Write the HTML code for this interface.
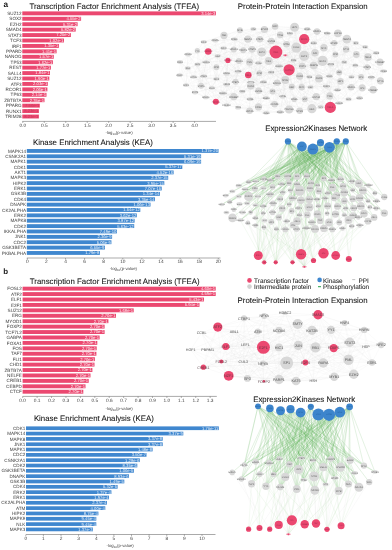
<!DOCTYPE html>
<html><head><meta charset="utf-8"><style>
html,body{margin:0;padding:0;background:#fff;}
svg{display:block;font-family:"Liberation Sans",sans-serif;will-change:transform;text-rendering:geometricPrecision;}
</style></head><body>
<svg width="392" height="550" viewBox="0 0 392 550">
<path d="M286.6 44.3L252.1 49.4M235.5 81.8L250.1 99.2M317.0 31.6L337.9 33.4M217.7 55.8L258.5 63.0M317.0 31.6L304.2 55.8M187.8 68.2L205.7 97.4M223.6 48.2L217.7 55.8M233.8 96.7L242.4 91.6M317.0 31.6L313.7 65.5M215.1 40.5L215.9 101.8M233.8 96.7L238.1 107.7M291.8 86.8L320.6 106.9M271.3 72.4L289.1 109.4M206.2 62.2L216.4 67.3M249.6 62.2L216.4 67.3M371.3 77.5L348.6 99.2M335.4 54.5L351.2 87.2M293.6 60.5L299.7 76.2M242.4 91.6L258.5 90.8M238.9 60.9L277.1 82.7M330.3 107.4L339.2 103.1M351.2 87.2L339.2 103.1M289.1 69.8L376.3 52.8M216.4 78.8L211.8 87.8M346.8 39.2L285.3 80.1M216.4 67.3L226.6 73.7M344.3 62.2L329.8 95.9M180.0 62.0L186.0 85.1M383.8 71.1L362.2 87.8M224.0 35.4L197.5 64.5M299.7 76.2L291.8 86.8M195.0 92.6L201.1 85.7M316.2 96.7L311.9 108.7M224.0 35.4L216.4 78.8M280.2 34.9L286.6 44.3M258.5 63.0L311.9 108.7M268.7 60.9L285.3 80.1M319.0 78.5L339.2 103.1M302.2 66.0L313.7 65.5M282.7 96.7L274.6 104.3M275.9 52.0L211.8 87.8M329.5 76.2L294.2 99.6M362.2 87.8L339.2 103.1M329.5 76.2L340.5 81.4M282.7 96.7L299.7 110.7M235.5 81.8L242.4 91.6M346.1 49.4L326.4 86.5M278.9 66.0L289.1 69.8M361.0 77.0L351.2 87.2M286.6 44.3L296.3 47.6M317.0 31.6L334.1 43.0M294.6 27.2L259.8 39.2M285.3 55.3L258.5 90.8M233.8 96.7L215.9 101.8M278.9 66.0L304.2 55.8M291.8 86.8L301.7 87.2M294.2 99.6L301.7 87.2M278.9 66.0L313.7 65.5M356.3 54.5L344.3 62.2M233.8 96.7L249.6 110.7M293.6 60.5L346.8 39.2M371.3 77.5L362.2 87.8M344.3 62.2L339.2 72.4M249.6 62.2L259.3 73.2M322.6 60.9L299.7 76.2M351.2 87.2L359.6 98.0M242.4 91.6L250.1 99.2M226.6 84.7L258.5 90.8M227.9 60.4L250.8 85.7M234.3 39.2L261.8 52.0M226.6 84.7L258.5 106.9M294.6 27.2L304.8 99.2M234.3 39.2L268.7 60.9M226.6 73.7L242.4 91.6M224.0 35.4L227.9 60.4M299.7 76.2L309.3 76.8M272.5 91.6L266.2 112.8M248.3 75.0L235.5 81.8M296.3 47.6L278.9 66.0M239.9 30.3L234.3 39.2M319.0 78.5L326.4 86.5M261.8 52.0L275.9 52.0M239.9 30.3L233.8 49.4M275.9 52.0L351.5 76.8M239.9 30.3L238.9 60.9M285.3 80.1L272.5 91.6M282.7 96.7L280.2 112.0M271.3 41.0L313.7 43.0M266.2 112.8L280.2 112.0M304.2 55.8L313.7 65.5M266.2 98.0L274.6 104.3M285.3 80.1L274.6 104.3M362.2 87.8L359.6 98.0M329.5 76.2L337.4 89.8M275.9 52.0L249.6 110.7M361.0 77.0L340.5 81.4M285.3 80.1L299.7 110.7M317.0 31.6L327.2 33.4M208.2 51.5L195.0 92.6M291.8 86.8L282.7 96.7M294.2 99.6L289.1 109.4M291.8 86.8L289.1 109.4M233.8 96.7L226.6 105.1M293.6 60.5L263.6 81.8M249.6 62.2L268.7 60.9M186.0 85.1L222.8 93.4M285.3 80.1L311.9 108.7M322.6 60.9L330.8 64.7M334.1 43.0L376.3 52.8M206.2 62.2L203.7 76.2M275.1 26.5L278.9 66.0M351.2 87.2L373.1 89.8M346.8 39.2L339.2 72.4M294.6 27.2L258.5 106.9M216.4 78.8L201.1 85.7M355.8 43.0L346.1 49.4M258.5 63.0L250.8 85.7M224.0 35.4L261.8 52.0M307.3 29.0L313.7 43.0M180.0 62.0L193.5 76.8M258.5 106.9L249.6 110.7M226.6 73.7L215.9 101.8M227.9 60.4L266.2 98.0M239.9 30.3L264.4 29.5M197.5 64.5L216.4 67.3M316.2 96.7L299.7 110.7M275.9 52.0L299.7 76.2M285.3 55.3L271.3 72.4M313.7 43.0L311.9 108.7M280.2 34.9L275.9 52.0M239.9 30.3L275.9 52.0M285.3 55.3L317.0 31.6M263.6 81.8L242.4 91.6M266.2 98.0L280.2 112.0M285.3 80.1L280.2 112.0M248.3 75.0L320.6 106.9M179.5 75.2L186.0 85.1M259.3 73.2L250.1 99.2M208.2 51.5L188.0 54.5M285.3 55.3L309.3 76.8M330.8 64.7L319.0 78.5M317.0 31.6L313.7 43.0M238.9 60.9L238.1 71.6M208.2 51.5L238.1 71.6M337.4 89.8L329.8 95.9M275.1 26.5L286.6 44.3M293.6 60.5L289.1 69.8M346.8 39.2L355.8 43.0M252.1 49.4L261.8 52.0M271.3 72.4L266.2 98.0M346.8 39.2L368.0 57.1M293.6 60.5L304.2 55.8M271.3 72.4L280.2 112.0M249.6 62.2L248.3 75.0M206.2 62.2L248.3 75.0M299.7 110.7L320.6 106.9M249.6 110.7L266.2 112.8M227.9 60.4L302.2 66.0M383.8 71.1L380.4 80.8M351.2 87.2L348.6 99.2M309.3 76.8L301.7 87.2M227.9 60.4L226.6 84.7M307.3 29.0L317.0 31.6M224.0 35.4L208.2 51.5M211.8 87.8L215.9 101.8M294.6 27.2L330.3 107.4M289.1 69.8L339.2 103.1M224.0 35.4L217.7 55.8M277.1 82.7L242.4 91.6M211.8 87.8L249.6 110.7M275.9 52.0L346.8 39.2M258.5 63.0L266.2 98.0M197.5 64.5L179.5 75.2M275.9 52.0L315.0 52.8M319.0 78.5L310.4 87.2M238.1 71.6L259.3 73.2M187.8 68.2L216.4 67.3M319.0 78.5L348.6 99.2M361.0 77.0L371.3 77.5M275.9 52.0L277.1 82.7M348.6 99.2L339.2 103.1M266.2 98.0L258.5 106.9M188.0 54.5L211.8 87.8M365.2 46.8L322.6 60.9M238.9 60.9L249.6 62.2M264.4 29.5L227.9 60.4M293.6 60.5L296.3 47.6M259.3 73.2L238.1 107.7M271.3 72.4L302.2 66.0M208.2 51.5L186.0 85.1M371.3 77.5L380.4 80.8M301.7 87.2L316.2 96.7M337.4 89.8L351.2 87.2M261.8 52.0L316.2 96.7M264.4 29.5L307.3 29.0M337.4 89.8L311.9 108.7M351.5 76.8L359.6 98.0M249.6 62.2L258.5 63.0M186.0 85.1L205.7 97.4M203.7 76.2L205.7 97.4M334.1 43.0L355.8 43.0M322.6 60.9L313.7 65.5M322.6 60.9L329.5 76.2M346.8 39.2L329.5 76.2M351.2 87.2L362.2 87.8M351.2 87.2L320.6 106.9M224.0 35.4L239.9 30.3M234.3 39.2L197.3 50.7M294.6 27.2L310.4 87.2M368.0 57.1L351.2 87.2M224.0 35.4L259.8 39.2M268.7 60.9L289.1 69.8M309.3 76.8L351.2 87.2M211.8 87.8L233.8 96.7M233.8 49.4L226.6 84.7M307.3 29.0L304.2 39.2M277.1 82.7L285.3 80.1M211.8 87.8L226.6 105.1M289.1 69.8L326.4 86.5M272.5 91.6L301.7 87.2M216.4 67.3L222.8 93.4M277.1 82.7L249.6 110.7M239.9 30.3L253.4 29.0M197.5 64.5L206.2 62.2M187.8 68.2L179.5 75.2M197.5 64.5L203.7 76.2M197.3 50.7L197.5 64.5M376.3 52.8L339.2 72.4M340.5 81.4L326.4 86.5M329.5 76.2L291.8 86.8M285.3 80.1L291.8 86.8M304.8 99.2L330.3 107.4M271.3 41.0L307.3 29.0M348.6 99.2L359.6 98.0M264.4 29.5L261.8 52.0M179.5 75.2L193.5 76.8M193.5 76.8L211.8 87.8M365.2 46.8L380.0 62.2M337.9 33.4L322.6 60.9M335.4 54.5L322.6 60.9M301.7 87.2L337.4 89.8M238.9 60.9L226.6 73.7M275.1 26.5L280.2 34.9M293.6 60.5L278.9 66.0M271.3 72.4L291.8 86.8M275.1 26.5L275.9 52.0M346.8 39.2L334.1 43.0M203.7 76.2L226.6 84.7M351.5 76.8L330.3 107.4M346.8 39.2L356.3 54.5M226.6 73.7L263.6 81.8M217.7 55.8L233.8 96.7M252.1 49.4L258.5 63.0M258.5 90.8L272.5 91.6M346.8 39.2L367.3 67.3M258.5 90.8L274.6 104.3M289.9 33.6L322.6 60.9M234.3 39.2L247.8 39.2M227.9 60.4L211.8 87.8M268.7 60.9L250.8 82.6M272.5 91.6L282.7 96.7M258.5 63.0L291.8 86.8M307.3 29.0L323.9 47.7M289.1 69.8L330.3 107.4M272.5 91.6L289.1 109.4M250.8 82.6L250.8 85.7M271.3 41.0L261.8 52.0M313.7 65.5L285.3 80.1M197.5 64.5L187.8 68.2M275.9 52.0L337.9 33.4M271.3 41.0L268.7 60.9M285.3 55.3L268.7 60.9M238.1 71.6L248.3 75.0M197.3 50.7L227.9 60.4M346.1 49.4L315.0 52.8M187.8 68.2L206.2 62.2M376.3 52.8L383.8 71.1M346.1 49.4L330.8 64.7M250.1 99.2L266.2 112.8M304.8 99.2L348.6 99.2M187.8 68.2L203.7 76.2M340.5 81.4L373.1 89.8M259.3 73.2L299.7 76.2M264.4 29.5L289.9 33.6M263.6 81.8L277.1 82.7M348.6 99.2L330.3 107.4M340.5 81.4L330.3 107.4M188.0 54.5L201.1 85.7M302.2 66.0L329.8 95.9M365.2 46.8L335.4 54.5M293.6 60.5L286.6 44.3M337.9 33.4L346.1 49.4M365.2 46.8L344.3 62.2M293.6 60.5L285.3 55.3M330.8 64.7L344.3 62.2M238.1 107.7L274.6 104.3M208.2 51.5L193.5 76.8M301.7 87.2L304.8 99.2M271.3 72.4L309.3 76.8M351.5 76.8L310.4 87.2M227.9 60.4L216.4 67.3M355.3 65.5L373.1 89.8M367.3 67.3L371.3 77.5M380.4 80.8L373.1 89.8M346.8 39.2L365.2 46.8M258.5 63.0L271.3 72.4M201.1 85.7L205.7 97.4M222.8 93.4L258.5 106.9M258.5 90.8L266.2 98.0M247.8 39.2L235.5 81.8M309.3 76.8L272.5 91.6M243.2 50.2L249.6 62.2M289.1 69.8L242.4 91.6M259.8 39.2L296.3 47.6M289.1 69.8L310.4 87.2M243.2 50.2L278.9 66.0M268.7 60.9L278.9 66.0M313.7 43.0L319.0 78.5M275.9 52.0L238.1 71.6M368.0 57.1L337.4 89.8M319.0 78.5L339.2 72.4M211.8 87.8L222.8 93.4M252.1 49.4L258.5 90.8M304.2 55.8L339.2 72.4M277.1 82.7L282.7 96.7M248.3 75.0L250.8 85.7M250.1 99.2L238.1 107.7M248.3 75.0L272.5 91.6M253.4 29.0L304.2 55.8M346.1 49.4L383.8 71.1M285.3 55.3L248.3 75.0M248.3 75.0L274.6 104.3M197.3 50.7L206.2 62.2M226.6 105.1L266.2 112.8M304.8 99.2L320.6 106.9M340.5 81.4L348.6 99.2M261.8 52.0L302.2 66.0M197.3 50.7L203.7 76.2M264.4 29.5L259.8 39.2M327.2 33.4L339.2 72.4M261.8 52.0L226.6 84.7M302.2 66.0L311.9 108.7M296.3 47.6L316.2 96.7M193.5 76.8L201.1 85.7M286.6 44.3L263.6 81.8M365.2 46.8L376.3 52.8M205.7 97.4L215.9 101.8M261.8 52.0L258.5 90.8M193.5 76.8L233.8 96.7M301.7 87.2L326.4 86.5M337.9 33.4L344.3 62.2M335.4 54.5L344.3 62.2M238.1 107.7L280.2 112.0M351.5 76.8L362.2 87.8M275.1 26.5L271.3 41.0M233.8 49.4L197.5 64.5M337.4 89.8L304.8 99.2M278.9 66.0L289.1 109.4M233.8 49.4L216.4 67.3M226.6 73.7L238.1 71.6M368.0 57.1L367.3 67.3M304.2 39.2L266.2 112.8M356.3 54.5L373.1 89.8M226.6 73.7L250.8 82.6M258.5 63.0L216.4 78.8M304.2 39.2L330.3 107.4M289.9 33.6L304.2 39.2M289.1 69.8L285.3 80.1M258.5 90.8L258.5 106.9M233.8 49.4L304.2 39.2M278.9 66.0L311.9 108.7M259.8 39.2L249.6 62.2M289.1 69.8L249.6 110.7M211.8 87.8L250.8 85.7M313.7 65.5L330.8 64.7M275.9 52.0L278.9 66.0M215.1 40.5L234.3 39.2M280.2 112.0L311.9 108.7M271.3 41.0L252.1 49.4M197.3 50.7L208.2 51.5M259.3 73.2L263.6 81.8M271.3 41.0L258.5 63.0M250.8 82.6L258.5 90.8M376.3 52.8L367.3 67.3M250.8 85.7L272.5 91.6M250.8 82.6L258.5 106.9M250.1 99.2L249.6 110.7M197.3 50.7L187.8 68.2M302.2 66.0L294.2 99.6M226.6 105.1L238.1 107.7M339.2 72.4L340.5 81.4M264.4 29.5L294.6 27.2M340.5 81.4L320.6 106.9M280.2 34.9L302.2 66.0M293.6 60.5L280.2 34.9M203.7 76.2L216.4 78.8M337.9 33.4L323.9 47.7M355.3 65.5L351.5 76.8M205.7 97.4L233.8 96.7M315.0 52.8L285.3 80.1M311.9 108.7L339.2 103.1M337.9 33.4L376.3 52.8M335.4 54.5L376.3 52.8M205.7 97.4L226.6 105.1M238.1 107.7L258.5 106.9M264.4 29.5L296.3 47.6M233.8 49.4L227.9 60.4M227.9 60.4L206.2 62.2M278.9 66.0L294.2 99.6M380.4 80.8L362.2 87.8M216.4 78.8L235.5 81.8M367.3 67.3L361.0 77.0M208.2 51.5L282.7 96.7M258.5 63.0L259.3 73.2M289.1 69.8L299.7 76.2M309.3 76.8L319.0 78.5M304.2 39.2L310.4 87.2M304.2 39.2L348.6 99.2M289.9 33.6L307.3 29.0M258.5 90.8L250.1 99.2M203.7 41.8L216.4 78.8M293.6 60.5L301.7 87.2M243.2 50.2L238.9 60.9M253.4 29.0L247.8 39.2M346.8 39.2L320.6 106.9M275.9 52.0L285.3 55.3M259.8 39.2L285.3 55.3M289.1 69.8L301.7 87.2M319.0 78.5L329.5 76.2M320.6 106.9L339.2 103.1M289.1 109.4L299.7 110.7M250.8 82.6L291.8 86.8M285.3 55.3L296.3 47.6M248.3 75.0L226.6 84.7M327.2 33.4L337.9 33.4M346.1 49.4L356.3 54.5M296.3 47.6L222.8 93.4M327.2 33.4L304.2 55.8M259.3 73.2L304.2 55.8M346.1 49.4L367.3 67.3M340.5 81.4L301.7 87.2M327.2 33.4L313.7 65.5M296.3 47.6L266.2 98.0M280.2 34.9L322.6 60.9M339.2 72.4L337.4 89.8M264.4 29.5L247.8 39.2M217.7 55.8L238.1 71.6M302.2 66.0L299.7 110.7M337.9 33.4L346.8 39.2M315.0 52.8L299.7 76.2M329.8 95.9L311.9 108.7M289.9 33.6L261.8 52.0M203.7 41.8L223.6 48.2M223.6 48.2L304.2 55.8M258.5 63.0L268.7 60.9M289.1 69.8L315.0 52.8M227.9 60.4L248.3 75.0M247.8 39.2L227.9 60.4M278.9 66.0L274.6 104.3M233.8 49.4L206.2 62.2M368.0 57.1L355.3 65.5M201.1 85.7L211.8 87.8M203.7 41.8L179.5 75.2M274.6 104.3L266.2 112.8M293.6 60.5L282.7 96.7M233.8 49.4L203.7 76.2M368.0 57.1L361.0 77.0M289.1 69.8L277.1 82.7M253.4 29.0L275.1 26.5M206.2 62.2L201.1 85.7M322.6 60.9L329.8 95.9M289.1 109.4L280.2 112.0M289.1 109.4L304.8 99.2M252.1 49.4L215.9 101.8M299.7 76.2L310.4 87.2M280.2 112.0L299.7 110.7M215.1 40.5L223.6 48.2M193.5 76.8L195.0 92.6M380.0 62.2L373.1 89.8M259.3 73.2L250.8 82.6M339.2 72.4L371.3 77.5M346.1 49.4L365.2 46.8M250.8 85.7L258.5 90.8M327.2 33.4L334.1 43.0M280.2 34.9L317.0 31.6M235.5 81.8L215.9 101.8M286.6 44.3L249.6 62.2M217.7 55.8L249.6 62.2M264.4 29.5L275.1 26.5M294.6 27.2L296.3 47.6M315.0 52.8L330.8 64.7M223.6 48.2L188.0 54.5M356.3 54.5L376.3 52.8M186.0 85.1L203.7 76.2M355.3 65.5L339.2 72.4M205.7 97.4L222.8 93.4M310.4 87.2L351.2 87.2M311.9 108.7L330.3 107.4M294.2 99.6L311.9 108.7M310.4 87.2L311.9 108.7M223.6 48.2L250.8 82.6M233.8 49.4L217.7 55.8M238.9 60.9L250.8 85.7M208.2 51.5L250.8 85.7M278.9 66.0L266.2 98.0M368.0 57.1L380.0 62.2M242.4 91.6L238.1 107.7M323.9 47.7L322.6 60.9M258.5 63.0L248.3 75.0M326.4 86.5L320.6 106.9M203.7 41.8L206.2 62.2M322.6 60.9L351.2 87.2M216.4 67.3L216.4 78.8M313.7 43.0L323.9 47.7M253.4 29.0L234.3 39.2M299.7 76.2L285.3 80.1M253.4 29.0L233.8 49.4M215.9 101.8L266.2 98.0M296.3 47.6L313.7 43.0M188.0 54.5L186.0 85.1M296.3 47.6L322.6 60.9M362.2 87.8L373.1 89.8M302.2 66.0L319.0 78.5M261.8 52.0L259.3 73.2M239.9 30.3L216.4 67.3M304.2 55.8L367.3 67.3M261.8 52.0L307.3 29.0M250.8 85.7L250.1 99.2M235.5 81.8L233.8 96.7M261.8 52.0L323.9 47.7M268.7 60.9L311.9 108.7M239.9 30.3L304.2 39.2M286.6 44.3L285.3 55.3M280.2 34.9L304.2 39.2M223.6 48.2L243.2 50.2M291.8 86.8L294.2 99.6M223.6 48.2L249.6 62.2M304.2 39.2L315.0 52.8M355.3 65.5L383.8 71.1M356.3 54.5L330.8 64.7M217.7 55.8L235.5 81.8M355.3 65.5L380.4 80.8M294.2 99.6L316.2 96.7M310.4 87.2L316.2 96.7M289.9 33.6L252.1 49.4M233.8 49.4L252.1 49.4M289.1 69.8L337.9 33.4M203.7 41.8L208.2 51.5M208.2 51.5L205.7 97.4M203.7 41.8L217.7 55.8M226.6 84.7L242.4 91.6M242.4 91.6L249.6 110.7M289.1 69.8L313.7 65.5M326.4 86.5L329.8 95.9M226.6 84.7L238.1 107.7M346.8 39.2L340.5 81.4M253.4 29.0L264.4 29.5M313.7 43.0L315.0 52.8M248.3 75.0L216.4 78.8M234.3 39.2L289.1 69.8M296.3 47.6L271.3 72.4M248.3 75.0L304.2 39.2M215.9 101.8L258.5 106.9M248.3 75.0L335.4 54.5M261.8 52.0L268.7 60.9M299.7 76.2L301.7 87.2M239.9 30.3L227.9 60.4M362.2 87.8L348.6 99.2M193.5 76.8L186.0 85.1M304.2 55.8L302.2 66.0M250.8 85.7L242.4 91.6M329.5 76.2L326.4 86.5M275.9 52.0L289.1 109.4M266.2 112.8L330.3 107.4M197.5 64.5L201.1 85.7M329.5 76.2L359.6 98.0M275.9 52.0L351.2 87.2M294.6 27.2L286.6 44.3M291.8 86.8L272.5 91.6M259.8 39.2L311.9 108.7M361.0 77.0L339.2 103.1M304.2 39.2L355.8 43.0M238.1 71.6L226.6 105.1M315.0 52.8L313.7 65.5M187.8 68.2L215.9 101.8M356.3 54.5L368.0 57.1M278.9 66.0L322.6 60.9M329.8 95.9L339.2 103.1M356.3 54.5L383.8 71.1M294.6 27.2L226.6 73.7M294.2 99.6L299.7 110.7M310.4 87.2L299.7 110.7M203.7 41.8L239.9 30.3M311.9 108.7L320.6 106.9M247.8 39.2L259.8 39.2M330.8 64.7L330.3 107.4M252.1 49.4L248.3 75.0M238.9 60.9L226.6 84.7M247.8 39.2L252.1 49.4M242.4 91.6L226.6 105.1M208.2 51.5L258.5 90.8M323.9 47.7L335.4 54.5M226.6 84.7L215.9 101.8M216.4 78.8L222.8 93.4M180.0 62.0L179.5 75.2M355.8 43.0L376.3 52.8M216.4 67.3L203.7 76.2M299.7 76.2L339.2 72.4M334.1 43.0L340.5 81.4M234.3 39.2L238.1 71.6M248.3 75.0L259.3 73.2M299.7 76.2L282.7 96.7M195.0 92.6L205.7 97.4M296.3 47.6L304.2 39.2M280.2 34.9L261.8 52.0M239.9 30.3L261.8 52.0M268.7 60.9L250.8 85.7M304.2 55.8L322.6 60.9M302.2 66.0L309.3 76.8M266.2 98.0L266.2 112.8M261.8 52.0L263.6 81.8M235.5 81.8L222.8 93.4M285.3 55.3L299.7 76.2M304.2 55.8L291.8 86.8M286.6 44.3L275.9 52.0M317.0 31.6L304.2 39.2M361.0 77.0L359.6 98.0M223.6 48.2L233.8 49.4M294.6 27.2L233.8 49.4M217.7 55.8L197.5 64.5M291.8 86.8L266.2 98.0M285.3 55.3L201.1 85.7M304.2 39.2L304.2 55.8M233.8 96.7L272.5 91.6M317.0 31.6L344.3 62.2M291.8 86.8L280.2 112.0M294.2 99.6L280.2 112.0M304.2 39.2L313.7 65.5M293.6 60.5L327.2 33.4M294.2 99.6L304.8 99.2M310.4 87.2L304.8 99.2M197.3 50.7L215.9 101.8M371.3 77.5L337.4 89.8M249.6 62.2L238.1 71.6M293.6 60.5L302.2 66.0M299.7 110.7L311.9 108.7M203.7 41.8L197.3 50.7M249.6 62.2L250.8 82.6M293.6 60.5L319.0 78.5M383.8 71.1L371.3 77.5M322.6 60.9L371.3 77.5M226.6 84.7L233.8 96.7M271.3 72.4L330.3 107.4M274.6 104.3L289.1 109.4M234.3 39.2L243.2 50.2M226.6 84.7L226.6 105.1M216.4 67.3L248.3 75.0M355.8 43.0L330.8 64.7M248.3 75.0L203.7 76.2M296.3 47.6L259.3 73.2M195.0 92.6L226.6 84.7M316.2 96.7L330.3 107.4M272.5 91.6L311.9 108.7M296.3 47.6L307.3 29.0M239.9 30.3L208.2 51.5M261.8 52.0L258.5 63.0M285.3 80.1L242.4 91.6M282.7 96.7L249.6 110.7M313.7 65.5L320.6 106.9M285.3 55.3L346.8 39.2M339.2 72.4L351.5 76.8M179.5 75.2L216.4 67.3M361.0 77.0L373.1 89.8M294.6 27.2L280.2 34.9M179.5 75.2L216.4 78.8M317.0 31.6L323.9 47.7M285.3 55.3L277.1 82.7M294.6 27.2L275.9 52.0M278.9 66.0L304.2 39.2M361.0 77.0L330.3 107.4M197.3 50.7L201.1 85.7M359.6 98.0L339.2 103.1M233.8 96.7L266.2 98.0M346.1 49.4L311.9 108.7M291.8 86.8L326.4 86.5M310.4 87.2L326.4 86.5M344.3 62.2L355.3 65.5M203.7 41.8L224.0 35.4M365.2 46.8L362.2 87.8M271.3 72.4L310.4 87.2M322.6 60.9L319.0 78.5M275.1 26.5L307.3 29.0M252.1 49.4L250.8 82.6M294.6 27.2L301.7 87.2M286.6 44.3L311.9 108.7M216.4 78.8L205.7 97.4M294.6 27.2L329.8 95.9M233.8 49.4L211.8 87.8M226.6 73.7L250.8 85.7M258.5 106.9L274.6 104.3M180.0 62.0L187.8 68.2M355.8 43.0L368.0 57.1M258.5 63.0L242.4 91.6M272.5 91.6L294.2 99.6M380.0 62.2L383.8 71.1M355.8 43.0L383.8 71.1M258.5 106.9L299.7 110.7M268.7 60.9L302.2 66.0M307.3 29.0L330.8 64.7M380.0 62.2L380.4 80.8M235.5 81.8L250.8 82.6M319.0 78.5L289.1 109.4M277.1 82.7L289.1 109.4M239.9 30.3L259.8 39.2M316.2 96.7L348.6 99.2M271.3 41.0L263.6 81.8M239.9 30.3L258.5 63.0M266.2 98.0L249.6 110.7M248.3 75.0L299.7 110.7M263.6 81.8L294.2 99.6M208.2 51.5L197.5 64.5M285.3 80.1L320.6 106.9M208.2 51.5L216.4 67.3M193.5 76.8L226.6 105.1M317.0 31.6L315.0 52.8M208.2 51.5L216.4 78.8M291.8 86.8L250.1 99.2M264.4 29.5L289.1 69.8M271.3 72.4L285.3 80.1M337.4 89.8L339.2 103.1M275.1 26.5L261.8 52.0M203.7 76.2L211.8 87.8M238.9 60.9L304.2 39.2M344.3 62.2L309.3 76.8M252.1 49.4L249.6 62.2M334.1 43.0L365.2 46.8M322.6 60.9L355.3 65.5M346.8 39.2L355.3 65.5M322.6 60.9L361.0 77.0M252.1 49.4L278.9 66.0M322.6 60.9L291.8 86.8M294.6 27.2L289.1 109.4M216.4 78.8L226.6 84.7M234.3 39.2L233.8 49.4M234.3 39.2L238.9 60.9M355.8 43.0L304.2 55.8M296.3 47.6L217.7 55.8M227.9 60.4L226.6 105.1M272.5 91.6L274.6 104.3M197.5 64.5L188.0 54.5M224.0 35.4L226.6 73.7M195.0 92.6L211.8 87.8M316.2 96.7L320.6 106.9M187.8 68.2L195.0 92.6M238.1 71.6L250.8 82.6M376.3 52.8L371.3 77.5M285.3 55.3L289.1 69.8M282.7 96.7L289.1 109.4M263.6 81.8L250.8 85.7M285.3 55.3L337.9 33.4M208.2 51.5L223.6 48.2M285.3 55.3L304.2 55.8M263.6 81.8L272.5 91.6M259.3 73.2L222.8 93.4M346.1 49.4L337.4 89.8M330.8 64.7L339.2 72.4M365.2 46.8L339.2 72.4M361.0 77.0L362.2 87.8M271.3 72.4L299.7 76.2M275.1 26.5L289.9 33.6M359.6 98.0L330.3 107.4M275.1 26.5L208.2 51.5M233.8 96.7L250.1 99.2M346.8 39.2L346.1 49.4M293.6 60.5L304.2 39.2M252.1 49.4L285.3 55.3M222.8 93.4L238.1 107.7M344.3 62.2L351.5 76.8M334.1 43.0L322.6 60.9M322.6 60.9L309.3 76.8M294.6 27.2L294.2 99.6M367.3 67.3L373.1 89.8M334.1 43.0L361.0 77.0M309.3 76.8L326.4 86.5M224.0 35.4L234.3 39.2M268.7 60.9L271.3 72.4M211.8 87.8L205.7 97.4M226.6 73.7L226.6 84.7M224.0 35.4L233.8 49.4M355.8 43.0L356.3 54.5M272.5 91.6L266.2 98.0M277.1 82.7L272.5 91.6M307.3 29.0L304.2 55.8M271.3 41.0L296.3 47.6M307.3 29.0L313.7 65.5M272.5 91.6L304.8 99.2M247.8 39.2L215.9 101.8M239.9 30.3L247.8 39.2M329.5 76.2L339.2 72.4M250.8 82.6L266.2 112.8M313.7 65.5L340.5 81.4M319.0 78.5L299.7 110.7M304.8 99.2L311.9 108.7M285.3 55.3L238.1 71.6M282.7 96.7L294.2 99.6M340.5 81.4L329.8 95.9M275.9 52.0L361.0 77.0M285.3 80.1L282.7 96.7M250.8 82.6L330.3 107.4M266.2 98.0L289.1 109.4M259.3 73.2L250.8 85.7M264.4 29.5L243.2 50.2M263.6 81.8L266.2 98.0M365.2 46.8L368.0 57.1M261.8 52.0L242.4 91.6M259.3 73.2L272.5 91.6M301.7 87.2L310.4 87.2M208.2 51.5L206.2 62.2M238.9 60.9L206.2 62.2M335.4 54.5L330.8 64.7M337.9 33.4L330.8 64.7M335.4 54.5L339.2 72.4M275.1 26.5L259.8 39.2M351.5 76.8L351.2 87.2M271.3 72.4L277.1 82.7M337.4 89.8L330.3 107.4M293.6 60.5L307.3 29.0M186.0 85.1L201.1 85.7M203.7 76.2L201.1 85.7M346.8 39.2L335.4 54.5M226.6 73.7L235.5 81.8M222.8 93.4L215.9 101.8M252.1 49.4L238.9 60.9M334.1 43.0L346.1 49.4M322.6 60.9L344.3 62.2M201.1 85.7L238.1 107.7M383.8 71.1L351.5 76.8M234.3 39.2L223.6 48.2M211.8 87.8L226.6 84.7M227.9 60.4L222.8 93.4M355.8 43.0L365.2 46.8M275.9 52.0L271.3 72.4M258.5 63.0L277.1 82.7M258.5 106.9L266.2 112.8M275.9 52.0L317.0 31.6M258.5 63.0L282.7 96.7M197.5 64.5L180.0 62.0M216.4 67.3L242.4 91.6M215.1 40.5L227.9 60.4M285.3 55.3L249.6 62.2M271.3 41.0L249.6 62.2M250.8 82.6L242.4 91.6M277.1 82.7L280.2 112.0M187.8 68.2L186.0 85.1M285.3 80.1L330.3 107.4M238.1 71.6L235.5 81.8M197.3 50.7L188.0 54.5M275.9 52.0L309.3 76.8M285.3 55.3L278.9 66.0M313.7 65.5L337.4 89.8M340.5 81.4L351.2 87.2M304.8 99.2L316.2 96.7M248.3 75.0L250.1 99.2M250.1 99.2L311.9 108.7M271.3 72.4L263.6 81.8M263.6 81.8L258.5 90.8M296.3 47.6L326.4 86.5M261.8 52.0L285.3 80.1M208.2 51.5L217.7 55.8M337.9 33.4L355.8 43.0M179.5 75.2L195.0 92.6M335.4 54.5L368.0 57.1M330.8 64.7L329.5 76.2M238.9 60.9L248.3 75.0M275.1 26.5L294.6 27.2M351.5 76.8L340.5 81.4M351.5 76.8L316.2 96.7M337.4 89.8L348.6 99.2M222.8 93.4L233.8 96.7M275.1 26.5L296.3 47.6M346.8 39.2L323.9 47.7M252.1 49.4L275.9 52.0M346.8 39.2L376.3 52.8M222.8 93.4L226.6 105.1M278.9 66.0L304.8 99.2M334.1 43.0L335.4 54.5M201.1 85.7L215.9 101.8M227.9 60.4L304.2 55.8M243.2 50.2L227.9 60.4M249.6 110.7L280.2 112.0M195.0 92.6L206.2 62.2M289.1 69.8L294.2 99.6M195.0 92.6L203.7 76.2M309.3 76.8L310.4 87.2M268.7 60.9L259.3 73.2M289.1 69.8L340.5 81.4M320.6 106.9L330.3 107.4M224.0 35.4L223.6 48.2M307.3 29.0L327.2 33.4M211.8 87.8L250.1 99.2M373.1 89.8L359.6 98.0M271.3 41.0L286.6 44.3M249.6 62.2L311.9 108.7M277.1 82.7L258.5 106.9M197.5 64.5L193.5 76.8M376.3 52.8L380.0 62.2M180.0 62.0L211.8 87.8M238.1 71.6L271.3 72.4M250.8 82.6L249.6 110.7M346.1 49.4L355.3 65.5M203.7 41.8L227.9 60.4M304.8 99.2L299.7 110.7M361.0 77.0L380.4 80.8M340.5 81.4L316.2 96.7M339.2 72.4L326.4 86.5M271.3 72.4L289.1 69.8M365.2 46.8L356.3 54.5M304.2 55.8L304.8 99.2M271.3 72.4L304.2 55.8M337.9 33.4L304.2 55.8M365.2 46.8L367.3 67.3M330.8 64.7L367.3 67.3M304.2 55.8L339.2 103.1M335.4 54.5L313.7 65.5M238.1 107.7L249.6 110.7M286.6 44.3L322.6 60.9M335.4 54.5L329.5 76.2M275.1 26.5L247.8 39.2M351.5 76.8L337.4 89.8M380.4 80.8L340.5 81.4M227.9 60.4L238.1 71.6M337.4 89.8L362.2 87.8M275.1 26.5L243.2 50.2M294.6 27.2L302.2 66.0M315.0 52.8L316.2 96.7M226.6 73.7L216.4 78.8M286.6 44.3L291.8 86.8M334.1 43.0L323.9 47.7M201.1 85.7L233.8 96.7M223.6 48.2L226.6 84.7M289.1 69.8L250.8 85.7M309.3 76.8L285.3 80.1M289.9 33.6L289.1 69.8M289.9 33.6L304.2 55.8M249.6 62.2L222.8 93.4M224.0 35.4L253.4 29.0M253.4 29.0L275.9 52.0M368.0 57.1L362.2 87.8M323.9 47.7L310.4 87.2M259.8 39.2L259.3 73.2M313.7 65.5L319.0 78.5M319.0 78.5L291.8 86.8M277.1 82.7L291.8 86.8M215.1 40.5L208.2 51.5M277.1 82.7L250.1 99.2M215.1 40.5L217.7 55.8M296.3 47.6L309.3 76.8M376.3 52.8L344.3 62.2M327.2 33.4L313.7 43.0M197.3 50.7L285.3 55.3M187.8 68.2L193.5 76.8M346.1 49.4L380.0 62.2M197.3 50.7L180.0 62.0M261.8 52.0L315.0 52.8M340.5 81.4L337.4 89.8M248.3 75.0L249.6 110.7M197.3 50.7L226.6 73.7M327.2 33.4L355.3 65.5M186.0 85.1L195.0 92.6M264.4 29.5L280.2 34.9M271.3 72.4L250.8 82.6M351.5 76.8L371.3 77.5M293.6 60.5L259.8 39.2M337.9 33.4L334.1 43.0M286.6 44.3L317.0 31.6M337.9 33.4L356.3 54.5M285.3 55.3L362.2 87.8M294.6 27.2L313.7 43.0M289.9 33.6L296.3 47.6M238.1 71.6L226.6 84.7M294.6 27.2L322.6 60.9M368.0 57.1L376.3 52.8M326.4 86.5L351.2 87.2M217.7 55.8L211.8 87.8M326.4 86.5L311.9 108.7M258.5 63.0L250.8 82.6M258.5 90.8L282.7 96.7M323.9 47.7L351.5 76.8M259.8 39.2L271.3 41.0M259.8 39.2L261.8 52.0M253.4 29.0L223.6 48.2M275.9 52.0L268.7 60.9M289.1 69.8L280.2 112.0M268.7 60.9L248.3 75.0M253.4 29.0L227.9 60.4M215.1 40.5L259.8 39.2M271.3 41.0L280.2 34.9M259.3 73.2L271.3 72.4M313.7 65.5L291.8 86.8M215.1 40.5L252.1 49.4M271.3 41.0L275.9 52.0M299.7 76.2L311.9 108.7M346.1 49.4L335.4 54.5M193.5 76.8L235.5 81.8M250.1 99.2L266.2 98.0M248.3 75.0L233.8 96.7M346.1 49.4L344.3 62.2M250.1 99.2L280.2 112.0M248.3 75.0L226.6 105.1M346.1 49.4L351.5 76.8M264.4 29.5L293.6 60.5M271.3 72.4L278.9 66.0M304.2 55.8L266.2 112.8M217.7 55.8L216.4 67.3M355.3 65.5L367.3 67.3M264.4 29.5L223.6 48.2M339.2 72.4L348.6 99.2M217.7 55.8L216.4 78.8M285.3 55.3L329.8 95.9M294.6 27.2L317.0 31.6M233.8 49.4L243.2 50.2M278.9 66.0L242.4 91.6M227.9 60.4L226.6 73.7M367.3 67.3L383.8 71.1M247.8 39.2L296.3 47.6M289.1 69.8L302.2 66.0M304.2 39.2L274.6 104.3M367.3 67.3L380.4 80.8M203.7 41.8L188.0 54.5M356.3 54.5L337.4 89.8M226.6 73.7L203.7 76.2M326.4 86.5L316.2 96.7M274.6 104.3L311.9 108.7M243.2 50.2L252.1 49.4M250.8 82.6L263.6 81.8M309.3 76.8L282.7 96.7M313.7 43.0L304.2 55.8M253.4 29.0L271.3 41.0M206.2 62.2L205.7 97.4M252.1 49.4L250.8 85.7M275.9 52.0L248.3 75.0M313.7 65.5L309.3 76.8M215.1 40.5L197.3 50.7M261.8 52.0L289.1 69.8M250.8 85.7L233.8 96.7M327.2 33.4L304.2 39.2M250.1 99.2L258.5 106.9M250.8 85.7L226.6 105.1M327.2 33.4L335.4 54.5M217.7 55.8L227.9 60.4M275.9 52.0L299.7 110.7M315.0 52.8L302.2 66.0M261.8 52.0L329.5 76.2M264.4 29.5L271.3 41.0M285.3 55.3L282.7 96.7M223.6 48.2L197.5 64.5M351.5 76.8L361.0 77.0M339.2 72.4L320.6 106.9M304.2 55.8L310.4 87.2M356.3 54.5L367.3 67.3M329.8 95.9L330.3 107.4M285.3 55.3L351.2 87.2M356.3 54.5L371.3 77.5M289.9 33.6L286.6 44.3M227.9 60.4L238.9 60.9M294.6 27.2L304.2 39.2M278.9 66.0L285.3 80.1M227.9 60.4L193.5 76.8M247.8 39.2L243.2 50.2M208.2 51.5L211.8 87.8M289.1 69.8L322.6 60.9M278.9 66.0L215.9 101.8M326.4 86.5L337.4 89.8M247.8 39.2L249.6 62.2M323.9 47.7L315.0 52.8M368.0 57.1L383.8 71.1M233.8 49.4L235.5 81.8M258.5 63.0L235.5 81.8M368.0 57.1L380.4 80.8M274.6 104.3L316.2 96.7M344.3 62.2L373.1 89.8M289.1 69.8L291.8 86.8M313.7 43.0L334.1 43.0M206.2 62.2L226.6 84.7M259.8 39.2L252.1 49.4M346.8 39.2L359.6 98.0M249.6 62.2L258.5 90.8M289.1 109.4L301.7 87.2M215.1 40.5L224.0 35.4M188.0 54.5L179.5 75.2M302.2 66.0L299.7 76.2M296.3 47.6L330.8 64.7M250.8 85.7L277.1 82.7M261.8 52.0L250.8 82.6M193.5 76.8L216.4 78.8M304.2 55.8L351.5 76.8M327.2 33.4L323.9 47.7M239.9 30.3L304.2 55.8M315.0 52.8L322.6 60.9M223.6 48.2L227.9 60.4M217.7 55.8L206.2 62.2M186.0 85.1L226.6 73.7M294.2 99.6L266.2 112.8M329.8 95.9L348.6 99.2M304.2 39.2L302.2 66.0M355.3 65.5L361.0 77.0M205.7 97.4L242.4 91.6M223.6 48.2L259.3 73.2M356.3 54.5L319.0 78.5M294.6 27.2L307.3 29.0M247.8 39.2L286.6 44.3M329.5 76.2L330.3 107.4M233.8 49.4L238.9 60.9M208.2 51.5L285.3 80.1M226.6 84.7L222.8 93.4M249.6 62.2L322.6 60.9M344.3 62.2L310.4 87.2M326.4 86.5L339.2 103.1M180.0 62.0L195.0 92.6M383.8 71.1L373.1 89.8M334.1 43.0L326.4 86.5M253.4 29.0L259.8 39.2M248.3 75.0L289.1 69.8M253.4 29.0L252.1 49.4M215.9 101.8L226.6 105.1M261.8 52.0L249.6 62.2M188.0 54.5L206.2 62.2M188.0 54.5L203.7 76.2M302.2 66.0L339.2 72.4M235.5 81.8L226.6 84.7M327.2 33.4L346.8 39.2M302.2 66.0L277.1 82.7M329.5 76.2L329.8 95.9M275.9 52.0L258.5 106.9M294.6 27.2L271.3 41.0M238.1 71.6L205.7 97.4M285.3 55.3L250.8 85.7M223.6 48.2L261.8 52.0M304.2 39.2L313.7 43.0M217.7 55.8L187.8 68.2M294.6 27.2L261.8 52.0M329.8 95.9L320.6 106.9M356.3 54.5L355.3 65.5M310.4 87.2L348.6 99.2M203.7 41.8L215.1 40.5M223.6 48.2L203.7 76.2M289.9 33.6L280.2 34.9M371.3 77.5L373.1 89.8M203.7 41.8L234.3 39.2M278.9 66.0L277.1 82.7M208.2 51.5L201.1 85.7M247.8 39.2L233.8 49.4M335.4 54.5L329.8 95.9M238.9 60.9L233.8 96.7M274.6 104.3L280.2 112.0M289.1 69.8L344.3 62.2M293.6 60.5L215.9 101.8M216.4 78.8L250.1 99.2M180.0 62.0L188.0 54.5M346.8 39.2L310.4 87.2M380.0 62.2L367.3 67.3M248.3 75.0L250.8 82.6M380.0 62.2L371.3 77.5M299.7 76.2L258.5 90.8M316.2 96.7L329.8 95.9M334.1 43.0L330.3 107.4M239.9 30.3L243.2 50.2M195.0 92.6L215.9 101.8M188.0 54.5L187.8 68.2M299.7 76.2L326.4 86.5M296.3 47.6L304.2 55.8M239.9 30.3L249.6 62.2M304.2 55.8L315.0 52.8M261.8 52.0L226.6 73.7M235.5 81.8L322.6 60.9M193.5 76.8L206.2 62.2M261.8 52.0L235.5 81.8M193.5 76.8L203.7 76.2M294.6 27.2L289.9 33.6M304.2 55.8L277.1 82.7" stroke="#cccccc" stroke-width="0.16" fill="none" opacity="0.5"/>
<ellipse cx="203.7" cy="41.8" rx="3.04" ry="1.89" fill="#dcdcdc"/>
<text x="203.7" y="42.58" font-size="2.16" text-anchor="middle" fill="#606060">EZH2</text>
<ellipse cx="215.1" cy="40.5" rx="3.04" ry="1.89" fill="#dcdcdc"/>
<text x="215.1" y="41.28" font-size="2.16" text-anchor="middle" fill="#606060">CEBPB</text>
<circle cx="224.0" cy="35.4" r="3.60" fill="#d8d8d8"/>
<text x="224.0" y="36.26" font-size="2.40" text-anchor="middle" fill="#606060">RB1</text>
<circle cx="239.9" cy="30.3" r="3.00" fill="#d8d8d8"/>
<text x="239.9" y="31.16" font-size="2.40" text-anchor="middle" fill="#606060">MYB</text>
<ellipse cx="253.4" cy="29.0" rx="3.04" ry="1.89" fill="#dcdcdc"/>
<text x="253.4" y="29.78" font-size="2.16" text-anchor="middle" fill="#606060">ATM</text>
<circle cx="264.4" cy="29.5" r="3.60" fill="#d8d8d8"/>
<text x="264.4" y="30.36" font-size="2.40" text-anchor="middle" fill="#606060">EP300</text>
<circle cx="275.1" cy="26.5" r="3.30" fill="#d8d8d8"/>
<text x="275.1" y="27.36" font-size="2.40" text-anchor="middle" fill="#606060">MAX</text>
<circle cx="294.6" cy="27.2" r="4.50" fill="#d8d8d8"/>
<text x="294.6" y="28.06" font-size="2.40" text-anchor="middle" fill="#606060">LEF1</text>
<ellipse cx="289.9" cy="33.6" rx="3.04" ry="1.89" fill="#dcdcdc"/>
<text x="289.9" y="34.38" font-size="2.16" text-anchor="middle" fill="#606060">RELA</text>
<ellipse cx="293.6" cy="60.5" rx="3.04" ry="1.89" fill="#dcdcdc"/>
<text x="293.6" y="61.28" font-size="2.16" text-anchor="middle" fill="#606060">E2F4</text>
<ellipse cx="234.3" cy="39.2" rx="3.04" ry="1.89" fill="#dcdcdc"/>
<text x="234.3" y="39.98" font-size="2.16" text-anchor="middle" fill="#606060">EP300</text>
<circle cx="247.8" cy="39.2" r="3.60" fill="#d8d8d8"/>
<text x="247.8" y="40.06" font-size="2.40" text-anchor="middle" fill="#606060">RBBP4</text>
<circle cx="259.8" cy="39.2" r="3.30" fill="#d8d8d8"/>
<text x="259.8" y="40.06" font-size="2.40" text-anchor="middle" fill="#606060">CTBP1</text>
<circle cx="271.3" cy="41.0" r="3.30" fill="#d8d8d8"/>
<text x="271.3" y="41.86" font-size="2.40" text-anchor="middle" fill="#606060">HSPA8</text>
<circle cx="280.2" cy="34.9" r="3.30" fill="#d8d8d8"/>
<text x="280.2" y="35.76" font-size="2.40" text-anchor="middle" fill="#606060">TP53</text>
<circle cx="286.6" cy="44.3" r="3.30" fill="#d8d8d8"/>
<text x="286.6" y="45.16" font-size="2.40" text-anchor="middle" fill="#606060">MTA2</text>
<circle cx="197.3" cy="50.7" r="2.60" fill="#d8d8d8"/>
<text x="197.3" y="51.56" font-size="2.40" text-anchor="middle" fill="#606060">YY1</text>
<circle cx="208.2" cy="51.5" r="3.30" fill="#eb4870"/>
<text x="208.2" y="52.36" font-size="2.40" text-anchor="middle" fill="#8a2040" opacity="0.75">SMAD3</text>
<ellipse cx="223.6" cy="48.2" rx="3.04" ry="1.89" fill="#dcdcdc"/>
<text x="223.6" y="48.98" font-size="2.16" text-anchor="middle" fill="#606060">EZH2</text>
<circle cx="233.8" cy="49.4" r="3.00" fill="#d8d8d8"/>
<text x="233.8" y="50.26" font-size="2.40" text-anchor="middle" fill="#606060">HDAC1</text>
<circle cx="243.2" cy="50.2" r="3.00" fill="#d8d8d8"/>
<text x="243.2" y="51.06" font-size="2.40" text-anchor="middle" fill="#606060">PARP1</text>
<circle cx="252.1" cy="49.4" r="3.30" fill="#d8d8d8"/>
<text x="252.1" y="50.26" font-size="2.40" text-anchor="middle" fill="#606060">CTBP1</text>
<circle cx="261.8" cy="52.0" r="4.60" fill="#d8d8d8"/>
<text x="261.8" y="52.86" font-size="2.40" text-anchor="middle" fill="#606060">E2F4</text>
<circle cx="275.9" cy="52.0" r="6.40" fill="#eb4870"/>
<text x="275.9" y="52.86" font-size="2.40" text-anchor="middle" fill="#8a2040" opacity="0.75">RB1</text>
<ellipse cx="285.3" cy="55.3" rx="2.4" ry="1.0" fill="#f0a0b4"/><circle cx="285.3" cy="55.3" r="0.9" fill="#eb4870"/>
<circle cx="296.3" cy="47.6" r="5.00" fill="#d8d8d8"/>
<text x="296.3" y="48.46" font-size="2.40" text-anchor="middle" fill="#606060">CUL3</text>
<ellipse cx="217.7" cy="55.8" rx="3.04" ry="1.89" fill="#dcdcdc"/>
<text x="217.7" y="56.58" font-size="2.16" text-anchor="middle" fill="#606060">UBC</text>
<circle cx="227.9" cy="60.4" r="2.60" fill="#eb4870"/>
<text x="227.9" y="61.26" font-size="2.40" text-anchor="middle" fill="#8a2040" opacity="0.75">EP300</text>
<circle cx="238.9" cy="60.9" r="3.00" fill="#d8d8d8"/>
<text x="238.9" y="61.76" font-size="2.40" text-anchor="middle" fill="#606060">HDAC1</text>
<circle cx="249.6" cy="62.2" r="3.60" fill="#d8d8d8"/>
<text x="249.6" y="63.06" font-size="2.40" text-anchor="middle" fill="#606060">PML</text>
<ellipse cx="258.5" cy="63.0" rx="3.04" ry="1.89" fill="#dcdcdc"/>
<text x="258.5" y="63.78" font-size="2.16" text-anchor="middle" fill="#606060">CHD4</text>
<circle cx="268.7" cy="60.9" r="4.00" fill="#d8d8d8"/>
<text x="268.7" y="61.76" font-size="2.40" text-anchor="middle" fill="#606060">RB1</text>
<ellipse cx="197.5" cy="64.5" rx="3.04" ry="1.89" fill="#dcdcdc"/>
<text x="197.5" y="65.28" font-size="2.16" text-anchor="middle" fill="#606060">MYB</text>
<ellipse cx="180.0" cy="62.0" rx="3.04" ry="1.89" fill="#dcdcdc"/>
<text x="180.0" y="62.78" font-size="2.16" text-anchor="middle" fill="#606060">ESR1</text>
<ellipse cx="188.0" cy="54.5" rx="3.04" ry="1.89" fill="#dcdcdc"/>
<text x="188.0" y="55.28" font-size="2.16" text-anchor="middle" fill="#606060">CCND1</text>
<ellipse cx="187.8" cy="68.2" rx="3.04" ry="1.89" fill="#dcdcdc"/>
<text x="187.8" y="68.98" font-size="2.16" text-anchor="middle" fill="#606060">RB1</text>
<ellipse cx="179.5" cy="75.2" rx="3.04" ry="1.89" fill="#dcdcdc"/>
<text x="179.5" y="75.98" font-size="2.16" text-anchor="middle" fill="#606060">CDK2</text>
<ellipse cx="193.5" cy="76.8" rx="3.04" ry="1.89" fill="#dcdcdc"/>
<text x="193.5" y="77.58" font-size="2.16" text-anchor="middle" fill="#606060">KAT2B</text>
<ellipse cx="186.0" cy="85.1" rx="3.04" ry="1.89" fill="#dcdcdc"/>
<text x="186.0" y="85.88" font-size="2.16" text-anchor="middle" fill="#606060">LEF1</text>
<ellipse cx="195.0" cy="92.6" rx="3.04" ry="1.89" fill="#dcdcdc"/>
<text x="195.0" y="93.38" font-size="2.16" text-anchor="middle" fill="#606060">STAT3</text>
<ellipse cx="206.2" cy="62.2" rx="3.04" ry="1.89" fill="#dcdcdc"/>
<text x="206.2" y="62.98" font-size="2.16" text-anchor="middle" fill="#606060">NCOA6</text>
<circle cx="216.4" cy="67.3" r="3.00" fill="#d8d8d8"/>
<text x="216.4" y="68.16" font-size="2.40" text-anchor="middle" fill="#606060">ATM</text>
<ellipse cx="226.6" cy="73.7" rx="3.04" ry="1.89" fill="#dcdcdc"/>
<text x="226.6" y="74.48" font-size="2.16" text-anchor="middle" fill="#606060">NFKB1</text>
<ellipse cx="238.1" cy="71.6" rx="3.04" ry="1.89" fill="#dcdcdc"/>
<text x="238.1" y="72.38" font-size="2.16" text-anchor="middle" fill="#606060">KAT2B</text>
<circle cx="248.3" cy="75.0" r="3.30" fill="#eb4870"/>
<text x="248.3" y="75.86" font-size="2.40" text-anchor="middle" fill="#8a2040" opacity="0.75">RELA</text>
<circle cx="259.3" cy="73.2" r="3.00" fill="#d8d8d8"/>
<text x="259.3" y="74.06" font-size="2.40" text-anchor="middle" fill="#606060">ATM</text>
<ellipse cx="271.3" cy="72.4" rx="3.04" ry="1.89" fill="#dcdcdc"/>
<text x="271.3" y="73.18" font-size="2.16" text-anchor="middle" fill="#606060">EZH2</text>
<ellipse cx="278.9" cy="66.0" rx="3.04" ry="1.89" fill="#dcdcdc"/>
<text x="278.9" y="66.78" font-size="2.16" text-anchor="middle" fill="#606060">SUMO1</text>
<circle cx="289.1" cy="69.8" r="5.60" fill="#eb4870"/>
<text x="289.1" y="70.66" font-size="2.40" text-anchor="middle" fill="#8a2040" opacity="0.75">GATA1</text>
<ellipse cx="203.7" cy="76.2" rx="3.04" ry="1.89" fill="#dcdcdc"/>
<text x="203.7" y="76.98" font-size="2.16" text-anchor="middle" fill="#606060">CTBP1</text>
<ellipse cx="216.4" cy="78.8" rx="3.04" ry="1.89" fill="#dcdcdc"/>
<text x="216.4" y="79.58" font-size="2.16" text-anchor="middle" fill="#606060">EZH2</text>
<circle cx="235.5" cy="81.8" r="3.00" fill="#d8d8d8"/>
<text x="235.5" y="82.66" font-size="2.40" text-anchor="middle" fill="#606060">CTBP1</text>
<ellipse cx="250.8" cy="82.6" rx="3.04" ry="1.89" fill="#dcdcdc"/>
<text x="250.8" y="83.38" font-size="2.16" text-anchor="middle" fill="#606060">CEBPB</text>
<ellipse cx="263.6" cy="81.8" rx="3.04" ry="1.89" fill="#dcdcdc"/>
<text x="263.6" y="82.58" font-size="2.16" text-anchor="middle" fill="#606060">EP300</text>
<ellipse cx="307.3" cy="29.0" rx="3.04" ry="1.89" fill="#dcdcdc"/>
<text x="307.3" y="29.78" font-size="2.16" text-anchor="middle" fill="#606060">SIN3A</text>
<circle cx="317.0" cy="31.6" r="3.30" fill="#d8d8d8"/>
<text x="317.0" y="32.46" font-size="2.40" text-anchor="middle" fill="#606060">HDAC1</text>
<ellipse cx="327.2" cy="33.4" rx="3.04" ry="1.89" fill="#dcdcdc"/>
<text x="327.2" y="34.18" font-size="2.16" text-anchor="middle" fill="#606060">EP300</text>
<circle cx="337.9" cy="33.4" r="3.80" fill="#d8d8d8"/>
<text x="337.9" y="34.26" font-size="2.40" text-anchor="middle" fill="#606060">HNF4A</text>
<circle cx="346.8" cy="39.2" r="4.40" fill="#d8d8d8"/>
<text x="346.8" y="40.06" font-size="2.40" text-anchor="middle" fill="#606060">RBBP4</text>
<circle cx="304.2" cy="39.2" r="5.10" fill="#eb4870"/>
<text x="304.2" y="40.06" font-size="2.40" text-anchor="middle" fill="#8a2040" opacity="0.75">EGR1</text>
<ellipse cx="313.7" cy="43.0" rx="3.04" ry="1.89" fill="#dcdcdc"/>
<text x="313.7" y="43.78" font-size="2.16" text-anchor="middle" fill="#606060">RARA</text>
<circle cx="334.1" cy="43.0" r="3.00" fill="#d8d8d8"/>
<text x="334.1" y="43.86" font-size="2.40" text-anchor="middle" fill="#606060">EP300</text>
<ellipse cx="355.8" cy="43.0" rx="3.04" ry="1.89" fill="#dcdcdc"/>
<text x="355.8" y="43.78" font-size="2.16" text-anchor="middle" fill="#606060">SP1</text>
<circle cx="323.9" cy="47.7" r="3.80" fill="#d8d8d8"/>
<text x="323.9" y="48.56" font-size="2.40" text-anchor="middle" fill="#606060">MYC</text>
<circle cx="346.1" cy="49.4" r="3.30" fill="#d8d8d8"/>
<text x="346.1" y="50.26" font-size="2.40" text-anchor="middle" fill="#606060">NFYA</text>
<ellipse cx="365.2" cy="46.8" rx="3.04" ry="1.89" fill="#dcdcdc"/>
<text x="365.2" y="47.58" font-size="2.16" text-anchor="middle" fill="#606060">RB1</text>
<circle cx="304.2" cy="55.8" r="5.10" fill="#d8d8d8"/>
<text x="304.2" y="56.66" font-size="2.40" text-anchor="middle" fill="#606060">E2F4</text>
<circle cx="315.0" cy="52.8" r="3.80" fill="#d8d8d8"/>
<text x="315.0" y="53.66" font-size="2.40" text-anchor="middle" fill="#606060">JUN</text>
<circle cx="335.4" cy="54.5" r="3.00" fill="#d8d8d8"/>
<text x="335.4" y="55.36" font-size="2.40" text-anchor="middle" fill="#606060">ATM</text>
<circle cx="322.6" cy="60.9" r="5.10" fill="#d8d8d8"/>
<text x="322.6" y="61.76" font-size="2.40" text-anchor="middle" fill="#606060">ESR1</text>
<circle cx="356.3" cy="54.5" r="3.40" fill="#d8d8d8"/>
<text x="356.3" y="55.36" font-size="2.40" text-anchor="middle" fill="#606060">SP1</text>
<circle cx="368.0" cy="57.1" r="3.90" fill="#d8d8d8"/>
<text x="368.0" y="57.96" font-size="2.40" text-anchor="middle" fill="#606060">RELA</text>
<ellipse cx="376.3" cy="52.8" rx="3.04" ry="1.89" fill="#dcdcdc"/>
<text x="376.3" y="53.58" font-size="2.16" text-anchor="middle" fill="#606060">CDK2</text>
<circle cx="380.0" cy="62.2" r="3.60" fill="#d8d8d8"/>
<text x="380.0" y="63.06" font-size="2.40" text-anchor="middle" fill="#606060">CREBBP</text>
<circle cx="302.2" cy="66.0" r="3.30" fill="#d8d8d8"/>
<text x="302.2" y="66.86" font-size="2.40" text-anchor="middle" fill="#606060">STAT3</text>
<circle cx="313.7" cy="65.5" r="3.80" fill="#d8d8d8"/>
<text x="313.7" y="66.36" font-size="2.40" text-anchor="middle" fill="#606060">CEBPB</text>
<ellipse cx="330.8" cy="64.7" rx="3.04" ry="1.89" fill="#dcdcdc"/>
<text x="330.8" y="65.48" font-size="2.16" text-anchor="middle" fill="#606060">STAT3</text>
<ellipse cx="344.3" cy="62.2" rx="3.04" ry="1.89" fill="#dcdcdc"/>
<text x="344.3" y="62.98" font-size="2.16" text-anchor="middle" fill="#606060">TBP</text>
<ellipse cx="355.3" cy="65.5" rx="3.04" ry="1.89" fill="#dcdcdc"/>
<text x="355.3" y="66.28" font-size="2.16" text-anchor="middle" fill="#606060">MYB</text>
<circle cx="367.3" cy="67.3" r="3.00" fill="#d8d8d8"/>
<text x="367.3" y="68.16" font-size="2.40" text-anchor="middle" fill="#606060">CTBP1</text>
<ellipse cx="383.8" cy="71.1" rx="3.04" ry="1.89" fill="#dcdcdc"/>
<text x="383.8" y="71.88" font-size="2.16" text-anchor="middle" fill="#606060">EP300</text>
<circle cx="299.7" cy="76.2" r="3.60" fill="#d8d8d8"/>
<text x="299.7" y="77.06" font-size="2.40" text-anchor="middle" fill="#606060">CHD4</text>
<ellipse cx="309.3" cy="76.8" rx="3.04" ry="1.89" fill="#dcdcdc"/>
<text x="309.3" y="77.58" font-size="2.16" text-anchor="middle" fill="#606060">TP53</text>
<circle cx="319.0" cy="78.5" r="4.00" fill="#d8d8d8"/>
<text x="319.0" y="79.36" font-size="2.40" text-anchor="middle" fill="#606060">CHD4</text>
<ellipse cx="329.5" cy="76.2" rx="3.04" ry="1.89" fill="#dcdcdc"/>
<text x="329.5" y="76.98" font-size="2.16" text-anchor="middle" fill="#606060">RARA</text>
<circle cx="339.2" cy="72.4" r="3.00" fill="#d8d8d8"/>
<text x="339.2" y="73.26" font-size="2.40" text-anchor="middle" fill="#606060">UBC</text>
<ellipse cx="351.5" cy="76.8" rx="3.04" ry="1.89" fill="#dcdcdc"/>
<text x="351.5" y="77.58" font-size="2.16" text-anchor="middle" fill="#606060">RB1</text>
<circle cx="361.0" cy="77.0" r="3.00" fill="#d8d8d8"/>
<text x="361.0" y="77.86" font-size="2.40" text-anchor="middle" fill="#606060">SP3</text>
<ellipse cx="371.3" cy="77.5" rx="3.04" ry="1.89" fill="#dcdcdc"/>
<text x="371.3" y="78.28" font-size="2.16" text-anchor="middle" fill="#606060">STAT3</text>
<circle cx="380.4" cy="80.8" r="3.60" fill="#d8d8d8"/>
<text x="380.4" y="81.66" font-size="2.40" text-anchor="middle" fill="#606060">NFYA</text>
<circle cx="201.1" cy="85.7" r="3.00" fill="#d8d8d8"/>
<text x="201.1" y="86.56" font-size="2.40" text-anchor="middle" fill="#606060">STAT3</text>
<ellipse cx="211.8" cy="87.8" rx="3.04" ry="1.89" fill="#dcdcdc"/>
<text x="211.8" y="88.58" font-size="2.16" text-anchor="middle" fill="#606060">CUL3</text>
<ellipse cx="226.6" cy="84.7" rx="3.04" ry="1.89" fill="#dcdcdc"/>
<text x="226.6" y="85.48" font-size="2.16" text-anchor="middle" fill="#606060">HSPA8</text>
<circle cx="250.8" cy="85.7" r="3.80" fill="#d8d8d8"/>
<text x="250.8" y="86.56" font-size="2.40" text-anchor="middle" fill="#606060">RARA</text>
<circle cx="277.1" cy="82.7" r="3.30" fill="#d8d8d8"/>
<text x="277.1" y="83.56" font-size="2.40" text-anchor="middle" fill="#606060">BRCA1</text>
<circle cx="285.3" cy="80.1" r="4.00" fill="#d8d8d8"/>
<text x="285.3" y="80.96" font-size="2.40" text-anchor="middle" fill="#606060">MTA2</text>
<circle cx="291.8" cy="86.8" r="3.00" fill="#d8d8d8"/>
<text x="291.8" y="87.66" font-size="2.40" text-anchor="middle" fill="#606060">UBC</text>
<ellipse cx="205.7" cy="97.4" rx="3.04" ry="1.89" fill="#dcdcdc"/>
<text x="205.7" y="98.18" font-size="2.16" text-anchor="middle" fill="#606060">NCOA6</text>
<ellipse cx="222.8" cy="93.4" rx="3.04" ry="1.89" fill="#dcdcdc"/>
<text x="222.8" y="94.18" font-size="2.16" text-anchor="middle" fill="#606060">SUMO1</text>
<circle cx="233.8" cy="96.7" r="3.60" fill="#d8d8d8"/>
<text x="233.8" y="97.56" font-size="2.40" text-anchor="middle" fill="#606060">CREBBP</text>
<ellipse cx="242.4" cy="91.6" rx="3.04" ry="1.89" fill="#dcdcdc"/>
<text x="242.4" y="92.38" font-size="2.16" text-anchor="middle" fill="#606060">ESR1</text>
<circle cx="258.5" cy="90.8" r="3.30" fill="#d8d8d8"/>
<text x="258.5" y="91.66" font-size="2.40" text-anchor="middle" fill="#606060">HSPA8</text>
<circle cx="272.5" cy="91.6" r="3.00" fill="#d8d8d8"/>
<text x="272.5" y="92.46" font-size="2.40" text-anchor="middle" fill="#606060">SP3</text>
<ellipse cx="282.7" cy="96.7" rx="3.04" ry="1.89" fill="#dcdcdc"/>
<text x="282.7" y="97.48" font-size="2.16" text-anchor="middle" fill="#606060">KAT2B</text>
<circle cx="215.9" cy="101.8" r="3.00" fill="#eb4870"/>
<text x="215.9" y="102.66" font-size="2.40" text-anchor="middle" fill="#8a2040" opacity="0.75">FOXO1</text>
<ellipse cx="250.1" cy="99.2" rx="3.04" ry="1.89" fill="#dcdcdc"/>
<text x="250.1" y="99.98" font-size="2.16" text-anchor="middle" fill="#606060">KAT2B</text>
<ellipse cx="266.2" cy="98.0" rx="3.04" ry="1.89" fill="#dcdcdc"/>
<text x="266.2" y="98.78" font-size="2.16" text-anchor="middle" fill="#606060">RBBP4</text>
<circle cx="294.2" cy="99.6" r="2.60" fill="#d8d8d8"/>
<text x="294.2" y="100.46" font-size="2.40" text-anchor="middle" fill="#606060">SIN3A</text>
<ellipse cx="226.6" cy="105.1" rx="3.04" ry="1.89" fill="#dcdcdc"/>
<text x="226.6" y="105.88" font-size="2.16" text-anchor="middle" fill="#606060">POLR2A</text>
<ellipse cx="238.1" cy="107.7" rx="3.04" ry="1.89" fill="#dcdcdc"/>
<text x="238.1" y="108.48" font-size="2.16" text-anchor="middle" fill="#606060">TP53</text>
<circle cx="258.5" cy="106.9" r="3.60" fill="#d8d8d8"/>
<text x="258.5" y="107.76" font-size="2.40" text-anchor="middle" fill="#606060">CDK2</text>
<circle cx="274.6" cy="104.3" r="3.30" fill="#d8d8d8"/>
<text x="274.6" y="105.16" font-size="2.40" text-anchor="middle" fill="#606060">CCND1</text>
<circle cx="289.1" cy="109.4" r="4.00" fill="#d8d8d8"/>
<text x="289.1" y="110.26" font-size="2.40" text-anchor="middle" fill="#606060">POLR2A</text>
<circle cx="249.6" cy="110.7" r="3.30" fill="#d8d8d8"/>
<text x="249.6" y="111.56" font-size="2.40" text-anchor="middle" fill="#606060">HNF4A</text>
<ellipse cx="266.2" cy="112.8" rx="3.04" ry="1.89" fill="#dcdcdc"/>
<text x="266.2" y="113.58" font-size="2.16" text-anchor="middle" fill="#606060">HNF4A</text>
<ellipse cx="280.2" cy="112.0" rx="3.04" ry="1.89" fill="#dcdcdc"/>
<text x="280.2" y="112.78" font-size="2.16" text-anchor="middle" fill="#606060">PARP1</text>
<circle cx="340.5" cy="81.4" r="3.30" fill="#d8d8d8"/>
<text x="340.5" y="82.26" font-size="2.40" text-anchor="middle" fill="#606060">LEF1</text>
<circle cx="301.7" cy="87.2" r="3.30" fill="#d8d8d8"/>
<text x="301.7" y="88.06" font-size="2.40" text-anchor="middle" fill="#606060">MYC</text>
<ellipse cx="310.4" cy="87.2" rx="3.04" ry="1.89" fill="#dcdcdc"/>
<text x="310.4" y="87.98" font-size="2.16" text-anchor="middle" fill="#606060">UBC</text>
<ellipse cx="326.4" cy="86.5" rx="3.04" ry="1.89" fill="#dcdcdc"/>
<text x="326.4" y="87.28" font-size="2.16" text-anchor="middle" fill="#606060">PARP1</text>
<ellipse cx="337.4" cy="89.8" rx="3.04" ry="1.89" fill="#dcdcdc"/>
<text x="337.4" y="90.58" font-size="2.16" text-anchor="middle" fill="#606060">HNF4A</text>
<circle cx="351.2" cy="87.2" r="3.30" fill="#d8d8d8"/>
<text x="351.2" y="88.06" font-size="2.40" text-anchor="middle" fill="#606060">HDAC1</text>
<circle cx="362.2" cy="87.8" r="3.60" fill="#d8d8d8"/>
<text x="362.2" y="88.66" font-size="2.40" text-anchor="middle" fill="#606060">SP3</text>
<circle cx="373.1" cy="89.8" r="3.80" fill="#d8d8d8"/>
<text x="373.1" y="90.66" font-size="2.40" text-anchor="middle" fill="#606060">CREBBP</text>
<circle cx="304.8" cy="99.2" r="3.00" fill="#d8d8d8"/>
<text x="304.8" y="100.06" font-size="2.40" text-anchor="middle" fill="#606060">SRF</text>
<circle cx="316.2" cy="96.7" r="3.60" fill="#d8d8d8"/>
<text x="316.2" y="97.56" font-size="2.40" text-anchor="middle" fill="#606060">HNF4A</text>
<circle cx="329.8" cy="95.9" r="3.60" fill="#d8d8d8"/>
<text x="329.8" y="96.76" font-size="2.40" text-anchor="middle" fill="#606060">PML</text>
<ellipse cx="348.6" cy="99.2" rx="3.04" ry="1.89" fill="#dcdcdc"/>
<text x="348.6" y="99.98" font-size="2.16" text-anchor="middle" fill="#606060">MYB</text>
<ellipse cx="359.6" cy="98.0" rx="3.04" ry="1.89" fill="#dcdcdc"/>
<text x="359.6" y="98.78" font-size="2.16" text-anchor="middle" fill="#606060">NPM1</text>
<circle cx="299.7" cy="110.7" r="3.30" fill="#d8d8d8"/>
<text x="299.7" y="111.56" font-size="2.40" text-anchor="middle" fill="#606060">NPM1</text>
<circle cx="311.9" cy="108.7" r="4.60" fill="#d8d8d8"/>
<text x="311.9" y="109.56" font-size="2.40" text-anchor="middle" fill="#606060">UBC</text>
<ellipse cx="320.6" cy="106.9" rx="3.04" ry="1.89" fill="#dcdcdc"/>
<text x="320.6" y="107.68" font-size="2.16" text-anchor="middle" fill="#606060">YY1</text>
<circle cx="330.3" cy="107.4" r="5.60" fill="#eb4870"/>
<text x="330.3" y="108.26" font-size="2.40" text-anchor="middle" fill="#8a2040" opacity="0.75">RELA</text>
<ellipse cx="339.2" cy="103.1" rx="3.04" ry="1.89" fill="#dcdcdc"/>
<text x="339.2" y="103.88" font-size="2.16" text-anchor="middle" fill="#606060">SUMO1</text>
<path d="M287.9 141.4L248.6 181.8M287.9 141.4L264.0 178.8M287.9 141.4L263.2 188.0M287.9 141.4L255.5 205.1M287.9 141.4L263.2 213.2M287.9 141.4L255.5 217.8M287.9 141.4L270.5 180.4M287.9 141.4L287.8 176.6M287.9 141.4L291.7 198.3M287.9 141.4L297.1 176.6M287.9 141.4L323.9 178.4M287.9 141.4L331.5 179.9M287.9 141.4L340.5 179.1M287.9 141.4L368.5 185.5M287.9 141.4L311.1 183.0M287.9 141.4L317.5 185.5M287.9 141.4L299.7 190.6M287.9 141.4L309.9 188.6M287.9 141.4L318.8 191.1M287.9 141.4L309.3 199.5M287.9 141.4L317.0 199.5M287.9 141.4L334.1 197.8M287.9 141.4L352.7 198.8M287.9 141.4L368.0 200.8M287.9 141.4L318.3 205.9M287.9 141.4L327.7 205.9M287.9 141.4L360.9 205.9M287.9 141.4L384.3 213.1M287.9 141.4L374.1 217.4M287.9 141.4L297.1 221.2M287.9 141.4L368.0 221.2M287.9 141.4L359.7 225.5M301.9 146.5L238.7 185.7M301.9 146.5L248.6 181.8M301.9 146.5L255.5 181.1M301.9 146.5L264.0 178.8M301.9 146.5L263.2 188.0M301.9 146.5L238.7 196.4M301.9 146.5L257.8 196.4M301.9 146.5L229.8 201.8M301.9 146.5L247.1 203.3M301.9 146.5L270.5 180.4M301.9 146.5L277.6 176.6M301.9 146.5L287.8 176.6M301.9 146.5L272.5 186.8M301.9 146.5L281.5 184.2M301.9 146.5L289.1 183.0M301.9 146.5L280.2 198.8M301.9 146.5L289.1 204.6M301.9 146.5L272.5 212.3M301.9 146.5L306.8 175.8M301.9 146.5L323.9 178.4M301.9 146.5L340.5 179.1M301.9 146.5L352.0 181.7M301.9 146.5L297.1 184.2M301.9 146.5L311.1 183.0M301.9 146.5L317.5 185.5M301.9 146.5L332.3 187.6M301.9 146.5L299.7 190.6M301.9 146.5L309.9 188.6M301.9 146.5L294.0 198.3M301.9 146.5L325.2 198.3M301.9 146.5L334.1 197.8M301.9 146.5L359.6 197.8M301.9 146.5L376.7 200.8M301.9 146.5L309.3 207.2M301.9 146.5L345.6 208.5M301.9 146.5L344.3 214.8M301.9 146.5L353.2 215.6M301.9 146.5L306.4 227.8M301.9 146.5L323.9 228.4M312.9 149.1L248.6 181.8M312.9 149.1L264.0 178.8M312.9 149.1L245.1 189.2M312.9 149.1L238.7 196.4M312.9 149.1L229.8 201.8M312.9 149.1L247.1 203.3M312.9 149.1L250.6 212.5M312.9 149.1L232.5 217.8M312.9 149.1L240.5 220.1M312.9 149.1L255.5 217.8M312.9 149.1L289.1 183.0M312.9 149.1L273.0 203.4M312.9 149.1L282.2 208.5M312.9 149.1L289.1 204.6M312.9 149.1L278.9 217.4M312.9 149.1L306.8 175.8M312.9 149.1L323.9 178.4M312.9 149.1L358.8 183.5M312.9 149.1L311.1 183.0M312.9 149.1L317.5 185.5M312.9 149.1L332.3 187.6M312.9 149.1L352.7 190.1M312.9 149.1L384.3 197.0M312.9 149.1L298.4 208.0M312.9 149.1L327.7 205.9M312.9 149.1L337.4 206.4M312.9 149.1L376.2 208.5M312.9 149.1L353.2 215.6M312.9 149.1L358.3 217.4M312.9 149.1L296.6 228.9M312.9 149.1L315.0 228.9M320.5 142.7L255.5 181.1M320.5 142.7L245.1 189.2M320.5 142.7L225.7 195.6M320.5 142.7L248.6 196.4M320.5 142.7L229.8 201.8M320.5 142.7L221.8 204.5M320.5 142.7L255.5 205.1M320.5 142.7L242.5 212.5M320.5 142.7L255.5 225.5M320.5 142.7L270.5 180.4M320.5 142.7L277.6 176.6M320.5 142.7L272.5 186.8M320.5 142.7L281.5 184.2M320.5 142.7L282.7 192.7M320.5 142.7L290.4 190.6M320.5 142.7L297.1 176.6M320.5 142.7L306.8 175.8M320.5 142.7L323.9 178.4M320.5 142.7L352.0 181.7M320.5 142.7L368.5 185.5M320.5 142.7L311.1 183.0M320.5 142.7L317.5 185.5M320.5 142.7L309.9 188.6M320.5 142.7L318.8 191.1M320.5 142.7L336.6 195.7M320.5 142.7L294.0 198.3M320.5 142.7L309.3 199.5M320.5 142.7L352.7 198.8M320.5 142.7L376.2 208.5M320.5 142.7L384.3 213.1M320.5 142.7L344.3 214.8M320.5 142.7L323.9 228.4M329.4 147.3L264.0 178.8M329.4 147.3L254.8 188.7M329.4 147.3L263.2 188.0M329.4 147.3L248.6 196.4M329.4 147.3L257.8 196.4M329.4 147.3L229.8 201.8M329.4 147.3L263.2 206.3M329.4 147.3L240.5 220.1M329.4 147.3L270.5 180.4M329.4 147.3L277.6 176.6M329.4 147.3L287.8 176.6M329.4 147.3L289.1 183.0M329.4 147.3L270.0 194.4M329.4 147.3L280.2 198.8M329.4 147.3L291.7 198.3M329.4 147.3L278.9 217.4M329.4 147.3L297.1 176.6M329.4 147.3L306.8 175.8M329.4 147.3L331.5 179.9M329.4 147.3L352.0 181.7M329.4 147.3L317.5 185.5M329.4 147.3L332.3 187.6M329.4 147.3L309.9 188.6M329.4 147.3L344.3 192.7M329.4 147.3L352.7 190.1M329.4 147.3L374.9 193.2M329.4 147.3L309.3 199.5M329.4 147.3L344.3 200.8M329.4 147.3L376.7 200.8M329.4 147.3L318.3 205.9M329.4 147.3L353.7 208.0M329.4 147.3L307.3 214.8M329.4 147.3L317.5 214.1M329.4 147.3L374.1 217.4M329.4 147.3L320.1 220.7M329.4 147.3L332.3 229.4M336.8 141.4L248.6 181.8M336.8 141.4L255.5 181.1M336.8 141.4L232.3 191.3M336.8 141.4L248.6 196.4M336.8 141.4L221.8 204.5M336.8 141.4L233.8 209.7M336.8 141.4L250.6 212.5M336.8 141.4L270.5 180.4M336.8 141.4L281.5 184.2M336.8 141.4L289.1 183.0M336.8 141.4L273.0 203.4M336.8 141.4L291.7 211.0M336.8 141.4L271.3 221.8M336.8 141.4L292.9 225.0M336.8 141.4L297.1 176.6M336.8 141.4L306.8 175.8M336.8 141.4L323.9 178.4M336.8 141.4L331.5 179.9M336.8 141.4L352.0 181.7M336.8 141.4L311.1 183.0M336.8 141.4L317.5 185.5M336.8 141.4L332.3 187.6M336.8 141.4L299.7 190.6M336.8 141.4L336.6 195.7M336.8 141.4L334.1 197.8M336.8 141.4L368.0 200.8M336.8 141.4L337.4 206.4M336.8 141.4L353.7 208.0M336.8 141.4L327.2 213.6M336.8 141.4L297.1 221.2M336.8 141.4L339.2 222.5M336.8 141.4L348.6 220.0M345.8 141.4L238.7 185.7M345.8 141.4L248.6 181.8M345.8 141.4L264.0 178.8M345.8 141.4L238.7 196.4M345.8 141.4L247.1 203.3M345.8 141.4L255.5 205.1M345.8 141.4L240.5 220.1M345.8 141.4L270.5 180.4M345.8 141.4L287.8 176.6M345.8 141.4L270.0 194.4M345.8 141.4L290.4 190.6M345.8 141.4L291.7 198.3M345.8 141.4L289.1 204.6M345.8 141.4L272.5 212.3M345.8 141.4L278.9 217.4M345.8 141.4L297.1 176.6M345.8 141.4L306.8 175.8M345.8 141.4L323.9 178.4M345.8 141.4L331.5 179.9M345.8 141.4L358.8 183.5M345.8 141.4L297.1 184.2M345.8 141.4L332.3 187.6M345.8 141.4L309.9 188.6M345.8 141.4L352.7 190.1M345.8 141.4L362.9 190.6M345.8 141.4L309.3 199.5M345.8 141.4L325.2 198.3M345.8 141.4L368.0 200.8M345.8 141.4L384.3 197.0M345.8 141.4L298.4 208.0M345.8 141.4L317.5 214.1M345.8 141.4L320.1 220.7" stroke="#52ad4c" stroke-width="0.24" fill="none" opacity="0.6"/>
<path d="M255.5 181.1L258.3 255.5M255.5 181.1L304.4 266.8M264.0 178.8L264.2 262.4M264.0 178.8L275.7 262.3M254.8 188.7L301.1 254.2M238.7 196.4L264.2 262.4M247.1 203.3L304.4 266.8M263.2 213.2L258.3 255.5M247.9 222.9L275.7 262.3M264.0 227.5L301.1 254.2M270.5 180.4L304.4 266.8M287.8 176.6L264.2 262.4M270.0 194.4L264.2 262.4M270.0 194.4L304.4 266.8M291.7 211.0L301.1 254.2M286.6 221.2L258.3 255.5M297.1 176.6L275.7 262.3M306.8 175.8L301.1 254.2M297.1 184.2L292.5 262.3M297.1 184.2L304.4 266.8M311.1 183.0L292.5 262.3M317.5 185.5L275.7 262.3M299.7 190.6L264.2 262.4M294.0 198.3L335.7 255.5M300.9 200.3L304.4 266.8M352.7 198.8L301.1 254.2M352.7 198.8L335.7 255.5M298.4 208.0L292.5 262.3M327.7 205.9L304.4 266.8M337.4 206.4L304.4 266.8M353.7 208.0L304.4 266.8M307.3 214.8L301.1 254.2M327.2 213.6L275.7 262.3M335.4 214.1L301.1 254.2M335.4 214.1L313.5 260.5M344.3 214.8L292.5 262.3M344.3 214.8L348.8 259.0M374.1 217.4L323.5 253.2M348.6 220.0L323.5 253.2M348.6 220.0L335.7 255.5M296.6 228.9L313.5 260.5M296.6 228.9L335.7 255.5M296.6 228.9L304.4 266.8M306.4 227.8L275.7 262.3M306.4 227.8L301.1 254.2" stroke="#c9c9c9" stroke-width="0.2" fill="none" opacity="0.5"/>
<path d="M248.6 181.8L275.7 262.3M255.5 181.1L264.2 262.4M264.0 178.8L258.3 255.5M245.1 189.2L304.4 266.8M254.8 188.7L258.3 255.5M263.2 188.0L258.3 255.5M263.2 188.0L275.7 262.3M257.8 196.4L258.3 255.5M229.8 201.8L264.2 262.4M247.1 203.3L292.5 262.3M255.5 205.1L264.2 262.4M263.2 206.3L304.4 266.8M263.2 213.2L264.2 262.4M247.9 222.9L264.2 262.4M247.9 222.9L313.5 260.5M255.5 217.8L304.4 266.8M264.0 227.5L275.7 262.3M264.5 220.5L292.5 262.3M264.5 220.5L304.4 266.8M272.5 186.8L335.7 255.5M281.5 184.2L258.3 255.5M289.1 183.0L323.5 253.2M282.7 192.7L275.7 262.3M282.7 192.7L301.1 254.2M280.2 198.8L264.2 262.4M280.2 198.8L275.7 262.3M282.2 208.5L292.5 262.3M289.1 204.6L264.2 262.4M289.1 204.6L313.5 260.5M271.3 221.8L258.3 255.5M278.9 217.4L275.7 262.3M278.9 217.4L292.5 262.3M278.9 217.4L304.4 266.8M286.6 221.2L301.1 254.2M276.4 228.9L264.2 262.4M306.8 175.8L304.4 266.8M331.5 179.9L301.1 254.2M331.5 179.9L304.4 266.8M358.8 183.5L348.8 259.0M297.1 184.2L275.7 262.3M317.5 185.5L301.1 254.2M317.5 185.5L313.5 260.5M299.7 190.6L275.7 262.3M299.7 190.6L304.4 266.8M309.9 188.6L301.1 254.2M327.7 193.2L335.7 255.5M300.9 200.3L313.5 260.5M317.0 199.5L335.7 255.5M325.2 198.3L292.5 262.3M325.2 198.3L301.1 254.2M325.2 198.3L335.7 255.5M344.3 200.8L348.8 259.0M298.4 208.0L258.3 255.5M298.4 208.0L275.7 262.3M298.4 208.0L313.5 260.5M309.3 207.2L292.5 262.3M318.3 205.9L304.4 266.8M360.9 205.9L335.7 255.5M299.7 214.8L313.5 260.5M307.3 214.8L258.3 255.5M307.3 214.8L323.5 253.2M317.5 214.1L275.7 262.3M344.3 214.8L301.1 254.2M353.2 215.6L301.1 254.2M353.2 215.6L323.5 253.2M374.1 217.4L335.7 255.5M311.9 222.5L264.2 262.4M296.6 228.9L292.5 262.3M315.0 228.9L323.5 253.2M342.5 228.5L304.4 266.8M351.7 226.2L335.7 255.5M359.7 225.5L323.5 253.2M359.7 225.5L335.7 255.5" stroke="#8fcf88" stroke-width="0.2" fill="none" opacity="0.5"/>
<ellipse cx="238.7" cy="185.7" rx="3.04" ry="1.89" fill="#dcdcdc"/>
<text x="238.7" y="186.41" font-size="1.98" text-anchor="middle" fill="#686868">CHD4</text>
<circle cx="248.6" cy="181.8" r="2.30" fill="#d8d8d8"/>
<text x="248.6" y="182.59" font-size="2.20" text-anchor="middle" fill="#686868">CDK2</text>
<ellipse cx="255.5" cy="181.1" rx="2.90" ry="1.80" fill="#dcdcdc"/>
<text x="255.5" y="181.81" font-size="1.98" text-anchor="middle" fill="#686868">BRCA1</text>
<circle cx="264.0" cy="178.8" r="2.60" fill="#d8d8d8"/>
<text x="264.0" y="179.59" font-size="2.20" text-anchor="middle" fill="#686868">KAT2B</text>
<ellipse cx="232.3" cy="191.3" rx="3.04" ry="1.89" fill="#dcdcdc"/>
<text x="232.3" y="192.01" font-size="1.98" text-anchor="middle" fill="#686868">MYC</text>
<ellipse cx="245.1" cy="189.2" rx="3.04" ry="1.89" fill="#dcdcdc"/>
<text x="245.1" y="189.91" font-size="1.98" text-anchor="middle" fill="#686868">CEBPB</text>
<circle cx="254.8" cy="188.7" r="3.00" fill="#d8d8d8"/>
<text x="254.8" y="189.49" font-size="2.20" text-anchor="middle" fill="#686868">E2F4</text>
<ellipse cx="263.2" cy="188.0" rx="3.04" ry="1.89" fill="#dcdcdc"/>
<text x="263.2" y="188.71" font-size="1.98" text-anchor="middle" fill="#686868">TP53</text>
<ellipse cx="225.7" cy="195.6" rx="2.90" ry="1.80" fill="#dcdcdc"/>
<text x="225.7" y="196.31" font-size="1.98" text-anchor="middle" fill="#686868">EP300</text>
<ellipse cx="238.7" cy="196.4" rx="3.04" ry="1.89" fill="#dcdcdc"/>
<text x="238.7" y="197.11" font-size="1.98" text-anchor="middle" fill="#686868">SP3</text>
<circle cx="248.6" cy="196.4" r="4.60" fill="#d8d8d8"/>
<text x="248.6" y="197.19" font-size="2.20" text-anchor="middle" fill="#686868">PARP1</text>
<ellipse cx="257.8" cy="196.4" rx="3.04" ry="1.89" fill="#dcdcdc"/>
<text x="257.8" y="197.11" font-size="1.98" text-anchor="middle" fill="#686868">STAT3</text>
<circle cx="229.8" cy="201.8" r="2.40" fill="#d8d8d8"/>
<text x="229.8" y="202.59" font-size="2.20" text-anchor="middle" fill="#686868">LEF1</text>
<ellipse cx="221.8" cy="204.5" rx="2.75" ry="1.71" fill="#dcdcdc"/>
<text x="221.8" y="205.21" font-size="1.98" text-anchor="middle" fill="#686868">BRCA1</text>
<ellipse cx="239.5" cy="204.0" rx="3.04" ry="1.89" fill="#dcdcdc"/>
<text x="239.5" y="204.71" font-size="1.98" text-anchor="middle" fill="#686868">ESR1</text>
<ellipse cx="247.1" cy="203.3" rx="3.04" ry="1.89" fill="#dcdcdc"/>
<text x="247.1" y="204.01" font-size="1.98" text-anchor="middle" fill="#686868">PML</text>
<ellipse cx="255.5" cy="205.1" rx="3.04" ry="1.89" fill="#dcdcdc"/>
<text x="255.5" y="205.81" font-size="1.98" text-anchor="middle" fill="#686868">SRF</text>
<circle cx="263.2" cy="206.3" r="2.30" fill="#d8d8d8"/>
<text x="263.2" y="207.09" font-size="2.20" text-anchor="middle" fill="#686868">KAT2B</text>
<circle cx="233.8" cy="209.7" r="2.20" fill="#d8d8d8"/>
<text x="233.8" y="210.49" font-size="2.20" text-anchor="middle" fill="#686868">EGR1</text>
<ellipse cx="226.4" cy="212.5" rx="2.90" ry="1.80" fill="#dcdcdc"/>
<text x="226.4" y="213.21" font-size="1.98" text-anchor="middle" fill="#686868">SRF</text>
<ellipse cx="242.5" cy="212.5" rx="3.04" ry="1.89" fill="#dcdcdc"/>
<text x="242.5" y="213.21" font-size="1.98" text-anchor="middle" fill="#686868">CCND1</text>
<circle cx="250.6" cy="212.5" r="2.20" fill="#d8d8d8"/>
<text x="250.6" y="213.29" font-size="2.20" text-anchor="middle" fill="#686868">TBP</text>
<circle cx="263.2" cy="213.2" r="2.30" fill="#d8d8d8"/>
<text x="263.2" y="213.99" font-size="2.20" text-anchor="middle" fill="#686868">ATM</text>
<circle cx="232.5" cy="217.8" r="4.40" fill="#d8d8d8"/>
<text x="232.5" y="218.59" font-size="2.20" text-anchor="middle" fill="#686868">RBBP4</text>
<ellipse cx="240.5" cy="220.1" rx="3.04" ry="1.89" fill="#dcdcdc"/>
<text x="240.5" y="220.81" font-size="1.98" text-anchor="middle" fill="#686868">CREBBP</text>
<circle cx="247.9" cy="222.9" r="2.40" fill="#d8d8d8"/>
<text x="247.9" y="223.69" font-size="2.20" text-anchor="middle" fill="#686868">ABL1</text>
<circle cx="255.5" cy="217.8" r="2.40" fill="#d8d8d8"/>
<text x="255.5" y="218.59" font-size="2.20" text-anchor="middle" fill="#686868">NPM1</text>
<circle cx="255.5" cy="225.5" r="2.30" fill="#d8d8d8"/>
<text x="255.5" y="226.29" font-size="2.20" text-anchor="middle" fill="#686868">EGR1</text>
<circle cx="264.0" cy="227.5" r="2.40" fill="#d8d8d8"/>
<text x="264.0" y="228.29" font-size="2.20" text-anchor="middle" fill="#686868">RB1</text>
<ellipse cx="264.5" cy="220.5" rx="3.04" ry="1.89" fill="#dcdcdc"/>
<text x="264.5" y="221.21" font-size="1.98" text-anchor="middle" fill="#686868">JUN</text>
<circle cx="270.5" cy="180.4" r="2.35" fill="#d8d8d8"/>
<text x="270.5" y="181.19" font-size="2.20" text-anchor="middle" fill="#686868">GATA1</text>
<circle cx="277.6" cy="176.6" r="2.91" fill="#d8d8d8"/>
<text x="277.6" y="177.39" font-size="2.20" text-anchor="middle" fill="#686868">RB1</text>
<circle cx="287.8" cy="176.6" r="3.36" fill="#d8d8d8"/>
<text x="287.8" y="177.39" font-size="2.20" text-anchor="middle" fill="#686868">KAT2B</text>
<circle cx="272.5" cy="186.8" r="2.91" fill="#d8d8d8"/>
<text x="272.5" y="187.59" font-size="2.20" text-anchor="middle" fill="#686868">MAX</text>
<circle cx="281.5" cy="184.2" r="2.35" fill="#d8d8d8"/>
<text x="281.5" y="184.99" font-size="2.20" text-anchor="middle" fill="#686868">KAT2B</text>
<circle cx="289.1" cy="183.0" r="2.91" fill="#d8d8d8"/>
<text x="289.1" y="183.79" font-size="2.20" text-anchor="middle" fill="#686868">RB1</text>
<circle cx="270.0" cy="194.4" r="2.91" fill="#d8d8d8"/>
<text x="270.0" y="195.19" font-size="2.20" text-anchor="middle" fill="#686868">SMAD3</text>
<circle cx="282.7" cy="192.7" r="2.35" fill="#d8d8d8"/>
<text x="282.7" y="193.49" font-size="2.20" text-anchor="middle" fill="#686868">MTA2</text>
<circle cx="290.4" cy="190.6" r="2.35" fill="#d8d8d8"/>
<text x="290.4" y="191.39" font-size="2.20" text-anchor="middle" fill="#686868">MYC</text>
<circle cx="280.2" cy="198.8" r="2.91" fill="#d8d8d8"/>
<text x="280.2" y="199.59" font-size="2.20" text-anchor="middle" fill="#686868">EZH2</text>
<circle cx="291.7" cy="198.3" r="2.91" fill="#d8d8d8"/>
<text x="291.7" y="199.09" font-size="2.20" text-anchor="middle" fill="#686868">ABL1</text>
<circle cx="273.0" cy="203.4" r="2.91" fill="#d8d8d8"/>
<text x="273.0" y="204.19" font-size="2.20" text-anchor="middle" fill="#686868">CEBPB</text>
<circle cx="282.2" cy="208.5" r="3.36" fill="#d8d8d8"/>
<text x="282.2" y="209.29" font-size="2.20" text-anchor="middle" fill="#686868">EZH2</text>
<circle cx="289.1" cy="204.6" r="2.35" fill="#d8d8d8"/>
<text x="289.1" y="205.39" font-size="2.20" text-anchor="middle" fill="#686868">JUN</text>
<circle cx="272.5" cy="212.3" r="2.91" fill="#d8d8d8"/>
<text x="272.5" y="213.09" font-size="2.20" text-anchor="middle" fill="#686868">KAT2B</text>
<circle cx="291.7" cy="211.0" r="2.91" fill="#d8d8d8"/>
<text x="291.7" y="211.79" font-size="2.20" text-anchor="middle" fill="#686868">SP1</text>
<circle cx="271.3" cy="221.8" r="2.91" fill="#d8d8d8"/>
<text x="271.3" y="222.59" font-size="2.20" text-anchor="middle" fill="#686868">LEF1</text>
<circle cx="278.9" cy="217.4" r="3.14" fill="#d8d8d8"/>
<text x="278.9" y="218.19" font-size="2.20" text-anchor="middle" fill="#686868">UBC</text>
<circle cx="286.6" cy="221.2" r="2.35" fill="#d8d8d8"/>
<text x="286.6" y="221.99" font-size="2.20" text-anchor="middle" fill="#686868">HSPA8</text>
<circle cx="276.4" cy="228.9" r="2.35" fill="#d8d8d8"/>
<text x="276.4" y="229.69" font-size="2.20" text-anchor="middle" fill="#686868">MYB</text>
<circle cx="285.3" cy="229.4" r="2.91" fill="#d8d8d8"/>
<text x="285.3" y="230.19" font-size="2.20" text-anchor="middle" fill="#686868">FOXO1</text>
<circle cx="292.9" cy="225.0" r="3.36" fill="#d8d8d8"/>
<text x="292.9" y="225.79" font-size="2.20" text-anchor="middle" fill="#686868">ATM</text>
<circle cx="297.1" cy="176.6" r="3.36" fill="#d8d8d8"/>
<text x="297.1" y="177.39" font-size="2.20" text-anchor="middle" fill="#686868">SP1</text>
<circle cx="306.8" cy="175.8" r="2.91" fill="#d8d8d8"/>
<text x="306.8" y="176.59" font-size="2.20" text-anchor="middle" fill="#686868">CUL3</text>
<circle cx="323.9" cy="178.4" r="2.91" fill="#d8d8d8"/>
<text x="323.9" y="179.19" font-size="2.20" text-anchor="middle" fill="#686868">SP1</text>
<circle cx="331.5" cy="179.9" r="2.35" fill="#d8d8d8"/>
<text x="331.5" y="180.69" font-size="2.20" text-anchor="middle" fill="#686868">RBBP4</text>
<circle cx="340.5" cy="179.1" r="2.91" fill="#d8d8d8"/>
<text x="340.5" y="179.89" font-size="2.20" text-anchor="middle" fill="#686868">HDAC1</text>
<circle cx="352.0" cy="181.7" r="2.35" fill="#d8d8d8"/>
<text x="352.0" y="182.49" font-size="2.20" text-anchor="middle" fill="#686868">NFKB1</text>
<circle cx="358.8" cy="183.5" r="3.92" fill="#d8d8d8"/>
<text x="358.8" y="184.29" font-size="2.20" text-anchor="middle" fill="#686868">UBC</text>
<circle cx="368.5" cy="185.5" r="2.35" fill="#d8d8d8"/>
<text x="368.5" y="186.29" font-size="2.20" text-anchor="middle" fill="#686868">CREBBP</text>
<circle cx="297.1" cy="184.2" r="2.91" fill="#d8d8d8"/>
<text x="297.1" y="184.99" font-size="2.20" text-anchor="middle" fill="#686868">NPM1</text>
<circle cx="311.1" cy="183.0" r="2.91" fill="#d8d8d8"/>
<text x="311.1" y="183.79" font-size="2.20" text-anchor="middle" fill="#686868">GATA1</text>
<circle cx="317.5" cy="185.5" r="2.35" fill="#d8d8d8"/>
<text x="317.5" y="186.29" font-size="2.20" text-anchor="middle" fill="#686868">HIC1</text>
<circle cx="332.3" cy="187.6" r="3.92" fill="#d8d8d8"/>
<text x="332.3" y="188.39" font-size="2.20" text-anchor="middle" fill="#686868">PML</text>
<circle cx="343.0" cy="186.0" r="3.36" fill="#d8d8d8"/>
<text x="343.0" y="186.79" font-size="2.20" text-anchor="middle" fill="#686868">MTA2</text>
<circle cx="299.7" cy="190.6" r="5.15" fill="#d8d8d8"/>
<text x="299.7" y="191.39" font-size="2.20" text-anchor="middle" fill="#686868">FOXO1</text>
<circle cx="309.9" cy="188.6" r="3.36" fill="#d8d8d8"/>
<text x="309.9" y="189.39" font-size="2.20" text-anchor="middle" fill="#686868">ESR1</text>
<circle cx="318.8" cy="191.1" r="3.36" fill="#d8d8d8"/>
<text x="318.8" y="191.89" font-size="2.20" text-anchor="middle" fill="#686868">RB1</text>
<circle cx="327.7" cy="193.2" r="2.35" fill="#d8d8d8"/>
<text x="327.7" y="193.99" font-size="2.20" text-anchor="middle" fill="#686868">MTA2</text>
<circle cx="336.6" cy="195.7" r="3.70" fill="#d8d8d8"/>
<text x="336.6" y="196.49" font-size="2.20" text-anchor="middle" fill="#686868">HSPA8</text>
<circle cx="344.3" cy="192.7" r="3.70" fill="#d8d8d8"/>
<text x="344.3" y="193.49" font-size="2.20" text-anchor="middle" fill="#686868">CCND1</text>
<circle cx="352.7" cy="190.1" r="2.35" fill="#d8d8d8"/>
<text x="352.7" y="190.89" font-size="2.20" text-anchor="middle" fill="#686868">UBC</text>
<circle cx="362.9" cy="190.6" r="3.92" fill="#d8d8d8"/>
<text x="362.9" y="191.39" font-size="2.20" text-anchor="middle" fill="#686868">BRCA1</text>
<circle cx="374.9" cy="193.2" r="2.35" fill="#d8d8d8"/>
<text x="374.9" y="193.99" font-size="2.20" text-anchor="middle" fill="#686868">RB1</text>
<circle cx="294.0" cy="198.3" r="2.35" fill="#d8d8d8"/>
<text x="294.0" y="199.09" font-size="2.20" text-anchor="middle" fill="#686868">RELA</text>
<circle cx="300.9" cy="200.3" r="3.70" fill="#d8d8d8"/>
<text x="300.9" y="201.09" font-size="2.20" text-anchor="middle" fill="#686868">HSPA8</text>
<circle cx="309.3" cy="199.5" r="3.70" fill="#d8d8d8"/>
<text x="309.3" y="200.29" font-size="2.20" text-anchor="middle" fill="#686868">HNF4A</text>
<circle cx="317.0" cy="199.5" r="2.35" fill="#d8d8d8"/>
<text x="317.0" y="200.29" font-size="2.20" text-anchor="middle" fill="#686868">NFKB1</text>
<circle cx="325.2" cy="198.3" r="2.35" fill="#d8d8d8"/>
<text x="325.2" y="199.09" font-size="2.20" text-anchor="middle" fill="#686868">HNF4A</text>
<circle cx="334.1" cy="197.8" r="3.36" fill="#d8d8d8"/>
<text x="334.1" y="198.59" font-size="2.20" text-anchor="middle" fill="#686868">RB1</text>
<circle cx="344.3" cy="200.8" r="3.36" fill="#d8d8d8"/>
<text x="344.3" y="201.59" font-size="2.20" text-anchor="middle" fill="#686868">JUN</text>
<circle cx="352.7" cy="198.8" r="3.36" fill="#d8d8d8"/>
<text x="352.7" y="199.59" font-size="2.20" text-anchor="middle" fill="#686868">LEF1</text>
<circle cx="359.6" cy="197.8" r="3.92" fill="#d8d8d8"/>
<text x="359.6" y="198.59" font-size="2.20" text-anchor="middle" fill="#686868">NFKB1</text>
<circle cx="368.0" cy="200.8" r="2.35" fill="#d8d8d8"/>
<text x="368.0" y="201.59" font-size="2.20" text-anchor="middle" fill="#686868">UBC</text>
<circle cx="376.7" cy="200.8" r="2.35" fill="#d8d8d8"/>
<text x="376.7" y="201.59" font-size="2.20" text-anchor="middle" fill="#686868">RBBP4</text>
<circle cx="384.3" cy="197.0" r="3.14" fill="#d8d8d8"/>
<text x="384.3" y="197.79" font-size="2.20" text-anchor="middle" fill="#686868">CHD4</text>
<circle cx="298.4" cy="208.0" r="2.35" fill="#d8d8d8"/>
<text x="298.4" y="208.79" font-size="2.20" text-anchor="middle" fill="#686868">STAT3</text>
<circle cx="309.3" cy="207.2" r="4.26" fill="#d8d8d8"/>
<text x="309.3" y="207.99" font-size="2.20" text-anchor="middle" fill="#686868">MYC</text>
<circle cx="318.3" cy="205.9" r="2.35" fill="#d8d8d8"/>
<text x="318.3" y="206.69" font-size="2.20" text-anchor="middle" fill="#686868">MYC</text>
<circle cx="327.7" cy="205.9" r="3.36" fill="#d8d8d8"/>
<text x="327.7" y="206.69" font-size="2.20" text-anchor="middle" fill="#686868">SIN3A</text>
<circle cx="337.4" cy="206.4" r="3.36" fill="#d8d8d8"/>
<text x="337.4" y="207.19" font-size="2.20" text-anchor="middle" fill="#686868">HSPA8</text>
<circle cx="345.6" cy="208.5" r="2.35" fill="#d8d8d8"/>
<text x="345.6" y="209.29" font-size="2.20" text-anchor="middle" fill="#686868">LEF1</text>
<circle cx="353.7" cy="208.0" r="3.36" fill="#d8d8d8"/>
<text x="353.7" y="208.79" font-size="2.20" text-anchor="middle" fill="#686868">HSPA8</text>
<circle cx="360.9" cy="205.9" r="3.92" fill="#d8d8d8"/>
<text x="360.9" y="206.69" font-size="2.20" text-anchor="middle" fill="#686868">BRCA1</text>
<circle cx="369.8" cy="207.2" r="2.35" fill="#d8d8d8"/>
<text x="369.8" y="207.99" font-size="2.20" text-anchor="middle" fill="#686868">SP1</text>
<circle cx="376.2" cy="208.5" r="2.35" fill="#d8d8d8"/>
<text x="376.2" y="209.29" font-size="2.20" text-anchor="middle" fill="#686868">NFKB1</text>
<circle cx="384.3" cy="213.1" r="3.70" fill="#d8d8d8"/>
<text x="384.3" y="213.89" font-size="2.20" text-anchor="middle" fill="#686868">PML</text>
<circle cx="299.7" cy="214.8" r="2.35" fill="#d8d8d8"/>
<text x="299.7" y="215.59" font-size="2.20" text-anchor="middle" fill="#686868">RELA</text>
<circle cx="307.3" cy="214.8" r="3.36" fill="#d8d8d8"/>
<text x="307.3" y="215.59" font-size="2.20" text-anchor="middle" fill="#686868">PML</text>
<circle cx="317.5" cy="214.1" r="3.92" fill="#d8d8d8"/>
<text x="317.5" y="214.89" font-size="2.20" text-anchor="middle" fill="#686868">RARA</text>
<circle cx="327.2" cy="213.6" r="2.35" fill="#d8d8d8"/>
<text x="327.2" y="214.39" font-size="2.20" text-anchor="middle" fill="#686868">SP1</text>
<circle cx="335.4" cy="214.1" r="3.70" fill="#d8d8d8"/>
<text x="335.4" y="214.89" font-size="2.20" text-anchor="middle" fill="#686868">KAT2B</text>
<circle cx="344.3" cy="214.8" r="2.35" fill="#d8d8d8"/>
<text x="344.3" y="215.59" font-size="2.20" text-anchor="middle" fill="#686868">HIC1</text>
<circle cx="353.2" cy="215.6" r="3.36" fill="#d8d8d8"/>
<text x="353.2" y="216.39" font-size="2.20" text-anchor="middle" fill="#686868">SUMO1</text>
<circle cx="363.9" cy="213.6" r="3.92" fill="#d8d8d8"/>
<text x="363.9" y="214.39" font-size="2.20" text-anchor="middle" fill="#686868">NFYA</text>
<circle cx="374.1" cy="217.4" r="3.36" fill="#d8d8d8"/>
<text x="374.1" y="218.19" font-size="2.20" text-anchor="middle" fill="#686868">ABL1</text>
<circle cx="297.1" cy="221.2" r="3.92" fill="#d8d8d8"/>
<text x="297.1" y="221.99" font-size="2.20" text-anchor="middle" fill="#686868">ABL1</text>
<circle cx="311.9" cy="222.5" r="2.91" fill="#d8d8d8"/>
<text x="311.9" y="223.29" font-size="2.20" text-anchor="middle" fill="#686868">SUMO1</text>
<circle cx="320.1" cy="220.7" r="3.36" fill="#d8d8d8"/>
<text x="320.1" y="221.49" font-size="2.20" text-anchor="middle" fill="#686868">TBP</text>
<circle cx="329.0" cy="222.5" r="3.92" fill="#d8d8d8"/>
<text x="329.0" y="223.29" font-size="2.20" text-anchor="middle" fill="#686868">MYB</text>
<circle cx="339.2" cy="222.5" r="2.91" fill="#d8d8d8"/>
<text x="339.2" y="223.29" font-size="2.20" text-anchor="middle" fill="#686868">UBC</text>
<circle cx="348.6" cy="220.0" r="3.92" fill="#d8d8d8"/>
<text x="348.6" y="220.79" font-size="2.20" text-anchor="middle" fill="#686868">RB1</text>
<circle cx="358.3" cy="217.4" r="2.35" fill="#d8d8d8"/>
<text x="358.3" y="218.19" font-size="2.20" text-anchor="middle" fill="#686868">BRCA1</text>
<circle cx="368.0" cy="221.2" r="3.36" fill="#d8d8d8"/>
<text x="368.0" y="221.99" font-size="2.20" text-anchor="middle" fill="#686868">KAT2B</text>
<circle cx="296.6" cy="228.9" r="2.91" fill="#d8d8d8"/>
<text x="296.6" y="229.69" font-size="2.20" text-anchor="middle" fill="#686868">STAT3</text>
<circle cx="306.4" cy="227.8" r="2.35" fill="#d8d8d8"/>
<text x="306.4" y="228.59" font-size="2.20" text-anchor="middle" fill="#686868">CREBBP</text>
<circle cx="315.0" cy="228.9" r="3.92" fill="#d8d8d8"/>
<text x="315.0" y="229.69" font-size="2.20" text-anchor="middle" fill="#686868">FOXO1</text>
<circle cx="323.9" cy="228.4" r="3.70" fill="#d8d8d8"/>
<text x="323.9" y="229.19" font-size="2.20" text-anchor="middle" fill="#686868">RBBP4</text>
<circle cx="332.3" cy="229.4" r="2.91" fill="#d8d8d8"/>
<text x="332.3" y="230.19" font-size="2.20" text-anchor="middle" fill="#686868">RBBP4</text>
<circle cx="342.5" cy="228.5" r="2.35" fill="#d8d8d8"/>
<text x="342.5" y="229.29" font-size="2.20" text-anchor="middle" fill="#686868">SIN3A</text>
<circle cx="351.7" cy="226.2" r="2.35" fill="#d8d8d8"/>
<text x="351.7" y="226.99" font-size="2.20" text-anchor="middle" fill="#686868">EZH2</text>
<circle cx="359.7" cy="225.5" r="2.35" fill="#d8d8d8"/>
<text x="359.7" y="226.29" font-size="2.20" text-anchor="middle" fill="#686868">CEBPB</text>
<circle cx="287.9" cy="141.4" r="3.10" fill="#3d85cc"/>
<text x="287.9" y="142.05" font-size="1.80" text-anchor="middle" fill="#1f5a96" opacity="0.8">GATA1</text>
<circle cx="301.9" cy="146.5" r="4.90" fill="#3d85cc"/>
<text x="301.9" y="147.15" font-size="1.80" text-anchor="middle" fill="#1f5a96" opacity="0.8">MYC</text>
<circle cx="312.9" cy="149.1" r="5.50" fill="#3d85cc"/>
<text x="312.9" y="149.75" font-size="1.80" text-anchor="middle" fill="#1f5a96" opacity="0.8">RBBP4</text>
<circle cx="320.5" cy="142.7" r="3.60" fill="#3d85cc"/>
<text x="320.5" y="143.35" font-size="1.80" text-anchor="middle" fill="#1f5a96" opacity="0.8">GATA1</text>
<circle cx="329.4" cy="147.3" r="5.40" fill="#3d85cc"/>
<text x="329.4" y="147.95" font-size="1.80" text-anchor="middle" fill="#1f5a96" opacity="0.8">CHD4</text>
<circle cx="336.8" cy="141.4" r="3.10" fill="#3d85cc"/>
<text x="336.8" y="142.05" font-size="1.80" text-anchor="middle" fill="#1f5a96" opacity="0.8">POLR2A</text>
<circle cx="345.8" cy="141.4" r="3.10" fill="#3d85cc"/>
<text x="345.8" y="142.05" font-size="1.80" text-anchor="middle" fill="#1f5a96" opacity="0.8">EZH2</text>
<circle cx="258.3" cy="255.5" r="4.50" fill="#eb4870"/>
<text x="258.3" y="256.15" font-size="1.80" text-anchor="middle" fill="#8a2040" opacity="0.75">ESR1</text>
<circle cx="264.2" cy="262.4" r="2.10" fill="#eb4870"/>
<text x="264.2" y="263.05" font-size="1.80" text-anchor="middle" fill="#8a2040" opacity="0.75">CTBP1</text>
<circle cx="275.7" cy="262.3" r="2.10" fill="#eb4870"/>
<text x="275.7" y="262.95" font-size="1.80" text-anchor="middle" fill="#8a2040" opacity="0.75">JUN</text>
<circle cx="292.5" cy="262.3" r="2.10" fill="#eb4870"/>
<text x="292.5" y="262.95" font-size="1.80" text-anchor="middle" fill="#8a2040" opacity="0.75">CHD4</text>
<circle cx="301.1" cy="254.2" r="5.20" fill="#eb4870"/>
<text x="301.1" y="254.85" font-size="1.80" text-anchor="middle" fill="#8a2040" opacity="0.75">RBBP4</text>
<circle cx="313.5" cy="260.5" r="2.60" fill="#eb4870"/>
<text x="313.5" y="261.15" font-size="1.80" text-anchor="middle" fill="#8a2040" opacity="0.75">CUL3</text>
<circle cx="323.5" cy="253.2" r="5.20" fill="#eb4870"/>
<text x="323.5" y="253.85" font-size="1.80" text-anchor="middle" fill="#8a2040" opacity="0.75">ATM</text>
<circle cx="335.7" cy="255.5" r="4.40" fill="#eb4870"/>
<text x="335.7" y="256.15" font-size="1.80" text-anchor="middle" fill="#8a2040" opacity="0.75">NCOA6</text>
<circle cx="348.8" cy="259.0" r="3.00" fill="#eb4870"/>
<text x="348.8" y="259.65" font-size="1.80" text-anchor="middle" fill="#8a2040" opacity="0.75">HSPA8</text>
<ellipse cx="304.4" cy="266.8" rx="2.4" ry="1.0" fill="#f0a0b4"/><circle cx="304.4" cy="266.8" r="0.9" fill="#eb4870"/>
<path d="M234.3 331.2L190.7 349.8M221.3 361.4L305.4 362.5M234.3 331.2L221.3 361.4M234.3 331.2L228.7 375.8M286.7 362.9L348.5 359.8M257.8 331.5L279.0 330.2M244.0 318.2L217.8 327.1M313.4 380.7L334.2 376.8M257.8 331.5L263.4 347.3M315.5 347.4L263.9 381.2M286.7 362.9L334.2 376.8M331.1 329.9L349.8 342.2M312.0 330.3L243.3 361.4M334.2 376.8L353.8 374.2M225.8 346.4L245.3 344.4M333.7 348.1L263.9 381.2M318.0 314.8L372.0 362.5M318.0 314.8L353.8 374.2M245.3 344.4L207.6 349.5M263.4 347.3L305.4 362.5M315.5 347.4L348.5 359.8M244.0 318.2L279.0 330.2M312.0 330.3L323.3 363.0M372.0 362.5L353.8 374.2M312.0 330.3L313.4 380.7M318.0 314.8L312.0 330.3M333.7 348.1L349.8 342.2M318.0 314.8L279.0 347.4M225.8 346.4L279.0 347.4M333.7 348.1L348.5 359.8M225.8 346.4L263.9 381.2M318.0 314.8L263.9 381.2M315.5 347.4L243.3 361.4M286.7 362.9L313.4 380.7M381.1 344.8L372.0 362.5M285.0 313.0L323.3 363.0M348.5 359.8L334.2 376.8M318.0 314.8L349.8 342.2M190.7 349.8L203.4 367.2M263.0 363.6L203.4 367.2M279.0 330.2L305.4 362.5M315.5 347.4L333.7 348.1M286.7 362.9L228.7 375.8M315.5 347.4L323.3 363.0M315.5 347.4L313.4 380.7M312.0 330.3L344.6 322.9M285.0 313.0L257.8 331.5M312.0 330.3L315.5 347.4M312.0 330.3L296.0 381.0M285.0 313.0L228.7 375.8M364.2 329.9L348.5 359.8M366.0 346.8L348.5 359.8M364.2 329.9L334.2 376.8M366.0 346.8L334.2 376.8M225.8 346.4L263.4 347.3M318.0 314.8L263.4 347.3M217.8 327.1L243.3 361.4M263.0 363.6L286.7 362.9M263.0 363.6L279.0 379.5M217.8 327.1L247.4 378.4M286.7 362.9L305.4 362.5M201.6 332.8L263.9 381.2M285.0 313.0L318.0 314.8M298.3 345.5L296.0 381.0M285.0 313.0L305.4 362.5M318.0 314.8L297.7 324.0M348.5 359.8L313.4 380.7M228.7 375.8L247.4 378.4M247.4 378.4L263.9 381.2M279.0 330.2L279.0 379.5M201.6 332.8L225.8 346.4M315.5 347.4L305.4 362.5M312.0 330.3L331.1 329.9M364.2 329.9L333.7 348.1M207.6 349.5L263.4 347.3M364.2 329.9L323.3 363.0M366.0 346.8L323.3 363.0M228.7 375.8L313.4 380.7M264.2 316.0L279.0 379.5M207.6 349.5L247.4 378.4M279.0 330.2L245.3 344.4M217.8 327.1L221.3 361.4M263.0 363.6L263.9 381.2M298.3 345.5L286.7 362.9M296.0 381.0L353.8 374.2M349.8 342.2L381.1 344.8M323.3 363.0L279.0 379.5M298.3 345.5L279.0 379.5M297.7 324.0L305.4 362.5M348.5 359.8L296.0 381.0M279.0 330.2L279.0 347.4M279.0 330.2L263.0 363.6M243.3 361.4L247.4 378.4M305.4 362.5L334.2 376.8M244.0 318.2L263.9 381.2M344.6 322.9L298.3 345.5M298.3 345.5L353.8 374.2M323.3 363.0L353.8 374.2M349.8 342.2L279.0 379.5M207.6 349.5L190.7 349.8M264.2 316.0L263.0 363.6M364.2 329.9L305.4 362.5M366.0 346.8L305.4 362.5M207.6 349.5L221.3 361.4M207.6 349.5L228.7 375.8M217.8 327.1L234.3 331.2M279.0 379.5L334.2 376.8M217.8 327.1L207.6 349.5M279.0 330.2L225.8 346.4M243.3 361.4L323.3 363.0M257.8 331.5L243.3 361.4M257.8 331.5L247.4 378.4M279.0 347.4L247.4 378.4M305.4 362.5L247.4 378.4M331.1 329.9L348.5 359.8M349.8 342.2L366.0 346.8M298.3 345.5L263.9 381.2M297.7 324.0L298.3 345.5M344.6 322.9L372.0 362.5M349.8 342.2L372.0 362.5M297.7 324.0L286.7 362.9M349.8 342.2L353.8 374.2M264.2 316.0L217.8 327.1M344.6 322.9L353.8 374.2M297.7 324.0L279.0 379.5M264.2 316.0L225.8 346.4M366.0 346.8L381.1 344.8M245.3 344.4L203.4 367.2M221.3 361.4L203.4 367.2M263.4 347.3L296.0 381.0M243.3 361.4L228.7 375.8M331.1 329.9L263.4 347.3M305.4 362.5L323.3 363.0M244.0 318.2L243.3 361.4M305.4 362.5L313.4 380.7M298.3 345.5L349.8 342.2M297.7 324.0L366.0 346.8M264.2 316.0L279.0 330.2M333.7 348.1L334.2 376.8M264.2 316.0L263.4 347.3M263.9 381.2L296.0 381.0M245.3 344.4L286.7 362.9M217.8 327.1L201.6 332.8M279.0 379.5L313.4 380.7M245.3 344.4L279.0 379.5M234.3 331.2L203.4 367.2M263.4 347.3L203.4 367.2M243.3 361.4L305.4 362.5M331.1 329.9L364.2 329.9M279.0 347.4L221.3 361.4M243.3 361.4L296.0 381.0M331.1 329.9L333.7 348.1M279.0 347.4L228.7 375.8M257.8 331.5L228.7 375.8M305.4 362.5L228.7 375.8M331.1 329.9L323.3 363.0M297.7 324.0L312.0 330.3M344.6 322.9L349.8 342.2M297.7 324.0L263.0 363.6M264.2 316.0L297.7 324.0M318.0 314.8L334.2 376.8M263.4 347.3L298.3 345.5M234.3 331.2L286.7 362.9M234.3 331.2L279.0 379.5M244.0 318.2L257.8 331.5M279.0 347.4L315.5 347.4M279.0 347.4L305.4 362.5M257.8 331.5L305.4 362.5M244.0 318.2L228.7 375.8M372.0 362.5L334.2 376.8M297.7 324.0L217.8 327.1M297.7 324.0L225.8 346.4M333.7 348.1L323.3 363.0M263.9 381.2L279.0 379.5M234.3 331.2L245.3 344.4M245.3 344.4L263.9 381.2M221.3 361.4L263.9 381.2M286.7 362.9L296.0 381.0M244.0 318.2L318.0 314.8M257.8 331.5L207.6 349.5M331.1 329.9L344.6 322.9M244.0 318.2L315.5 347.4M331.1 329.9L315.5 347.4M331.1 329.9L305.4 362.5M381.1 344.8L348.5 359.8M297.7 324.0L279.0 330.2M318.0 314.8L364.2 329.9M318.0 314.8L333.7 348.1M318.0 314.8L323.3 363.0M263.4 347.3L279.0 347.4M234.3 331.2L263.0 363.6M263.4 347.3L263.0 363.6M234.3 331.2L263.9 381.2M263.4 347.3L263.9 381.2M286.7 362.9L203.4 367.2M244.0 318.2L234.3 331.2M315.5 347.4L296.0 381.0M312.0 330.3L298.3 345.5M312.0 330.3L286.7 362.9M312.0 330.3L279.0 379.5M225.8 346.4L190.7 349.8M333.7 348.1L305.4 362.5M225.8 346.4L221.3 361.4M225.8 346.4L228.7 375.8M245.3 344.4L263.4 347.3M234.3 331.2L225.8 346.4M263.4 347.3L349.8 342.2M201.6 332.8L243.3 361.4M315.5 347.4L381.1 344.8M286.7 362.9L279.0 379.5M285.0 313.0L298.3 345.5M318.0 314.8L344.6 322.9M333.7 348.1L381.1 344.8M318.0 314.8L315.5 347.4M318.0 314.8L305.4 362.5M279.0 330.2L263.9 381.2M315.5 347.4L286.7 362.9M313.4 380.7L353.8 374.2M286.7 362.9L353.8 374.2M315.5 347.4L279.0 379.5M312.0 330.3L263.0 363.6M312.0 330.3L263.9 381.2M228.7 375.8L296.0 381.0M225.8 346.4L207.6 349.5M190.7 349.8L263.4 347.3M263.0 363.6L247.4 378.4M217.8 327.1L203.4 367.2M201.6 332.8L190.7 349.8M201.6 332.8L221.3 361.4M315.5 347.4L366.0 346.8M201.6 332.8L228.7 375.8M286.7 362.9L263.9 381.2M315.5 347.4L372.0 362.5M315.5 347.4L353.8 374.2M312.0 330.3L225.8 346.4M285.0 313.0L312.0 330.3M312.0 330.3L349.8 342.2M312.0 330.3L348.5 359.8M364.2 329.9L381.1 344.8M348.5 359.8L279.0 379.5M318.0 314.8L331.1 329.9M217.8 327.1L298.3 345.5M279.0 330.2L263.4 347.3M263.0 363.6L323.3 363.0M263.0 363.6L313.4 380.7M279.0 330.2L247.4 378.4M315.5 347.4L263.0 363.6M323.3 363.0L334.2 376.8M298.3 345.5L334.2 376.8M312.0 330.3L263.4 347.3M348.5 359.8L372.0 362.5M264.2 316.0L243.3 361.4M348.5 359.8L353.8 374.2M228.7 375.8L279.0 379.5M207.6 349.5L203.4 367.2M217.8 327.1L245.3 344.4M190.7 349.8L221.3 361.4M279.0 330.2L333.7 348.1M190.7 349.8L228.7 375.8M263.0 363.6L228.7 375.8M279.0 330.2L323.3 363.0M201.6 332.8L234.3 331.2M201.6 332.8L207.6 349.5M315.5 347.4L349.8 342.2M296.0 381.0L313.4 380.7M298.3 345.5L247.4 378.4M312.0 330.3L364.2 329.9M349.8 342.2L348.5 359.8M285.0 313.0L279.0 330.2M349.8 342.2L334.2 376.8M285.0 313.0L263.4 347.3M364.2 329.9L366.0 346.8M264.2 316.0L333.7 348.1M366.0 346.8L372.0 362.5M364.2 329.9L372.0 362.5M264.2 316.0L323.3 363.0M207.6 349.5L286.7 362.9M366.0 346.8L353.8 374.2M217.8 327.1L279.0 347.4M217.8 327.1L263.0 363.6M279.0 330.2L221.3 361.4M243.3 361.4L203.4 367.2M305.4 362.5L296.0 381.0M298.3 345.5L333.7 348.1M298.3 345.5L323.3 363.0M285.0 313.0L297.7 324.0M323.3 363.0L313.4 380.7M298.3 345.5L313.4 380.7M297.7 324.0L348.5 359.8M264.2 316.0L257.8 331.5M264.2 316.0L221.3 361.4M228.7 375.8L263.9 381.2M279.0 379.5L296.0 381.0M217.8 327.1L225.8 346.4M243.3 361.4L279.0 379.5M279.0 347.4L203.4 367.2M344.6 322.9L364.2 329.9M298.3 345.5L221.3 361.4M344.6 322.9L333.7 348.1M298.3 345.5L228.7 375.8M297.7 324.0L263.4 347.3M349.8 342.2L323.3 363.0M297.7 324.0L243.3 361.4M364.2 329.9L349.8 342.2M264.2 316.0L315.5 347.4M207.6 349.5L263.0 363.6M217.8 327.1L263.4 347.3M279.0 347.4L298.3 345.5M279.0 347.4L286.7 362.9M257.8 331.5L286.7 362.9M331.1 329.9L381.1 344.8M305.4 362.5L279.0 379.5M279.0 347.4L279.0 379.5M298.3 345.5L315.5 347.4M298.3 345.5L305.4 362.5M297.7 324.0L364.2 329.9M297.7 324.0L333.7 348.1M297.7 324.0L323.3 363.0M245.3 344.4L243.3 361.4M221.3 361.4L243.3 361.4M221.3 361.4L247.4 378.4M263.4 347.3L348.5 359.8M257.8 331.5L245.3 344.4M243.3 361.4L263.0 363.6M243.3 361.4L263.9 381.2M331.1 329.9L298.3 345.5M305.4 362.5L372.0 362.5M331.1 329.9L286.7 362.9M305.4 362.5L353.8 374.2M331.1 329.9L279.0 379.5M297.7 324.0L257.8 331.5M344.6 322.9L315.5 347.4M344.6 322.9L305.4 362.5M297.7 324.0L221.3 361.4M264.2 316.0L285.0 313.0M297.7 324.0L228.7 375.8M264.2 316.0L298.3 345.5M225.8 346.4L296.0 381.0M234.3 331.2L263.4 347.3M263.4 347.3L243.3 361.4M234.3 331.2L247.4 378.4M263.4 347.3L247.4 378.4M257.8 331.5L312.0 330.3M244.0 318.2L245.3 344.4M279.0 347.4L263.0 363.6M257.8 331.5L263.9 381.2M305.4 362.5L263.9 381.2M331.1 329.9L372.0 362.5M331.1 329.9L353.8 374.2M297.7 324.0L315.5 347.4M333.7 348.1L279.0 379.5M225.8 346.4L203.4 367.2M221.3 361.4L228.7 375.8M245.3 344.4L228.7 375.8M263.4 347.3L323.3 363.0M244.0 318.2L264.2 316.0M257.8 331.5L225.8 346.4M244.0 318.2L312.0 330.3M381.1 344.8L305.4 362.5M333.7 348.1L366.0 346.8M225.8 346.4L298.3 345.5M203.4 367.2L228.7 375.8M333.7 348.1L372.0 362.5M318.0 314.8L286.7 362.9M225.8 346.4L286.7 362.9M333.7 348.1L353.8 374.2M318.0 314.8L279.0 379.5M225.8 346.4L279.0 379.5M234.3 331.2L257.8 331.5" stroke="#cfcfcf" stroke-width="0.18" fill="none" opacity="0.5"/>
<circle cx="244.0" cy="318.2" r="3.00" fill="#d8d8d8"/>
<text x="244.0" y="319.53" font-size="3.70" text-anchor="middle" fill="#505050">CTBP1</text>
<circle cx="264.2" cy="316.0" r="3.00" fill="#d8d8d8"/>
<text x="264.2" y="317.33" font-size="3.70" text-anchor="middle" fill="#505050">NFYA</text>
<ellipse cx="285.0" cy="313.0" rx="2.90" ry="1.80" fill="#dcdcdc"/>
<text x="285.0" y="314.33" font-size="3.70" text-anchor="middle" fill="#505050">HDAC2</text>
<circle cx="318.0" cy="314.8" r="4.70" fill="#eb4870"/>
<text x="318.0" y="316.13" font-size="3.70" text-anchor="middle" fill="#4a3038" opacity="0.85">SMAD3</text>
<circle cx="297.7" cy="324.0" r="4.90" fill="#d8d8d8"/>
<text x="297.7" y="325.33" font-size="3.70" text-anchor="middle" fill="#505050">SMTY</text>
<circle cx="217.8" cy="327.1" r="4.60" fill="#eb4870"/>
<text x="217.8" y="328.43" font-size="3.70" text-anchor="middle" fill="#4a3038" opacity="0.85">ATF2</text>
<text x="201.6" y="334.13" font-size="3.70" text-anchor="middle" fill="#505050">CCBL</text>
<text x="234.3" y="332.53" font-size="3.70" text-anchor="middle" fill="#505050">ABL1</text>
<circle cx="257.8" cy="331.5" r="3.00" fill="#d8d8d8"/>
<text x="257.8" y="332.83" font-size="3.70" text-anchor="middle" fill="#505050">ATM</text>
<circle cx="279.0" cy="330.2" r="3.40" fill="#d8d8d8"/>
<text x="279.0" y="331.53" font-size="3.70" text-anchor="middle" fill="#505050">NCOA6</text>
<circle cx="312.0" cy="330.3" r="4.60" fill="#d8d8d8"/>
<text x="312.0" y="331.63" font-size="3.70" text-anchor="middle" fill="#505050">KAT2B</text>
<circle cx="331.1" cy="329.9" r="4.20" fill="#d8d8d8"/>
<text x="331.1" y="331.23" font-size="3.70" text-anchor="middle" fill="#505050">YY1</text>
<circle cx="344.6" cy="322.9" r="3.00" fill="#d8d8d8"/>
<text x="344.6" y="324.23" font-size="3.70" text-anchor="middle" fill="#505050">HNF4</text>
<circle cx="364.2" cy="329.9" r="3.20" fill="#d8d8d8"/>
<text x="364.2" y="331.23" font-size="3.70" text-anchor="middle" fill="#505050">HNRN</text>
<circle cx="225.8" cy="346.4" r="3.50" fill="#eb4870"/>
<text x="225.8" y="347.73" font-size="3.70" text-anchor="middle" fill="#4a3038" opacity="0.85">ELF1</text>
<text x="245.3" y="345.73" font-size="3.70" text-anchor="middle" fill="#505050">LEF1</text>
<text x="207.6" y="350.83" font-size="3.70" text-anchor="middle" fill="#505050">PBRM1</text>
<text x="190.7" y="351.13" font-size="3.70" text-anchor="middle" fill="#505050">HGF1</text>
<circle cx="263.4" cy="347.3" r="6.50" fill="#eb4870"/>
<text x="263.4" y="348.63" font-size="3.70" text-anchor="middle" fill="#4a3038" opacity="0.85">E2F1</text>
<circle cx="279.0" cy="347.4" r="3.90" fill="#d8d8d8"/>
<text x="279.0" y="348.73" font-size="3.70" text-anchor="middle" fill="#505050">HIC1</text>
<circle cx="298.3" cy="345.5" r="4.70" fill="#d8d8d8"/>
<text x="298.3" y="346.83" font-size="3.70" text-anchor="middle" fill="#505050">JUN</text>
<circle cx="315.5" cy="347.4" r="5.20" fill="#d8d8d8"/>
<text x="315.5" y="348.73" font-size="3.70" text-anchor="middle" fill="#505050">RB1</text>
<circle cx="333.7" cy="348.1" r="4.20" fill="#eb4870"/>
<text x="333.7" y="349.43" font-size="3.70" text-anchor="middle" fill="#4a3038" opacity="0.85">FOXP1</text>
<circle cx="349.8" cy="342.2" r="4.70" fill="#d8d8d8"/>
<text x="349.8" y="343.53" font-size="3.70" text-anchor="middle" fill="#505050">STAT3</text>
<text x="366.0" y="348.13" font-size="3.70" text-anchor="middle" fill="#505050">HSP</text>
<circle cx="381.1" cy="344.8" r="3.40" fill="#d8d8d8"/>
<text x="381.1" y="346.13" font-size="3.70" text-anchor="middle" fill="#505050">NFE2</text>
<circle cx="221.3" cy="361.4" r="2.00" fill="#eb4870"/>
<text x="221.3" y="362.73" font-size="3.70" text-anchor="middle" fill="#4a3038" opacity="0.85">FOSL2</text>
<text x="243.3" y="362.73" font-size="3.70" text-anchor="middle" fill="#505050">CUL3</text>
<circle cx="263.0" cy="363.6" r="3.00" fill="#d8d8d8"/>
<text x="263.0" y="364.93" font-size="3.70" text-anchor="middle" fill="#505050">NFYB</text>
<circle cx="286.7" cy="362.9" r="6.50" fill="#d8d8d8"/>
<text x="286.7" y="364.23" font-size="3.70" text-anchor="middle" fill="#505050">SP1</text>
<circle cx="305.4" cy="362.5" r="2.90" fill="#eb4870"/>
<text x="305.4" y="363.83" font-size="3.70" text-anchor="middle" fill="#4a3038" opacity="0.85">E2F4</text>
<circle cx="323.3" cy="363.0" r="4.70" fill="#d8d8d8"/>
<text x="323.3" y="364.33" font-size="3.70" text-anchor="middle" fill="#505050">RARA</text>
<circle cx="348.5" cy="359.8" r="5.20" fill="#d8d8d8"/>
<text x="348.5" y="361.13" font-size="3.70" text-anchor="middle" fill="#505050">PML</text>
<circle cx="372.0" cy="362.5" r="3.30" fill="#d8d8d8"/>
<text x="372.0" y="363.83" font-size="3.70" text-anchor="middle" fill="#505050">ESR1</text>
<circle cx="203.4" cy="367.2" r="2.60" fill="#eb4870"/>
<text x="203.4" y="368.53" font-size="3.70" text-anchor="middle" fill="#4a3038" opacity="0.85">CREB1</text>
<circle cx="228.7" cy="375.8" r="4.90" fill="#eb4870"/>
<text x="228.7" y="377.13" font-size="3.70" text-anchor="middle" fill="#4a3038" opacity="0.85">NZF1</text>
<circle cx="247.4" cy="378.4" r="3.40" fill="#d8d8d8"/>
<text x="247.4" y="379.73" font-size="3.70" text-anchor="middle" fill="#505050">SP3</text>
<circle cx="263.9" cy="381.2" r="1.30" fill="#eb4870"/>
<text x="263.9" y="382.53" font-size="3.70" text-anchor="middle" fill="#4a3038" opacity="0.85">FOXP2</text>
<circle cx="279.0" cy="379.5" r="4.70" fill="#d8d8d8"/>
<text x="279.0" y="380.83" font-size="3.70" text-anchor="middle" fill="#505050">PARP1</text>
<circle cx="296.0" cy="381.0" r="4.30" fill="#d8d8d8"/>
<text x="296.0" y="382.33" font-size="3.70" text-anchor="middle" fill="#505050">KAT5</text>
<text x="313.4" y="382.03" font-size="3.70" text-anchor="middle" fill="#505050">HSH</text>
<circle cx="334.2" cy="376.8" r="4.20" fill="#d8d8d8"/>
<text x="334.2" y="378.13" font-size="3.70" text-anchor="middle" fill="#505050">MYB1</text>
<circle cx="353.8" cy="374.2" r="4.70" fill="#d8d8d8"/>
<text x="353.8" y="375.53" font-size="3.70" text-anchor="middle" fill="#505050">EZH2</text>
<path d="M258.0 406.3L244.1 464.7M258.0 406.3L279.2 458.6M258.0 406.3L273.5 474.5M258.0 406.3L241.4 479.0M258.0 406.3L280.2 487.1M258.0 406.3L301.5 458.0M258.0 406.3L313.0 460.3M258.0 406.3L330.9 458.7M258.0 406.3L350.1 460.3M258.0 406.3L323.3 467.2M258.0 406.3L374.9 471.8M258.0 406.3L334.8 478.0M258.0 406.3L303.8 479.8M258.0 406.3L348.5 484.0M258.0 406.3L325.6 484.4M258.0 406.3L314.8 490.2M269.9 408.4L244.1 464.7M269.9 408.4L255.7 461.8M269.9 408.4L279.2 458.6M269.9 408.4L289.4 464.3M269.9 408.4L298.5 469.4M269.9 408.4L259.8 474.1M269.9 408.4L273.5 474.5M269.9 408.4L241.4 479.0M269.9 408.4L251.6 483.7M269.9 408.4L265.9 486.3M269.9 408.4L280.2 487.1M269.9 408.4L296.7 488.9M269.9 408.4L301.5 458.0M269.9 408.4L330.9 458.7M269.9 408.4L354.7 473.0M269.9 408.4L314.1 476.4M269.9 408.4L303.8 479.8M269.9 408.4L325.6 484.4M269.9 408.4L314.8 490.2M280.5 410.7L255.7 461.8M280.5 410.7L269.0 462.7M280.5 410.7L298.5 469.4M280.5 410.7L273.5 474.5M280.5 410.7L285.3 476.9M280.5 410.7L241.4 479.0M280.5 410.7L251.6 483.7M280.5 410.7L265.9 486.3M280.5 410.7L280.2 487.1M280.5 410.7L296.7 488.9M280.5 410.7L301.5 458.0M280.5 410.7L313.0 460.3M280.5 410.7L330.9 458.7M280.5 410.7L363.9 465.6M280.5 410.7L323.3 467.2M280.5 410.7L340.5 467.2M280.5 410.7L354.7 473.0M280.5 410.7L374.9 471.8M280.5 410.7L334.8 478.0M280.5 410.7L303.8 479.8M280.5 410.7L348.5 484.0M280.5 410.7L325.6 484.4M280.5 410.7L314.8 490.2M280.5 410.7L358.9 487.2M290.5 409.2L279.2 458.6M290.5 409.2L289.4 464.3M290.5 409.2L298.5 469.4M290.5 409.2L259.8 474.1M290.5 409.2L273.5 474.5M290.5 409.2L285.3 476.9M290.5 409.2L241.4 479.0M290.5 409.2L265.9 486.3M290.5 409.2L280.2 487.1M290.5 409.2L296.7 488.9M290.5 409.2L301.5 458.0M290.5 409.2L330.9 458.7M290.5 409.2L350.1 460.3M290.5 409.2L363.9 465.6M290.5 409.2L323.3 467.2M290.5 409.2L354.7 473.0M290.5 409.2L314.1 476.4M290.5 409.2L334.8 478.0M290.5 409.2L303.8 479.8M290.5 409.2L325.6 484.4M290.5 409.2L358.9 487.2M300.6 412.6L255.7 461.8M300.6 412.6L289.4 464.3M300.6 412.6L298.5 469.4M300.6 412.6L273.5 474.5M300.6 412.6L285.3 476.9M300.6 412.6L251.6 483.7M300.6 412.6L265.9 486.3M300.6 412.6L280.2 487.1M300.6 412.6L296.7 488.9M300.6 412.6L301.5 458.0M300.6 412.6L330.9 458.7M300.6 412.6L350.1 460.3M300.6 412.6L323.3 467.2M300.6 412.6L340.5 467.2M300.6 412.6L314.1 476.4M300.6 412.6L334.8 478.0M300.6 412.6L303.8 479.8M300.6 412.6L348.5 484.0M300.6 412.6L325.6 484.4M300.6 412.6L314.8 490.2M300.6 412.6L338.7 490.9M310.8 406.8L279.2 458.6M310.8 406.8L232.2 472.4M310.8 406.8L273.5 474.5M310.8 406.8L285.3 476.9M310.8 406.8L251.6 483.7M310.8 406.8L265.9 486.3M310.8 406.8L280.2 487.1M310.8 406.8L296.7 488.9M310.8 406.8L301.5 458.0M310.8 406.8L313.0 460.3M310.8 406.8L340.5 467.2M310.8 406.8L303.8 479.8M310.8 406.8L348.5 484.0M310.8 406.8L314.8 490.2M310.8 406.8L338.7 490.9M310.8 406.8L358.9 487.2M318.4 414.5L244.1 464.7M318.4 414.5L255.7 461.8M318.4 414.5L269.0 462.7M318.4 414.5L289.4 464.3M318.4 414.5L298.5 469.4M318.4 414.5L273.5 474.5M318.4 414.5L285.3 476.9M318.4 414.5L265.9 486.3M318.4 414.5L280.2 487.1M318.4 414.5L313.0 460.3M318.4 414.5L350.1 460.3M318.4 414.5L363.9 465.6M318.4 414.5L323.3 467.2M318.4 414.5L340.5 467.2M318.4 414.5L314.1 476.4M318.4 414.5L334.8 478.0M318.4 414.5L369.2 482.1M318.4 414.5L338.7 490.9M318.4 414.5L358.9 487.2M329.0 414.8L244.1 464.7M329.0 414.8L255.7 461.8M329.0 414.8L269.0 462.7M329.0 414.8L279.2 458.6M329.0 414.8L289.4 464.3M329.0 414.8L298.5 469.4M329.0 414.8L259.8 474.1M329.0 414.8L273.5 474.5M329.0 414.8L285.3 476.9M329.0 414.8L241.4 479.0M329.0 414.8L280.2 487.1M329.0 414.8L296.7 488.9M329.0 414.8L301.5 458.0M329.0 414.8L323.3 467.2M329.0 414.8L340.5 467.2M329.0 414.8L354.7 473.0M329.0 414.8L334.8 478.0M329.0 414.8L325.6 484.4M329.0 414.8L314.8 490.2M329.0 414.8L338.7 490.9M329.0 414.8L358.9 487.2M339.8 412.2L255.7 461.8M339.8 412.2L269.0 462.7M339.8 412.2L298.5 469.4M339.8 412.2L273.5 474.5M339.8 412.2L285.3 476.9M339.8 412.2L241.4 479.0M339.8 412.2L251.6 483.7M339.8 412.2L265.9 486.3M339.8 412.2L280.2 487.1M339.8 412.2L301.5 458.0M339.8 412.2L313.0 460.3M339.8 412.2L330.9 458.7M339.8 412.2L303.8 479.8M339.8 412.2L348.5 484.0M339.8 412.2L325.6 484.4M349.6 406.8L244.1 464.7M349.6 406.8L255.7 461.8M349.6 406.8L269.0 462.7M349.6 406.8L279.2 458.6M349.6 406.8L289.4 464.3M349.6 406.8L298.5 469.4M349.6 406.8L273.5 474.5M349.6 406.8L285.3 476.9M349.6 406.8L241.4 479.0M349.6 406.8L265.9 486.3M349.6 406.8L296.7 488.9M349.6 406.8L313.0 460.3M349.6 406.8L350.1 460.3M349.6 406.8L363.9 465.6M349.6 406.8L323.3 467.2M349.6 406.8L340.5 467.2M349.6 406.8L374.9 471.8M349.6 406.8L314.1 476.4M349.6 406.8L334.8 478.0M349.6 406.8L303.8 479.8M349.6 406.8L348.5 484.0M349.6 406.8L325.6 484.4M349.6 406.8L314.8 490.2M349.6 406.8L338.7 490.9" stroke="#52ad4c" stroke-width="0.26" fill="none" opacity="0.62"/>
<path d="M244.1 464.7L259.5 528.0M279.2 458.6L304.7 524.2M289.4 464.3L269.7 529.2M289.4 464.3L304.7 524.2M298.5 469.4L259.5 528.0M298.5 469.4L269.7 529.2M298.5 469.4L278.7 524.9M232.2 472.4L269.7 529.2M273.5 474.5L288.4 534.3M285.3 476.9L278.7 524.9M285.3 476.9L291.9 520.3M285.3 476.9L288.4 534.3M241.4 479.0L259.5 528.0M265.9 486.3L288.4 534.3M280.2 487.1L278.7 524.9M301.5 458.0L288.4 534.3M313.0 460.3L316.0 523.5M330.9 458.7L291.9 520.3M330.9 458.7L327.0 529.3M330.9 458.7L341.1 525.8M323.3 467.2L316.0 523.5M323.3 467.2L327.0 529.3M354.7 473.0L304.7 524.2M374.9 471.8L341.1 525.8M314.1 476.4L291.9 520.3M314.1 476.4L316.0 523.5M334.8 478.0L316.0 523.5M334.8 478.0L327.0 529.3M348.5 484.0L341.1 525.8M314.8 490.2L304.7 524.2M358.9 487.2L327.0 529.3" stroke="#c9c9c9" stroke-width="0.2" fill="none" opacity="0.5"/>
<path d="M255.7 461.8L259.5 528.0M269.0 462.7L248.6 529.2M269.0 462.7L278.7 524.9M279.2 458.6L269.7 529.2M279.2 458.6L291.9 520.3M279.2 458.6L288.4 534.3M289.4 464.3L316.0 523.5M298.5 469.4L288.4 534.3M259.8 474.1L259.5 528.0M259.8 474.1L291.9 520.3M273.5 474.5L259.5 528.0M285.3 476.9L269.7 529.2M251.6 483.7L248.6 529.2M251.6 483.7L288.4 534.3M265.9 486.3L291.9 520.3M280.2 487.1L248.6 529.2M280.2 487.1L316.0 523.5M296.7 488.9L269.7 529.2M296.7 488.9L288.4 534.3M313.0 460.3L269.7 529.2M313.0 460.3L341.1 525.8M350.1 460.3L316.0 523.5M350.1 460.3L327.0 529.3M323.3 467.2L304.7 524.2M340.5 467.2L316.0 523.5M354.7 473.0L327.0 529.3M354.7 473.0L341.1 525.8M314.1 476.4L304.7 524.2M314.1 476.4L327.0 529.3M314.1 476.4L288.4 534.3M334.8 478.0L341.1 525.8M334.8 478.0L288.4 534.3M303.8 479.8L304.7 524.2M348.5 484.0L327.0 529.3M325.6 484.4L278.7 524.9M325.6 484.4L316.0 523.5M325.6 484.4L327.0 529.3M325.6 484.4L288.4 534.3M338.7 490.9L304.7 524.2M338.7 490.9L316.0 523.5M358.9 487.2L341.1 525.8" stroke="#8fcf88" stroke-width="0.2" fill="none" opacity="0.5"/>
<circle cx="244.1" cy="464.7" r="2.50" fill="#d8d8d8"/>
<text x="244.1" y="465.67" font-size="2.70" text-anchor="middle" fill="#686868">NFYA</text>
<circle cx="255.7" cy="461.8" r="2.90" fill="#d8d8d8"/>
<text x="255.7" y="462.77" font-size="2.70" text-anchor="middle" fill="#686868">EGR1</text>
<circle cx="269.0" cy="462.7" r="2.90" fill="#d8d8d8"/>
<text x="269.0" y="463.67" font-size="2.70" text-anchor="middle" fill="#686868">SMAD3</text>
<circle cx="279.2" cy="458.6" r="2.50" fill="#d8d8d8"/>
<text x="279.2" y="459.57" font-size="2.70" text-anchor="middle" fill="#686868">CHD4</text>
<circle cx="289.4" cy="464.3" r="3.30" fill="#d8d8d8"/>
<text x="289.4" y="465.27" font-size="2.70" text-anchor="middle" fill="#686868">TBP</text>
<circle cx="298.5" cy="469.4" r="4.60" fill="#d8d8d8"/>
<text x="298.5" y="470.37" font-size="2.70" text-anchor="middle" fill="#686868">JUN</text>
<circle cx="232.2" cy="472.4" r="2.80" fill="#d8d8d8"/>
<text x="232.2" y="473.37" font-size="2.70" text-anchor="middle" fill="#686868">EGR1</text>
<circle cx="259.8" cy="474.1" r="2.80" fill="#d8d8d8"/>
<text x="259.8" y="475.07" font-size="2.70" text-anchor="middle" fill="#686868">CHD4</text>
<circle cx="273.5" cy="474.5" r="2.80" fill="#d8d8d8"/>
<text x="273.5" y="475.47" font-size="2.70" text-anchor="middle" fill="#686868">UBC</text>
<circle cx="285.3" cy="476.9" r="4.10" fill="#d8d8d8"/>
<text x="285.3" y="477.87" font-size="2.70" text-anchor="middle" fill="#686868">CUL3</text>
<circle cx="241.4" cy="479.0" r="2.80" fill="#d8d8d8"/>
<text x="241.4" y="479.97" font-size="2.70" text-anchor="middle" fill="#686868">BRCA1</text>
<circle cx="251.6" cy="483.7" r="3.70" fill="#d8d8d8"/>
<text x="251.6" y="484.67" font-size="2.70" text-anchor="middle" fill="#686868">SP1</text>
<circle cx="265.9" cy="486.3" r="3.70" fill="#d8d8d8"/>
<text x="265.9" y="487.27" font-size="2.70" text-anchor="middle" fill="#686868">YY1</text>
<circle cx="280.2" cy="487.1" r="3.30" fill="#d8d8d8"/>
<text x="280.2" y="488.07" font-size="2.70" text-anchor="middle" fill="#686868">KAT2B</text>
<circle cx="296.7" cy="488.9" r="4.00" fill="#d8d8d8"/>
<text x="296.7" y="489.87" font-size="2.70" text-anchor="middle" fill="#686868">PML</text>
<ellipse cx="301.5" cy="458.0" rx="3.04" ry="1.89" fill="#dcdcdc"/>
<text x="301.5" y="458.87" font-size="2.43" text-anchor="middle" fill="#686868">CTBP1</text>
<ellipse cx="313.0" cy="460.3" rx="3.04" ry="1.89" fill="#dcdcdc"/>
<text x="313.0" y="461.17" font-size="2.43" text-anchor="middle" fill="#686868">EGR1</text>
<circle cx="330.9" cy="458.7" r="3.00" fill="#d8d8d8"/>
<text x="330.9" y="459.67" font-size="2.70" text-anchor="middle" fill="#686868">PARP1</text>
<circle cx="350.1" cy="460.3" r="3.70" fill="#d8d8d8"/>
<text x="350.1" y="461.27" font-size="2.70" text-anchor="middle" fill="#686868">EZH2</text>
<circle cx="363.9" cy="465.6" r="3.20" fill="#d8d8d8"/>
<text x="363.9" y="466.57" font-size="2.70" text-anchor="middle" fill="#686868">MYC</text>
<circle cx="323.3" cy="467.2" r="4.10" fill="#d8d8d8"/>
<text x="323.3" y="468.17" font-size="2.70" text-anchor="middle" fill="#686868">RELA</text>
<circle cx="340.5" cy="467.2" r="4.60" fill="#d8d8d8"/>
<text x="340.5" y="468.17" font-size="2.70" text-anchor="middle" fill="#686868">HSPA8</text>
<ellipse cx="354.7" cy="473.0" rx="3.04" ry="1.89" fill="#dcdcdc"/>
<text x="354.7" y="473.87" font-size="2.43" text-anchor="middle" fill="#686868">CUL3</text>
<ellipse cx="374.9" cy="471.8" rx="3.04" ry="1.89" fill="#dcdcdc"/>
<text x="374.9" y="472.67" font-size="2.43" text-anchor="middle" fill="#686868">NFKB1</text>
<circle cx="314.1" cy="476.4" r="5.00" fill="#d8d8d8"/>
<text x="314.1" y="477.37" font-size="2.70" text-anchor="middle" fill="#686868">MYB</text>
<ellipse cx="334.8" cy="478.0" rx="3.04" ry="1.89" fill="#dcdcdc"/>
<text x="334.8" y="478.87" font-size="2.43" text-anchor="middle" fill="#686868">EP300</text>
<ellipse cx="303.8" cy="479.8" rx="3.04" ry="1.89" fill="#dcdcdc"/>
<text x="303.8" y="480.67" font-size="2.43" text-anchor="middle" fill="#686868">TP53</text>
<circle cx="348.5" cy="484.0" r="3.60" fill="#d8d8d8"/>
<text x="348.5" y="484.97" font-size="2.70" text-anchor="middle" fill="#686868">SRF</text>
<circle cx="369.2" cy="482.1" r="3.20" fill="#d8d8d8"/>
<text x="369.2" y="483.07" font-size="2.70" text-anchor="middle" fill="#686868">SRF</text>
<ellipse cx="325.6" cy="484.4" rx="3.04" ry="1.89" fill="#dcdcdc"/>
<text x="325.6" y="485.27" font-size="2.43" text-anchor="middle" fill="#686868">SP3</text>
<circle cx="314.8" cy="490.2" r="4.50" fill="#d8d8d8"/>
<text x="314.8" y="491.17" font-size="2.70" text-anchor="middle" fill="#686868">SIN3A</text>
<circle cx="338.7" cy="490.9" r="4.10" fill="#d8d8d8"/>
<text x="338.7" y="491.87" font-size="2.70" text-anchor="middle" fill="#686868">MYB</text>
<circle cx="358.9" cy="487.2" r="4.50" fill="#d8d8d8"/>
<text x="358.9" y="488.17" font-size="2.70" text-anchor="middle" fill="#686868">GATA1</text>
<circle cx="258.0" cy="406.3" r="2.90" fill="#3d85cc"/>
<text x="258.0" y="406.95" font-size="1.80" text-anchor="middle" fill="#1f5a96" opacity="0.8">HNF4A</text>
<circle cx="269.9" cy="408.4" r="3.80" fill="#3d85cc"/>
<text x="269.9" y="409.05" font-size="1.80" text-anchor="middle" fill="#1f5a96" opacity="0.8">CHD4</text>
<circle cx="280.5" cy="410.7" r="4.50" fill="#3d85cc"/>
<text x="280.5" y="411.35" font-size="1.80" text-anchor="middle" fill="#1f5a96" opacity="0.8">KAT2B</text>
<circle cx="290.5" cy="409.2" r="4.10" fill="#3d85cc"/>
<text x="290.5" y="409.85" font-size="1.80" text-anchor="middle" fill="#1f5a96" opacity="0.8">HDAC1</text>
<circle cx="300.6" cy="412.6" r="4.90" fill="#3d85cc"/>
<text x="300.6" y="413.25" font-size="1.80" text-anchor="middle" fill="#1f5a96" opacity="0.8">NFYA</text>
<circle cx="310.8" cy="406.8" r="3.10" fill="#3d85cc"/>
<text x="310.8" y="407.45" font-size="1.80" text-anchor="middle" fill="#1f5a96" opacity="0.8">STAT3</text>
<circle cx="318.4" cy="414.5" r="6.00" fill="#3d85cc"/>
<text x="318.4" y="415.15" font-size="1.80" text-anchor="middle" fill="#1f5a96" opacity="0.8">MTA2</text>
<circle cx="329.0" cy="414.8" r="6.10" fill="#3d85cc"/>
<text x="329.0" y="415.45" font-size="1.80" text-anchor="middle" fill="#1f5a96" opacity="0.8">KAT2B</text>
<circle cx="339.8" cy="412.2" r="5.40" fill="#3d85cc"/>
<text x="339.8" y="412.85" font-size="1.80" text-anchor="middle" fill="#1f5a96" opacity="0.8">NFYA</text>
<circle cx="349.6" cy="406.8" r="3.40" fill="#3d85cc"/>
<text x="349.6" y="407.45" font-size="1.80" text-anchor="middle" fill="#1f5a96" opacity="0.8">ABL1</text>
<circle cx="248.6" cy="529.2" r="2.60" fill="#eb4870"/>
<text x="248.6" y="529.85" font-size="1.80" text-anchor="middle" fill="#8a2040" opacity="0.75">SP3</text>
<circle cx="259.5" cy="528.0" r="3.00" fill="#eb4870"/>
<text x="259.5" y="528.65" font-size="1.80" text-anchor="middle" fill="#8a2040" opacity="0.75">CUL3</text>
<circle cx="269.7" cy="529.2" r="2.60" fill="#eb4870"/>
<text x="269.7" y="529.85" font-size="1.80" text-anchor="middle" fill="#8a2040" opacity="0.75">SRF</text>
<circle cx="278.7" cy="524.9" r="4.10" fill="#eb4870"/>
<text x="278.7" y="525.55" font-size="1.80" text-anchor="middle" fill="#8a2040" opacity="0.75">CDK2</text>
<circle cx="291.9" cy="520.3" r="5.10" fill="#eb4870"/>
<text x="291.9" y="520.95" font-size="1.80" text-anchor="middle" fill="#8a2040" opacity="0.75">SP1</text>
<circle cx="304.7" cy="524.2" r="4.20" fill="#eb4870"/>
<text x="304.7" y="524.85" font-size="1.80" text-anchor="middle" fill="#8a2040" opacity="0.75">CREBBP</text>
<circle cx="316.0" cy="523.5" r="4.20" fill="#eb4870"/>
<text x="316.0" y="524.15" font-size="1.80" text-anchor="middle" fill="#8a2040" opacity="0.75">TBP</text>
<circle cx="327.0" cy="529.3" r="2.60" fill="#eb4870"/>
<text x="327.0" y="529.95" font-size="1.80" text-anchor="middle" fill="#8a2040" opacity="0.75">SMAD3</text>
<circle cx="341.1" cy="525.8" r="3.50" fill="#eb4870"/>
<text x="341.1" y="526.45" font-size="1.80" text-anchor="middle" fill="#8a2040" opacity="0.75">CUL3</text>
<ellipse cx="288.4" cy="534.3" rx="2.4" ry="1.0" fill="#f0a0b4"/><circle cx="288.4" cy="534.3" r="0.9" fill="#eb4870"/>
<text x="29.50" y="8.70" font-size="7.85" text-anchor="start" fill="#111" font-weight="normal" stroke="#111" stroke-width="0.06">Transcription Factor Enrichment Analysis (TFEA)</text>
<rect x="22.30" y="11.40" width="193.60" height="3.9" fill="#eb4870"/>
<text x="21.60" y="14.95" font-size="4.6" text-anchor="end" fill="#3c3c3c" font-weight="normal" >SUZ12</text>
<text x="215.40" y="14.75" font-size="4.2" text-anchor="end" fill="#fff" font-weight="normal" opacity="0.92">3.14e-3</text>
<rect x="22.30" y="16.83" width="58.80" height="3.9" fill="#eb4870"/>
<text x="21.60" y="20.38" font-size="4.6" text-anchor="end" fill="#3c3c3c" font-weight="normal" >SOX2</text>
<text x="80.60" y="20.18" font-size="4.2" text-anchor="end" fill="#fff" font-weight="normal" opacity="0.92">4.55e-2</text>
<rect x="22.30" y="22.26" width="55.30" height="3.9" fill="#eb4870"/>
<text x="21.60" y="25.81" font-size="4.6" text-anchor="end" fill="#3c3c3c" font-weight="normal" >EZH2</text>
<text x="77.10" y="25.61" font-size="4.2" text-anchor="end" fill="#fff" font-weight="normal" opacity="0.92">5.31e-2</text>
<rect x="22.30" y="27.69" width="53.40" height="3.9" fill="#eb4870"/>
<text x="21.60" y="31.24" font-size="4.6" text-anchor="end" fill="#3c3c3c" font-weight="normal" >SMAD4</text>
<text x="75.20" y="31.04" font-size="4.2" text-anchor="end" fill="#fff" font-weight="normal" opacity="0.92">5.82e-2</text>
<rect x="22.30" y="33.12" width="48.60" height="3.9" fill="#eb4870"/>
<text x="21.60" y="36.67" font-size="4.6" text-anchor="end" fill="#3c3c3c" font-weight="normal" >STAT3</text>
<text x="70.40" y="36.47" font-size="4.2" text-anchor="end" fill="#fff" font-weight="normal" opacity="0.92">7.25e-2</text>
<rect x="22.30" y="38.55" width="41.70" height="3.9" fill="#eb4870"/>
<text x="21.60" y="42.10" font-size="4.6" text-anchor="end" fill="#3c3c3c" font-weight="normal" >TCF3</text>
<text x="63.50" y="41.90" font-size="4.2" text-anchor="end" fill="#fff" font-weight="normal" opacity="0.92">1.02e-1</text>
<rect x="22.30" y="43.98" width="36.60" height="3.9" fill="#eb4870"/>
<text x="21.60" y="47.53" font-size="4.6" text-anchor="end" fill="#3c3c3c" font-weight="normal" >IRF1</text>
<text x="58.40" y="47.33" font-size="4.2" text-anchor="end" fill="#fff" font-weight="normal" opacity="0.92">1.35e-1</text>
<rect x="22.30" y="49.41" width="34.30" height="3.9" fill="#eb4870"/>
<text x="21.60" y="52.96" font-size="4.6" text-anchor="end" fill="#3c3c3c" font-weight="normal" >PPARD</text>
<text x="56.10" y="52.76" font-size="4.2" text-anchor="end" fill="#fff" font-weight="normal" opacity="0.92">1.41e-1</text>
<rect x="22.30" y="54.84" width="31.50" height="3.9" fill="#eb4870"/>
<text x="21.60" y="58.39" font-size="4.6" text-anchor="end" fill="#3c3c3c" font-weight="normal" >NANOG</text>
<text x="53.30" y="58.19" font-size="4.2" text-anchor="end" fill="#fff" font-weight="normal" opacity="0.92">1.57e-1</text>
<rect x="22.30" y="60.27" width="30.60" height="3.9" fill="#eb4870"/>
<text x="21.60" y="63.82" font-size="4.6" text-anchor="end" fill="#3c3c3c" font-weight="normal" >TP53</text>
<text x="52.40" y="63.62" font-size="4.2" text-anchor="end" fill="#fff" font-weight="normal" opacity="0.92">1.62e-1</text>
<rect x="22.30" y="65.70" width="28.60" height="3.9" fill="#eb4870"/>
<text x="21.60" y="69.25" font-size="4.6" text-anchor="end" fill="#3c3c3c" font-weight="normal" >REST</text>
<text x="50.40" y="69.05" font-size="4.2" text-anchor="end" fill="#fff" font-weight="normal" opacity="0.92">1.77e-1</text>
<rect x="22.30" y="71.13" width="27.70" height="3.9" fill="#eb4870"/>
<text x="21.60" y="74.68" font-size="4.6" text-anchor="end" fill="#3c3c3c" font-weight="normal" >SALL4</text>
<text x="49.50" y="74.48" font-size="4.2" text-anchor="end" fill="#fff" font-weight="normal" opacity="0.92">1.84e-1</text>
<rect x="22.30" y="76.56" width="27.00" height="3.9" fill="#eb4870"/>
<text x="21.60" y="80.11" font-size="4.6" text-anchor="end" fill="#3c3c3c" font-weight="normal" >SUZ12</text>
<text x="48.80" y="79.91" font-size="4.2" text-anchor="end" fill="#fff" font-weight="normal" opacity="0.92">1.90e-1</text>
<rect x="22.30" y="81.99" width="25.50" height="3.9" fill="#eb4870"/>
<text x="21.60" y="85.54" font-size="4.6" text-anchor="end" fill="#3c3c3c" font-weight="normal" >ATF3</text>
<text x="47.30" y="85.34" font-size="4.2" text-anchor="end" fill="#fff" font-weight="normal" opacity="0.92">2.03e-1</text>
<rect x="22.30" y="87.42" width="25.10" height="3.9" fill="#eb4870"/>
<text x="21.60" y="90.97" font-size="4.6" text-anchor="end" fill="#3c3c3c" font-weight="normal" >RCOR1</text>
<text x="46.90" y="90.77" font-size="4.2" text-anchor="end" fill="#fff" font-weight="normal" opacity="0.92">2.06e-1</text>
<rect x="22.30" y="92.85" width="24.20" height="3.9" fill="#eb4870"/>
<text x="21.60" y="96.40" font-size="4.6" text-anchor="end" fill="#3c3c3c" font-weight="normal" >TP63</text>
<text x="46.00" y="96.20" font-size="4.2" text-anchor="end" fill="#fff" font-weight="normal" opacity="0.92">2.14e-1</text>
<rect x="22.30" y="98.28" width="22.20" height="3.9" fill="#eb4870"/>
<text x="21.60" y="101.83" font-size="4.6" text-anchor="end" fill="#3c3c3c" font-weight="normal" >ZBTB7A</text>
<text x="44.00" y="101.63" font-size="4.2" text-anchor="end" fill="#fff" font-weight="normal" opacity="0.92">2.35e-1</text>
<rect x="22.30" y="103.71" width="17.50" height="3.9" fill="#eb4870"/>
<text x="21.60" y="107.26" font-size="4.6" text-anchor="end" fill="#3c3c3c" font-weight="normal" >PPARG</text>
<text x="39.30" y="107.06" font-size="4.2" text-anchor="end" fill="#b02a4a" font-weight="normal" opacity="0.55">7.56e-1</text>
<rect x="22.30" y="109.14" width="16.60" height="3.9" fill="#eb4870"/>
<text x="21.60" y="112.69" font-size="4.6" text-anchor="end" fill="#3c3c3c" font-weight="normal" >RUNX1</text>
<text x="38.40" y="112.49" font-size="4.2" text-anchor="end" fill="#b02a4a" font-weight="normal" opacity="0.55">8.23e-1</text>
<rect x="22.30" y="114.57" width="16.60" height="3.9" fill="#eb4870"/>
<text x="21.60" y="118.12" font-size="4.6" text-anchor="end" fill="#3c3c3c" font-weight="normal" >TRIM28</text>
<text x="38.40" y="117.92" font-size="4.2" text-anchor="end" fill="#b02a4a" font-weight="normal" opacity="0.55">8.23e-1</text>
<line x1="22.30" y1="121.4" x2="216" y2="121.4" stroke="#555" stroke-width="0.5"/>
<line x1="22.80" y1="121.4" x2="22.80" y2="123.0" stroke="#555" stroke-width="0.45"/>
<text x="22.80" y="126.60" font-size="4.8" text-anchor="middle" fill="#444" font-weight="normal" >0.0</text>
<line x1="44.28" y1="121.4" x2="44.28" y2="123.0" stroke="#555" stroke-width="0.45"/>
<text x="44.28" y="126.60" font-size="4.8" text-anchor="middle" fill="#444" font-weight="normal" >0.5</text>
<line x1="65.75" y1="121.4" x2="65.75" y2="123.0" stroke="#555" stroke-width="0.45"/>
<text x="65.75" y="126.60" font-size="4.8" text-anchor="middle" fill="#444" font-weight="normal" >1.0</text>
<line x1="87.23" y1="121.4" x2="87.23" y2="123.0" stroke="#555" stroke-width="0.45"/>
<text x="87.23" y="126.60" font-size="4.8" text-anchor="middle" fill="#444" font-weight="normal" >1.5</text>
<line x1="108.70" y1="121.4" x2="108.70" y2="123.0" stroke="#555" stroke-width="0.45"/>
<text x="108.70" y="126.60" font-size="4.8" text-anchor="middle" fill="#444" font-weight="normal" >2.0</text>
<line x1="130.18" y1="121.4" x2="130.18" y2="123.0" stroke="#555" stroke-width="0.45"/>
<text x="130.18" y="126.60" font-size="4.8" text-anchor="middle" fill="#444" font-weight="normal" >2.5</text>
<line x1="151.65" y1="121.4" x2="151.65" y2="123.0" stroke="#555" stroke-width="0.45"/>
<text x="151.65" y="126.60" font-size="4.8" text-anchor="middle" fill="#444" font-weight="normal" >3.0</text>
<line x1="173.13" y1="121.4" x2="173.13" y2="123.0" stroke="#555" stroke-width="0.45"/>
<text x="173.13" y="126.60" font-size="4.8" text-anchor="middle" fill="#444" font-weight="normal" >3.5</text>
<line x1="194.60" y1="121.4" x2="194.60" y2="123.0" stroke="#555" stroke-width="0.45"/>
<text x="194.60" y="126.60" font-size="4.8" text-anchor="middle" fill="#444" font-weight="normal" >4.0</text>
<text x="119.00" y="133.80" font-size="4.25" text-anchor="middle" fill="#444" font-weight="normal" >-log<tspan font-size="3.0" dy="0.8">10</tspan><tspan dy="-0.8">(p-value)</tspan></text>
<text x="33.00" y="144.80" font-size="7.85" text-anchor="start" fill="#111" font-weight="normal" stroke="#111" stroke-width="0.06">Kinase Enrichment Analysis (KEA)</text>
<rect x="26.80" y="149.00" width="191.70" height="3.85" fill="#3f87cf"/>
<text x="26.10" y="152.53" font-size="4.6" text-anchor="end" fill="#3c3c3c" font-weight="normal" >MAPK14</text>
<text x="218.00" y="152.33" font-size="4.2" text-anchor="end" fill="#fff" font-weight="normal" opacity="0.92">1.37e-20</text>
<rect x="26.80" y="154.37" width="174.30" height="3.85" fill="#3f87cf"/>
<text x="26.10" y="157.90" font-size="4.6" text-anchor="end" fill="#3c3c3c" font-weight="normal" >CSNK2A1</text>
<text x="200.60" y="157.70" font-size="4.2" text-anchor="end" fill="#fff" font-weight="normal" opacity="0.92">5.31e-19</text>
<rect x="26.80" y="159.74" width="174.30" height="3.85" fill="#3f87cf"/>
<text x="26.10" y="163.27" font-size="4.6" text-anchor="end" fill="#3c3c3c" font-weight="normal" >MAPK1</text>
<text x="200.60" y="163.07" font-size="4.2" text-anchor="end" fill="#fff" font-weight="normal" opacity="0.92">6.09e-19</text>
<rect x="26.80" y="165.11" width="155.50" height="3.85" fill="#3f87cf"/>
<text x="26.10" y="168.64" font-size="4.6" text-anchor="end" fill="#3c3c3c" font-weight="normal" >CDK1</text>
<text x="181.80" y="168.44" font-size="4.2" text-anchor="end" fill="#fff" font-weight="normal" opacity="0.92">5.37e-17</text>
<rect x="26.80" y="170.48" width="146.80" height="3.85" fill="#3f87cf"/>
<text x="26.10" y="174.00" font-size="4.6" text-anchor="end" fill="#3c3c3c" font-weight="normal" >AKT1</text>
<text x="173.10" y="173.81" font-size="4.2" text-anchor="end" fill="#fff" font-weight="normal" opacity="0.92">4.52e-16</text>
<rect x="26.80" y="175.85" width="141.40" height="3.85" fill="#3f87cf"/>
<text x="26.10" y="179.38" font-size="4.6" text-anchor="end" fill="#3c3c3c" font-weight="normal" >MAPK3</text>
<text x="167.70" y="179.18" font-size="4.2" text-anchor="end" fill="#fff" font-weight="normal" opacity="0.92">2.37e-15</text>
<rect x="26.80" y="181.22" width="137.50" height="3.85" fill="#3f87cf"/>
<text x="26.10" y="184.75" font-size="4.6" text-anchor="end" fill="#3c3c3c" font-weight="normal" >HIPK2</text>
<text x="163.80" y="184.55" font-size="4.2" text-anchor="end" fill="#fff" font-weight="normal" opacity="0.92">3.95e-15</text>
<rect x="26.80" y="186.59" width="134.90" height="3.85" fill="#3f87cf"/>
<text x="26.10" y="190.12" font-size="4.6" text-anchor="end" fill="#3c3c3c" font-weight="normal" >ERK1</text>
<text x="161.20" y="189.92" font-size="4.2" text-anchor="end" fill="#fff" font-weight="normal" opacity="0.92">7.07e-15</text>
<rect x="26.80" y="191.96" width="133.10" height="3.85" fill="#3f87cf"/>
<text x="26.10" y="195.49" font-size="4.6" text-anchor="end" fill="#3c3c3c" font-weight="normal" >GSK3B</text>
<text x="159.40" y="195.29" font-size="4.2" text-anchor="end" fill="#fff" font-weight="normal" opacity="0.92">1.34e-14</text>
<rect x="26.80" y="197.33" width="128.20" height="3.85" fill="#3f87cf"/>
<text x="26.10" y="200.85" font-size="4.6" text-anchor="end" fill="#3c3c3c" font-weight="normal" >CDK4</text>
<text x="154.50" y="200.66" font-size="4.2" text-anchor="end" fill="#fff" font-weight="normal" opacity="0.92">3.35e-14</text>
<rect x="26.80" y="202.70" width="123.70" height="3.85" fill="#3f87cf"/>
<text x="26.10" y="206.22" font-size="4.6" text-anchor="end" fill="#3c3c3c" font-weight="normal" >DNAPK</text>
<text x="150.00" y="206.03" font-size="4.2" text-anchor="end" fill="#fff" font-weight="normal" opacity="0.92">1.06e-13</text>
<rect x="26.80" y="208.07" width="113.50" height="3.85" fill="#3f87cf"/>
<text x="26.10" y="211.59" font-size="4.6" text-anchor="end" fill="#3c3c3c" font-weight="normal" >CK2ALPHA</text>
<text x="139.80" y="211.40" font-size="4.2" text-anchor="end" fill="#fff" font-weight="normal" opacity="0.92">1.54e-12</text>
<rect x="26.80" y="213.44" width="110.00" height="3.85" fill="#3f87cf"/>
<text x="26.10" y="216.97" font-size="4.6" text-anchor="end" fill="#3c3c3c" font-weight="normal" >ERK2</text>
<text x="136.30" y="216.77" font-size="4.2" text-anchor="end" fill="#fff" font-weight="normal" opacity="0.92">3.62e-12</text>
<rect x="26.80" y="218.81" width="107.80" height="3.85" fill="#3f87cf"/>
<text x="26.10" y="222.34" font-size="4.6" text-anchor="end" fill="#3c3c3c" font-weight="normal" >MAPK8</text>
<text x="134.10" y="222.14" font-size="4.2" text-anchor="end" fill="#fff" font-weight="normal" opacity="0.92">3.87e-12</text>
<rect x="26.80" y="224.18" width="107.40" height="3.85" fill="#3f87cf"/>
<text x="26.10" y="227.71" font-size="4.6" text-anchor="end" fill="#3c3c3c" font-weight="normal" >CDK2</text>
<text x="133.70" y="227.51" font-size="4.2" text-anchor="end" fill="#fff" font-weight="normal" opacity="0.92">5.63e-12</text>
<rect x="26.80" y="229.55" width="90.10" height="3.85" fill="#3f87cf"/>
<text x="26.10" y="233.08" font-size="4.6" text-anchor="end" fill="#3c3c3c" font-weight="normal" >IKKALPHA</text>
<text x="116.40" y="232.88" font-size="4.2" text-anchor="end" fill="#fff" font-weight="normal" opacity="0.92">7.49e-10</text>
<rect x="26.80" y="234.92" width="85.30" height="3.85" fill="#3f87cf"/>
<text x="26.10" y="238.45" font-size="4.6" text-anchor="end" fill="#3c3c3c" font-weight="normal" >JNK1</text>
<text x="111.60" y="238.25" font-size="4.2" text-anchor="end" fill="#fff" font-weight="normal" opacity="0.92">2.36e-9</text>
<rect x="26.80" y="240.29" width="84.60" height="3.85" fill="#3f87cf"/>
<text x="26.10" y="243.82" font-size="4.6" text-anchor="end" fill="#3c3c3c" font-weight="normal" >CDC2</text>
<text x="110.90" y="243.62" font-size="4.2" text-anchor="end" fill="#fff" font-weight="normal" opacity="0.92">5.06e-9</text>
<rect x="26.80" y="245.66" width="78.10" height="3.85" fill="#3f87cf"/>
<text x="26.10" y="249.19" font-size="4.6" text-anchor="end" fill="#3c3c3c" font-weight="normal" >GSK3BETA</text>
<text x="104.40" y="248.99" font-size="4.2" text-anchor="end" fill="#fff" font-weight="normal" opacity="0.92">6.55e-9</text>
<rect x="26.80" y="251.03" width="73.10" height="3.85" fill="#3f87cf"/>
<text x="26.10" y="254.56" font-size="4.6" text-anchor="end" fill="#3c3c3c" font-weight="normal" >PKBALPHA</text>
<text x="99.40" y="254.36" font-size="4.2" text-anchor="end" fill="#fff" font-weight="normal" opacity="0.92">1.79e-8</text>
<line x1="26.80" y1="258" x2="220.4" y2="258" stroke="#555" stroke-width="0.5"/>
<line x1="27.30" y1="258" x2="27.30" y2="259.6" stroke="#555" stroke-width="0.45"/>
<text x="27.30" y="263.00" font-size="4.8" text-anchor="middle" fill="#444" font-weight="normal" >0</text>
<line x1="46.40" y1="258" x2="46.40" y2="259.6" stroke="#555" stroke-width="0.45"/>
<text x="46.40" y="263.00" font-size="4.8" text-anchor="middle" fill="#444" font-weight="normal" >2</text>
<line x1="65.50" y1="258" x2="65.50" y2="259.6" stroke="#555" stroke-width="0.45"/>
<text x="65.50" y="263.00" font-size="4.8" text-anchor="middle" fill="#444" font-weight="normal" >4</text>
<line x1="84.60" y1="258" x2="84.60" y2="259.6" stroke="#555" stroke-width="0.45"/>
<text x="84.60" y="263.00" font-size="4.8" text-anchor="middle" fill="#444" font-weight="normal" >6</text>
<line x1="103.70" y1="258" x2="103.70" y2="259.6" stroke="#555" stroke-width="0.45"/>
<text x="103.70" y="263.00" font-size="4.8" text-anchor="middle" fill="#444" font-weight="normal" >8</text>
<line x1="122.80" y1="258" x2="122.80" y2="259.6" stroke="#555" stroke-width="0.45"/>
<text x="122.80" y="263.00" font-size="4.8" text-anchor="middle" fill="#444" font-weight="normal" >10</text>
<line x1="141.90" y1="258" x2="141.90" y2="259.6" stroke="#555" stroke-width="0.45"/>
<text x="141.90" y="263.00" font-size="4.8" text-anchor="middle" fill="#444" font-weight="normal" >12</text>
<line x1="161.00" y1="258" x2="161.00" y2="259.6" stroke="#555" stroke-width="0.45"/>
<text x="161.00" y="263.00" font-size="4.8" text-anchor="middle" fill="#444" font-weight="normal" >14</text>
<line x1="180.10" y1="258" x2="180.10" y2="259.6" stroke="#555" stroke-width="0.45"/>
<text x="180.10" y="263.00" font-size="4.8" text-anchor="middle" fill="#444" font-weight="normal" >16</text>
<line x1="199.20" y1="258" x2="199.20" y2="259.6" stroke="#555" stroke-width="0.45"/>
<text x="199.20" y="263.00" font-size="4.8" text-anchor="middle" fill="#444" font-weight="normal" >18</text>
<line x1="218.30" y1="258" x2="218.30" y2="259.6" stroke="#555" stroke-width="0.45"/>
<text x="218.30" y="263.00" font-size="4.8" text-anchor="middle" fill="#444" font-weight="normal" >20</text>
<text x="123.40" y="270.40" font-size="4.25" text-anchor="middle" fill="#444" font-weight="normal" >-log<tspan font-size="3.0" dy="0.8">10</tspan><tspan dy="-0.8">(p-value)</tspan></text>
<text x="3.50" y="6.60" font-size="8.2" text-anchor="start" fill="#111" font-weight="bold" >a</text>
<text x="3.20" y="273.60" font-size="7.9" text-anchor="start" fill="#222" font-weight="bold" >b</text>
<text x="29.80" y="283.70" font-size="7.85" text-anchor="start" fill="#111" font-weight="normal" stroke="#111" stroke-width="0.06">Transcription Factor Enrichment Analysis (TFEA)</text>
<rect x="22.60" y="286.70" width="193.10" height="3.9" fill="#eb4870"/>
<text x="21.90" y="290.25" font-size="4.6" text-anchor="end" fill="#3c3c3c" font-weight="normal" >FOSL2</text>
<text x="215.20" y="290.05" font-size="4.2" text-anchor="end" fill="#fff" font-weight="normal" opacity="0.92">4.60e-1</text>
<rect x="22.60" y="292.12" width="193.10" height="3.9" fill="#eb4870"/>
<text x="21.90" y="295.68" font-size="4.6" text-anchor="end" fill="#3c3c3c" font-weight="normal" >ATF2</text>
<text x="215.20" y="295.47" font-size="4.2" text-anchor="end" fill="#fff" font-weight="normal" opacity="0.92">4.59e-1</text>
<rect x="22.60" y="297.55" width="181.40" height="3.9" fill="#eb4870"/>
<text x="21.90" y="301.10" font-size="4.6" text-anchor="end" fill="#3c3c3c" font-weight="normal" >ELF1</text>
<text x="203.50" y="300.90" font-size="4.2" text-anchor="end" fill="#fff" font-weight="normal" opacity="0.92">5.43e-1</text>
<rect x="22.60" y="302.97" width="176.90" height="3.9" fill="#eb4870"/>
<text x="21.90" y="306.52" font-size="4.6" text-anchor="end" fill="#3c3c3c" font-weight="normal" >E2F1</text>
<text x="199.00" y="306.32" font-size="4.2" text-anchor="end" fill="#fff" font-weight="normal" opacity="0.92">5.94e-1</text>
<rect x="22.60" y="308.40" width="111.10" height="3.9" fill="#eb4870"/>
<text x="21.90" y="311.95" font-size="4.6" text-anchor="end" fill="#3c3c3c" font-weight="normal" >SUZ12</text>
<text x="133.20" y="311.75" font-size="4.2" text-anchor="end" fill="#fff" font-weight="normal" opacity="0.92">1.68e-1</text>
<rect x="22.60" y="313.82" width="93.40" height="3.9" fill="#eb4870"/>
<text x="21.90" y="317.38" font-size="4.6" text-anchor="end" fill="#3c3c3c" font-weight="normal" >ERG</text>
<text x="115.50" y="317.17" font-size="4.2" text-anchor="end" fill="#fff" font-weight="normal" opacity="0.92">2.70e-1</text>
<rect x="22.60" y="319.25" width="85.80" height="3.9" fill="#eb4870"/>
<text x="21.90" y="322.80" font-size="4.6" text-anchor="end" fill="#3c3c3c" font-weight="normal" >MYOD1</text>
<text x="107.90" y="322.60" font-size="4.2" text-anchor="end" fill="#fff" font-weight="normal" opacity="0.92">2.70e-1</text>
<rect x="22.60" y="324.68" width="82.00" height="3.9" fill="#eb4870"/>
<text x="21.90" y="328.23" font-size="4.6" text-anchor="end" fill="#3c3c3c" font-weight="normal" >FOXP2</text>
<text x="104.10" y="328.02" font-size="4.2" text-anchor="end" fill="#fff" font-weight="normal" opacity="0.92">2.70e-1</text>
<rect x="22.60" y="330.10" width="82.00" height="3.9" fill="#eb4870"/>
<text x="21.90" y="333.65" font-size="4.6" text-anchor="end" fill="#3c3c3c" font-weight="normal" >TCF7L2</text>
<text x="104.10" y="333.45" font-size="4.2" text-anchor="end" fill="#fff" font-weight="normal" opacity="0.92">2.70e-1</text>
<rect x="22.60" y="335.52" width="77.00" height="3.9" fill="#eb4870"/>
<text x="21.90" y="339.07" font-size="4.6" text-anchor="end" fill="#3c3c3c" font-weight="normal" >GABPA</text>
<text x="99.10" y="338.87" font-size="4.2" text-anchor="end" fill="#fff" font-weight="normal" opacity="0.92">2.70e-1</text>
<rect x="22.60" y="340.95" width="74.70" height="3.9" fill="#eb4870"/>
<text x="21.90" y="344.50" font-size="4.6" text-anchor="end" fill="#3c3c3c" font-weight="normal" >FOXA1</text>
<text x="96.80" y="344.30" font-size="4.2" text-anchor="end" fill="#fff" font-weight="normal" opacity="0.92">2.70e-1</text>
<rect x="22.60" y="346.38" width="74.10" height="3.9" fill="#eb4870"/>
<text x="21.90" y="349.93" font-size="4.6" text-anchor="end" fill="#3c3c3c" font-weight="normal" >FOS</text>
<text x="96.20" y="349.72" font-size="4.2" text-anchor="end" fill="#fff" font-weight="normal" opacity="0.92">2.70e-1</text>
<rect x="22.60" y="351.80" width="73.80" height="3.9" fill="#eb4870"/>
<text x="21.90" y="355.35" font-size="4.6" text-anchor="end" fill="#3c3c3c" font-weight="normal" >TAF7</text>
<text x="95.90" y="355.15" font-size="4.2" text-anchor="end" fill="#fff" font-weight="normal" opacity="0.92">2.70e-1</text>
<rect x="22.60" y="357.22" width="72.30" height="3.9" fill="#eb4870"/>
<text x="21.90" y="360.77" font-size="4.6" text-anchor="end" fill="#3c3c3c" font-weight="normal" >FLI1</text>
<text x="94.40" y="360.57" font-size="4.2" text-anchor="end" fill="#fff" font-weight="normal" opacity="0.92">2.70e-1</text>
<rect x="22.60" y="362.65" width="71.90" height="3.9" fill="#eb4870"/>
<text x="21.90" y="366.20" font-size="4.6" text-anchor="end" fill="#3c3c3c" font-weight="normal" >CHD1</text>
<text x="94.00" y="366.00" font-size="4.2" text-anchor="end" fill="#fff" font-weight="normal" opacity="0.92">2.70e-1</text>
<rect x="22.60" y="368.07" width="69.80" height="3.9" fill="#eb4870"/>
<text x="21.90" y="371.62" font-size="4.6" text-anchor="end" fill="#3c3c3c" font-weight="normal" >ZBTB7A</text>
<text x="91.90" y="371.42" font-size="4.2" text-anchor="end" fill="#fff" font-weight="normal" opacity="0.92">2.70e-1</text>
<rect x="22.60" y="373.50" width="67.90" height="3.9" fill="#eb4870"/>
<text x="21.90" y="377.05" font-size="4.6" text-anchor="end" fill="#3c3c3c" font-weight="normal" >NELFE</text>
<text x="90.00" y="376.85" font-size="4.2" text-anchor="end" fill="#fff" font-weight="normal" opacity="0.92">2.70e-1</text>
<rect x="22.60" y="378.92" width="66.10" height="3.9" fill="#eb4870"/>
<text x="21.90" y="382.47" font-size="4.6" text-anchor="end" fill="#3c3c3c" font-weight="normal" >CREB1</text>
<text x="88.20" y="382.27" font-size="4.2" text-anchor="end" fill="#fff" font-weight="normal" opacity="0.92">2.70e-1</text>
<rect x="22.60" y="384.35" width="62.90" height="3.9" fill="#eb4870"/>
<text x="21.90" y="387.90" font-size="4.6" text-anchor="end" fill="#3c3c3c" font-weight="normal" >CEBPD</text>
<text x="85.00" y="387.70" font-size="4.2" text-anchor="end" fill="#fff" font-weight="normal" opacity="0.92">2.70e-1</text>
<rect x="22.60" y="389.77" width="60.70" height="3.9" fill="#eb4870"/>
<text x="21.90" y="393.32" font-size="4.6" text-anchor="end" fill="#3c3c3c" font-weight="normal" >CTCF</text>
<text x="82.80" y="393.12" font-size="4.2" text-anchor="end" fill="#fff" font-weight="normal" opacity="0.92">2.70e-1</text>
<line x1="22.60" y1="396.4" x2="216.8" y2="396.4" stroke="#555" stroke-width="0.5"/>
<line x1="22.70" y1="396.4" x2="22.70" y2="398.0" stroke="#555" stroke-width="0.45"/>
<text x="22.70" y="401.60" font-size="4.8" text-anchor="middle" fill="#444" font-weight="normal" >0.0</text>
<line x1="37.12" y1="396.4" x2="37.12" y2="398.0" stroke="#555" stroke-width="0.45"/>
<text x="37.12" y="401.60" font-size="4.8" text-anchor="middle" fill="#444" font-weight="normal" >0.1</text>
<line x1="51.54" y1="396.4" x2="51.54" y2="398.0" stroke="#555" stroke-width="0.45"/>
<text x="51.54" y="401.60" font-size="4.8" text-anchor="middle" fill="#444" font-weight="normal" >0.2</text>
<line x1="65.96" y1="396.4" x2="65.96" y2="398.0" stroke="#555" stroke-width="0.45"/>
<text x="65.96" y="401.60" font-size="4.8" text-anchor="middle" fill="#444" font-weight="normal" >0.3</text>
<line x1="80.38" y1="396.4" x2="80.38" y2="398.0" stroke="#555" stroke-width="0.45"/>
<text x="80.38" y="401.60" font-size="4.8" text-anchor="middle" fill="#444" font-weight="normal" >0.4</text>
<line x1="94.80" y1="396.4" x2="94.80" y2="398.0" stroke="#555" stroke-width="0.45"/>
<text x="94.80" y="401.60" font-size="4.8" text-anchor="middle" fill="#444" font-weight="normal" >0.5</text>
<line x1="109.22" y1="396.4" x2="109.22" y2="398.0" stroke="#555" stroke-width="0.45"/>
<text x="109.22" y="401.60" font-size="4.8" text-anchor="middle" fill="#444" font-weight="normal" >0.6</text>
<line x1="123.64" y1="396.4" x2="123.64" y2="398.0" stroke="#555" stroke-width="0.45"/>
<text x="123.64" y="401.60" font-size="4.8" text-anchor="middle" fill="#444" font-weight="normal" >0.7</text>
<line x1="138.06" y1="396.4" x2="138.06" y2="398.0" stroke="#555" stroke-width="0.45"/>
<text x="138.06" y="401.60" font-size="4.8" text-anchor="middle" fill="#444" font-weight="normal" >0.8</text>
<line x1="152.48" y1="396.4" x2="152.48" y2="398.0" stroke="#555" stroke-width="0.45"/>
<text x="152.48" y="401.60" font-size="4.8" text-anchor="middle" fill="#444" font-weight="normal" >0.9</text>
<line x1="166.90" y1="396.4" x2="166.90" y2="398.0" stroke="#555" stroke-width="0.45"/>
<text x="166.90" y="401.60" font-size="4.8" text-anchor="middle" fill="#444" font-weight="normal" >1.0</text>
<line x1="181.32" y1="396.4" x2="181.32" y2="398.0" stroke="#555" stroke-width="0.45"/>
<text x="181.32" y="401.60" font-size="4.8" text-anchor="middle" fill="#444" font-weight="normal" >1.1</text>
<line x1="195.74" y1="396.4" x2="195.74" y2="398.0" stroke="#555" stroke-width="0.45"/>
<text x="195.74" y="401.60" font-size="4.8" text-anchor="middle" fill="#444" font-weight="normal" >1.2</text>
<line x1="210.16" y1="396.4" x2="210.16" y2="398.0" stroke="#555" stroke-width="0.45"/>
<text x="210.16" y="401.60" font-size="4.8" text-anchor="middle" fill="#444" font-weight="normal" >1.3</text>
<text x="119.20" y="409.80" font-size="4.25" text-anchor="middle" fill="#444" font-weight="normal" >-log<tspan font-size="3.0" dy="0.8">10</tspan><tspan dy="-0.8">(p-value)</tspan></text>
<text x="33.90" y="421.30" font-size="7.85" text-anchor="start" fill="#111" font-weight="normal" stroke="#111" stroke-width="0.06">Kinase Enrichment Analysis (KEA)</text>
<rect x="26.00" y="426.40" width="192.80" height="3.7" fill="#3f87cf"/>
<text x="25.30" y="429.85" font-size="4.6" text-anchor="end" fill="#3c3c3c" font-weight="normal" >CDK1</text>
<text x="218.30" y="429.65" font-size="4.2" text-anchor="end" fill="#fff" font-weight="normal" opacity="0.92">1.75e-11</text>
<rect x="26.00" y="431.72" width="157.30" height="3.7" fill="#3f87cf"/>
<text x="25.30" y="435.18" font-size="4.6" text-anchor="end" fill="#3c3c3c" font-weight="normal" >MAPK14</text>
<text x="182.80" y="434.97" font-size="4.2" text-anchor="end" fill="#fff" font-weight="normal" opacity="0.92">3.37e-9</text>
<rect x="26.00" y="437.05" width="136.70" height="3.7" fill="#3f87cf"/>
<text x="25.30" y="440.50" font-size="4.6" text-anchor="end" fill="#3c3c3c" font-weight="normal" >MAPK8</text>
<text x="162.20" y="440.30" font-size="4.2" text-anchor="end" fill="#fff" font-weight="normal" opacity="0.92">3.37e-8</text>
<rect x="26.00" y="442.38" width="136.70" height="3.7" fill="#3f87cf"/>
<text x="25.30" y="445.83" font-size="4.6" text-anchor="end" fill="#3c3c3c" font-weight="normal" >JNK1</text>
<text x="162.20" y="445.62" font-size="4.2" text-anchor="end" fill="#fff" font-weight="normal" opacity="0.92">3.37e-8</text>
<rect x="26.00" y="447.70" width="126.60" height="3.7" fill="#3f87cf"/>
<text x="25.30" y="451.15" font-size="4.6" text-anchor="end" fill="#3c3c3c" font-weight="normal" >MAPK1</text>
<text x="152.10" y="450.95" font-size="4.2" text-anchor="end" fill="#fff" font-weight="normal" opacity="0.92">1.48e-8</text>
<rect x="26.00" y="453.02" width="120.50" height="3.7" fill="#3f87cf"/>
<text x="25.30" y="456.48" font-size="4.6" text-anchor="end" fill="#3c3c3c" font-weight="normal" >CDC2</text>
<text x="146.00" y="456.27" font-size="4.2" text-anchor="end" fill="#fff" font-weight="normal" opacity="0.92">3.50e-7</text>
<rect x="26.00" y="458.35" width="113.80" height="3.7" fill="#3f87cf"/>
<text x="25.30" y="461.80" font-size="4.6" text-anchor="end" fill="#3c3c3c" font-weight="normal" >CSNK2A1</text>
<text x="139.30" y="461.60" font-size="4.2" text-anchor="end" fill="#fff" font-weight="normal" opacity="0.92">1.28e-6</text>
<rect x="26.00" y="463.67" width="111.30" height="3.7" fill="#3f87cf"/>
<text x="25.30" y="467.12" font-size="4.6" text-anchor="end" fill="#3c3c3c" font-weight="normal" >CDK2</text>
<text x="136.80" y="466.92" font-size="4.2" text-anchor="end" fill="#fff" font-weight="normal" opacity="0.92">8.35e-6</text>
<rect x="26.00" y="469.00" width="107.90" height="3.7" fill="#3f87cf"/>
<text x="25.30" y="472.45" font-size="4.6" text-anchor="end" fill="#3c3c3c" font-weight="normal" >GSK3BETA</text>
<text x="133.40" y="472.25" font-size="4.2" text-anchor="end" fill="#fff" font-weight="normal" opacity="0.92">1.06e-5</text>
<rect x="26.00" y="474.32" width="103.00" height="3.7" fill="#3f87cf"/>
<text x="25.30" y="477.78" font-size="4.6" text-anchor="end" fill="#3c3c3c" font-weight="normal" >DNAPK</text>
<text x="128.50" y="477.57" font-size="4.2" text-anchor="end" fill="#fff" font-weight="normal" opacity="0.92">8.93e-6</text>
<rect x="26.00" y="479.65" width="98.30" height="3.7" fill="#3f87cf"/>
<text x="25.30" y="483.10" font-size="4.6" text-anchor="end" fill="#3c3c3c" font-weight="normal" >GSK3B</text>
<text x="123.80" y="482.90" font-size="4.2" text-anchor="end" fill="#fff" font-weight="normal" opacity="0.92">1.49e-5</text>
<rect x="26.00" y="484.97" width="91.60" height="3.7" fill="#3f87cf"/>
<text x="25.30" y="488.43" font-size="4.6" text-anchor="end" fill="#3c3c3c" font-weight="normal" >CDK4</text>
<text x="117.10" y="488.22" font-size="4.2" text-anchor="end" fill="#fff" font-weight="normal" opacity="0.92">5.32e-5</text>
<rect x="26.00" y="490.30" width="85.40" height="3.7" fill="#3f87cf"/>
<text x="25.30" y="493.75" font-size="4.6" text-anchor="end" fill="#3c3c3c" font-weight="normal" >ERK2</text>
<text x="110.90" y="493.55" font-size="4.2" text-anchor="end" fill="#fff" font-weight="normal" opacity="0.92">1.37e-4</text>
<rect x="26.00" y="495.62" width="83.00" height="3.7" fill="#3f87cf"/>
<text x="25.30" y="499.08" font-size="4.6" text-anchor="end" fill="#3c3c3c" font-weight="normal" >ERK1</text>
<text x="108.50" y="498.88" font-size="4.2" text-anchor="end" fill="#fff" font-weight="normal" opacity="0.92">1.97e-4</text>
<rect x="26.00" y="500.95" width="80.90" height="3.7" fill="#3f87cf"/>
<text x="25.30" y="504.40" font-size="4.6" text-anchor="end" fill="#3c3c3c" font-weight="normal" >CK2ALPHA</text>
<text x="106.40" y="504.20" font-size="4.2" text-anchor="end" fill="#fff" font-weight="normal" opacity="0.92">2.37e-4</text>
<rect x="26.00" y="506.27" width="79.30" height="3.7" fill="#3f87cf"/>
<text x="25.30" y="509.73" font-size="4.6" text-anchor="end" fill="#3c3c3c" font-weight="normal" >ATM</text>
<text x="104.80" y="509.52" font-size="4.2" text-anchor="end" fill="#fff" font-weight="normal" opacity="0.92">4.00e-4</text>
<rect x="26.00" y="511.60" width="72.40" height="3.7" fill="#3f87cf"/>
<text x="25.30" y="515.05" font-size="4.6" text-anchor="end" fill="#3c3c3c" font-weight="normal" >HIPK2</text>
<text x="97.90" y="514.85" font-size="4.2" text-anchor="end" fill="#fff" font-weight="normal" opacity="0.92">8.75e-4</text>
<rect x="26.00" y="516.92" width="70.30" height="3.7" fill="#3f87cf"/>
<text x="25.30" y="520.38" font-size="4.6" text-anchor="end" fill="#3c3c3c" font-weight="normal" >MAPK9</text>
<text x="95.80" y="520.17" font-size="4.2" text-anchor="end" fill="#fff" font-weight="normal" opacity="0.92">9.45e-4</text>
<rect x="26.00" y="522.25" width="70.30" height="3.7" fill="#3f87cf"/>
<text x="25.30" y="525.70" font-size="4.6" text-anchor="end" fill="#3c3c3c" font-weight="normal" >NLK</text>
<text x="95.80" y="525.50" font-size="4.2" text-anchor="end" fill="#fff" font-weight="normal" opacity="0.92">9.45e-4</text>
<rect x="26.00" y="527.57" width="67.00" height="3.7" fill="#3f87cf"/>
<text x="25.30" y="531.02" font-size="4.6" text-anchor="end" fill="#3c3c3c" font-weight="normal" >MAPK3</text>
<text x="92.50" y="530.82" font-size="4.2" text-anchor="end" fill="#fff" font-weight="normal" opacity="0.92">1.37e-3</text>
<line x1="26.00" y1="534.5" x2="215.5" y2="534.5" stroke="#555" stroke-width="0.5"/>
<line x1="25.75" y1="534.5" x2="25.75" y2="536.1" stroke="#555" stroke-width="0.45"/>
<text x="25.75" y="539.60" font-size="4.8" text-anchor="middle" fill="#444" font-weight="normal" >0</text>
<line x1="43.38" y1="534.5" x2="43.38" y2="536.1" stroke="#555" stroke-width="0.45"/>
<text x="43.38" y="539.60" font-size="4.8" text-anchor="middle" fill="#444" font-weight="normal" >1</text>
<line x1="61.00" y1="534.5" x2="61.00" y2="536.1" stroke="#555" stroke-width="0.45"/>
<text x="61.00" y="539.60" font-size="4.8" text-anchor="middle" fill="#444" font-weight="normal" >2</text>
<line x1="78.62" y1="534.5" x2="78.62" y2="536.1" stroke="#555" stroke-width="0.45"/>
<text x="78.62" y="539.60" font-size="4.8" text-anchor="middle" fill="#444" font-weight="normal" >3</text>
<line x1="96.25" y1="534.5" x2="96.25" y2="536.1" stroke="#555" stroke-width="0.45"/>
<text x="96.25" y="539.60" font-size="4.8" text-anchor="middle" fill="#444" font-weight="normal" >4</text>
<line x1="113.88" y1="534.5" x2="113.88" y2="536.1" stroke="#555" stroke-width="0.45"/>
<text x="113.88" y="539.60" font-size="4.8" text-anchor="middle" fill="#444" font-weight="normal" >5</text>
<line x1="131.50" y1="534.5" x2="131.50" y2="536.1" stroke="#555" stroke-width="0.45"/>
<text x="131.50" y="539.60" font-size="4.8" text-anchor="middle" fill="#444" font-weight="normal" >6</text>
<line x1="149.12" y1="534.5" x2="149.12" y2="536.1" stroke="#555" stroke-width="0.45"/>
<text x="149.12" y="539.60" font-size="4.8" text-anchor="middle" fill="#444" font-weight="normal" >7</text>
<line x1="166.75" y1="534.5" x2="166.75" y2="536.1" stroke="#555" stroke-width="0.45"/>
<text x="166.75" y="539.60" font-size="4.8" text-anchor="middle" fill="#444" font-weight="normal" >8</text>
<line x1="184.38" y1="534.5" x2="184.38" y2="536.1" stroke="#555" stroke-width="0.45"/>
<text x="184.38" y="539.60" font-size="4.8" text-anchor="middle" fill="#444" font-weight="normal" >9</text>
<line x1="202.00" y1="534.5" x2="202.00" y2="536.1" stroke="#555" stroke-width="0.45"/>
<text x="202.00" y="539.60" font-size="4.8" text-anchor="middle" fill="#444" font-weight="normal" >10</text>
<text x="120.20" y="547.40" font-size="4.25" text-anchor="middle" fill="#444" font-weight="normal" >-log<tspan font-size="3.0" dy="0.8">10</tspan><tspan dy="-0.8">(p-value)</tspan></text>
<text x="237.80" y="8.90" font-size="7.85" text-anchor="start" fill="#111" font-weight="normal" stroke="#111" stroke-width="0.06">Protein-Protein Interaction Expansion</text>
<text x="265.20" y="130.60" font-size="7.85" text-anchor="start" fill="#111" font-weight="normal" stroke="#111" stroke-width="0.06">Expression2Kinases Network</text>
<text x="237.60" y="303.30" font-size="7.85" text-anchor="start" fill="#111" font-weight="normal" stroke="#111" stroke-width="0.06">Protein-Protein Interaction Expansion</text>
<text x="253.20" y="402.20" font-size="7.85" text-anchor="start" fill="#111" font-weight="normal" stroke="#111" stroke-width="0.06">Expression2Kinases Network</text>
<circle cx="249.5" cy="280.4" r="2.3" fill="#eb4870"/>
<text x="254.10" y="282.70" font-size="6.45" text-anchor="start" fill="#1a1a1a" font-weight="normal" stroke="#1a1a1a" stroke-width="0.05">Transcription factor</text>
<circle cx="249.5" cy="286.6" r="2.3" fill="#d2d2d2"/>
<text x="254.10" y="289.10" font-size="6.45" text-anchor="start" fill="#1a1a1a" font-weight="normal" stroke="#1a1a1a" stroke-width="0.05">Intermediate protein</text>
<circle cx="319.6" cy="279.9" r="2.3" fill="#3f87cf"/>
<text x="323.00" y="282.70" font-size="6.45" text-anchor="start" fill="#1a1a1a" font-weight="normal" stroke="#1a1a1a" stroke-width="0.05">Kinase</text>
<rect x="318" y="286.2" width="3" height="1" fill="#22a046"/>
<text x="323.00" y="289.10" font-size="6.45" text-anchor="start" fill="#1a1a1a" font-weight="normal" stroke="#1a1a1a" stroke-width="0.05">Phosphorylation</text>
<rect x="352.2" y="279.2" width="3" height="0.9" fill="#bbb"/>
<text x="358.40" y="282.70" font-size="6.45" text-anchor="start" fill="#1a1a1a" font-weight="normal" stroke="#1a1a1a" stroke-width="0.05">PPI</text>
</svg></body></html>
